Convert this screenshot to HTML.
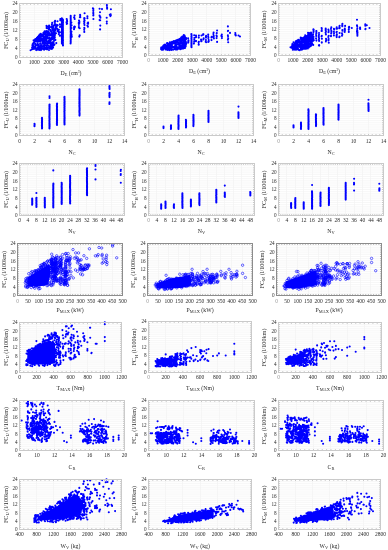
<!DOCTYPE html>
<html><head><meta charset="utf-8"><style>
html,body{margin:0;padding:0;background:#fff;}
svg{display:block;}
text{font-family:"Liberation Serif","DejaVu Serif",serif;fill:#2a2a2a;}
.tl{font-size:5.2px;}
.lg{fill:#9a9a9a;}
.xt{font-size:5.5px;}
.al{font-size:6.2px;}
.xl{font-size:5.8px;}
.xl .sb{font-size:4.4px;}
.xl .sp{font-size:3.6px;}
.sb{font-size:4.6px;}
.sp{font-size:4px;}
.dt{fill:none;stroke:#00f;stroke-width:2.1;stroke-linecap:round;}
.grid{stroke:#f1f1f1;stroke-width:0.6;fill:none;}
</style></head><body>
<svg width="388" height="550" viewBox="0 0 388 550">
<rect width="388" height="550" fill="#fff"/>
<path d="M34.5 3.5V57.5M48.5 3.5V57.5M63.5 3.5V57.5M78.5 3.5V57.5M93.5 3.5V57.5M107.5 3.5V57.5M19.5 55.25H122.5M19.5 53H122.5M19.5 50.75H122.5M19.5 48.5H122.5M19.5 46.25H122.5M19.5 44H122.5M19.5 41.75H122.5M19.5 39.5H122.5M19.5 37.25H122.5M19.5 35H122.5M19.5 32.75H122.5M19.5 30.5H122.5M19.5 28.25H122.5M19.5 26H122.5M19.5 23.75H122.5M19.5 21.5H122.5M19.5 19.25H122.5M19.5 17H122.5M19.5 14.75H122.5M19.5 12.5H122.5M19.5 10.25H122.5M19.5 8H122.5M19.5 5.75H122.5" class="grid"/>
<path d="M19.5 55.25h1.2M122.5 55.25h-1.2M19.5 53h1.2M122.5 53h-1.2M19.5 50.75h1.2M122.5 50.75h-1.2M19.5 48.5h1.2M122.5 48.5h-1.2M19.5 46.25h1.2M122.5 46.25h-1.2M19.5 44h1.2M122.5 44h-1.2M19.5 41.75h1.2M122.5 41.75h-1.2M19.5 39.5h1.2M122.5 39.5h-1.2M19.5 37.25h1.2M122.5 37.25h-1.2M19.5 35h1.2M122.5 35h-1.2M19.5 32.75h1.2M122.5 32.75h-1.2M19.5 30.5h1.2M122.5 30.5h-1.2M19.5 28.25h1.2M122.5 28.25h-1.2M19.5 26h1.2M122.5 26h-1.2M19.5 23.75h1.2M122.5 23.75h-1.2M19.5 21.5h1.2M122.5 21.5h-1.2M19.5 19.25h1.2M122.5 19.25h-1.2M19.5 17h1.2M122.5 17h-1.2M19.5 14.75h1.2M122.5 14.75h-1.2M19.5 12.5h1.2M122.5 12.5h-1.2M19.5 10.25h1.2M122.5 10.25h-1.2M19.5 8h1.2M122.5 8h-1.2M19.5 5.75h1.2M122.5 5.75h-1.2M23.18 57.5v-1.2M23.18 3.5v1.2M26.86 57.5v-1.2M26.86 3.5v1.2M30.54 57.5v-1.2M30.54 3.5v1.2M34.21 57.5v-1.2M34.21 3.5v1.2M37.89 57.5v-1.2M37.89 3.5v1.2M41.57 57.5v-1.2M41.57 3.5v1.2M45.25 57.5v-1.2M45.25 3.5v1.2M48.93 57.5v-1.2M48.93 3.5v1.2M52.61 57.5v-1.2M52.61 3.5v1.2M56.29 57.5v-1.2M56.29 3.5v1.2M59.96 57.5v-1.2M59.96 3.5v1.2M63.64 57.5v-1.2M63.64 3.5v1.2M67.32 57.5v-1.2M67.32 3.5v1.2M71 57.5v-1.2M71 3.5v1.2M74.68 57.5v-1.2M74.68 3.5v1.2M78.36 57.5v-1.2M78.36 3.5v1.2M82.04 57.5v-1.2M82.04 3.5v1.2M85.71 57.5v-1.2M85.71 3.5v1.2M89.39 57.5v-1.2M89.39 3.5v1.2M93.07 57.5v-1.2M93.07 3.5v1.2M96.75 57.5v-1.2M96.75 3.5v1.2M100.43 57.5v-1.2M100.43 3.5v1.2M104.11 57.5v-1.2M104.11 3.5v1.2M107.79 57.5v-1.2M107.79 3.5v1.2M111.46 57.5v-1.2M111.46 3.5v1.2M115.14 57.5v-1.2M115.14 3.5v1.2M118.82 57.5v-1.2M118.82 3.5v1.2" stroke="#888" stroke-width="0.6" fill="none"/>
<g fill="#00f"></g>
<path class="dt" d="M44.4 36.8h0M41.7 46.6h0M46.6 49.2h0M45.4 37.4h0M52.1 35.2h0M38.9 46.4h0M35.8 41.4h0M46.8 36.9h0M47.8 38.1h0M39 41.5h0M42.4 35.4h0M50.6 43.9h0M37.4 41.2h0M44.1 47.6h0M49 35.1h0M41.5 45.1h0M35.1 39.4h0M49.8 41.2h0M52.5 35.7h0M48.2 41.7h0M45.4 38.7h0M42.9 43.1h0M33 43.9h0M51.2 35.1h0M40.8 43.2h0M32.9 45.4h0M40.9 47.6h0M44.7 47.8h0M51.2 47.4h0M38.2 37.8h0M40.1 47.8h0M54.5 32.2h0M37.1 39.3h0M45.6 34.6h0M40.4 41.1h0M43.9 42.2h0M53.1 45.6h0M52.5 46h0M40.9 37.5h0M34 42.5h0M32.1 47.6h0M46.2 32.2h0M42.7 39.3h0M39.7 34.6h0M51.4 32.4h0M32.1 49.3h0M44.2 32.1h0M44.2 49.8h0M52.2 43.8h0M37.8 36.8h0M35.5 45.4h0M44.3 45.6h0M52 46.2h0M51.1 44.8h0M36.9 40h0M37.7 43.8h0M54.5 38.5h0M54.4 36.8h0M46.5 48.2h0M51.7 39.2h0M47.2 46h0M33.5 43.1h0M49.5 39.2h0M35.8 45.8h0M39.5 46.1h0M54.8 37.4h0M41.1 49.2h0M48.9 32.6h0M35 46.6h0M39.9 40.7h0M44.1 48.9h0M41.9 47.6h0M51.3 33.5h0M37.3 41.5h0M37.7 37.9h0M34.6 48.4h0M40 38.8h0M45.5 48.3h0M41.6 48.5h0M43.5 40.3h0M35.6 39.1h0M48.9 40.9h0M39.3 40h0M44.8 45.7h0M34 40.9h0M50 39.8h0M45 45.2h0M53.4 38.4h0M46.2 39.8h0M43.8 43.8h0M42.4 40.4h0M43 49.1h0M48.3 47.7h0M54.1 34.5h0M44.9 49.1h0M51.7 31.9h0M33.3 43.3h0M50.3 48.1h0M35.2 44.3h0M47.3 32h0M36.8 49.3h0M41.1 39.4h0M43.9 36.2h0M44.8 38.4h0M46.5 39.9h0M32.5 45.6h0M41.6 48.4h0M51.2 34.5h0M35.1 48.6h0M45.2 43.9h0M48 38.1h0M33.2 49h0M46.7 46.1h0M33.5 47.2h0M33.1 47.4h0M42.4 36.2h0M44.8 48.7h0M44.1 34.1h0M39 35.5h0M49.7 35.2h0M43.5 32.8h0M49.1 40.7h0M36 39.1h0M53.9 31.3h0M51.2 38.2h0M43.4 46.8h0M40.9 39.8h0M39.7 46.7h0M48.5 42.5h0M41.2 36.4h0M33.2 44.8h0M33.5 46.9h0M52.4 43.3h0M38.5 38.8h0M37.8 49.5h0M37.4 49.6h0M38.9 36.6h0M42.9 39.7h0M36.3 39.8h0M45.6 40.3h0M49.5 43h0M48.7 47.7h0M40.8 35.9h0M48.9 42.7h0M32.6 46.8h0M52.9 42.4h0M49.1 46.3h0M34.8 40.2h0M43.6 46.8h0M50.8 46.6h0M45.5 48h0M47.9 43.8h0M34 46.8h0M44.9 42.4h0M46.5 43.5h0M50.6 44.9h0M43.6 40.4h0M49.2 34.4h0M49 33.4h0M43.4 37.1h0M43 43.6h0M49.9 42.1h0M49.3 35.5h0M47.6 43.7h0M47.7 35.2h0M43.9 38.9h0M52.9 33.2h0M42.3 34.7h0M36.5 49.1h0M36.6 41.4h0M34.9 40.2h0M54.4 31.8h0M51.2 39.8h0M52.8 44h0M37.1 48.1h0M42.3 35.4h0M39.1 46.9h0M51.6 31.6h0M53.7 44.2h0M53.1 35.2h0M40.4 37.4h0M40.2 38.1h0M33.9 46.8h0M38.4 48.9h0M43.8 33h0M40.5 49.4h0M52.7 46.3h0M46.6 48.5h0M54.1 40.7h0M49.1 38.6h0M49.6 42.7h0M53.7 31.7h0M42.8 36.3h0M38.6 44.7h0M54.9 34.5h0M47.2 35.4h0M44.9 37.4h0M36.5 48.3h0M43.4 33.7h0M45.2 47.9h0M49.5 37.8h0M41.4 40.2h0M40.5 36.2h0M54.7 31.7h0M43.6 42.4h0M52.2 33.6h0M41.1 38.5h0M52.4 29.5h0M53 39.1h0M40.9 48.7h0M51.3 47.2h0M54.8 34.3h0M44 43.5h0M47 45.3h0M42.5 40.7h0M32.4 45.7h0M37.1 48.6h0M47 35.5h0M46.8 43.9h0M44.1 41.4h0M40.8 33.8h0M38.7 38.8h0M52.7 39.1h0M43.5 43.4h0M41.6 34.5h0M47.5 48.7h0M39.6 38h0M47.9 33.2h0M50.6 44.7h0M43.6 33.4h0M54.8 35.6h0M51.2 33.9h0M36.8 45.2h0M38.6 49.3h0M43.4 33h0M36.9 37.9h0M47.5 49.2h0M36.6 49.7h0M53.9 36h0M36 48.9h0M47.4 37.1h0M40.5 36.1h0M38.2 36.5h0M54.4 31.6h0M54.6 33.4h0M40.1 46.5h0M51.2 38.2h0M40.4 48.6h0M53 29.6h0M41.4 46.3h0M53.6 34.5h0M49.4 48.1h0M39.6 34.8h0M37.8 44.3h0M53.5 42.5h0M54.1 29.5h0M37.1 39.1h0M40.8 34.3h0M41.8 39.5h0M53.8 32.9h0M50.8 44.7h0M51.2 45.5h0M46.1 36h0M39.2 36.7h0M50.3 30.7h0M36.2 45h0M39.3 49.9h0M48.5 38.5h0M37.1 37.9h0M46.4 43.4h0M49.5 47h0M47.4 31.6h0M51.7 35.3h0M45.1 36.9h0M49.2 33.2h0M35.2 47.8h0M45.4 36h0M41 50.1h0M43.7 33.9h0M50.9 42.9h0M42.9 46.4h0M53.8 36.9h0M52.3 38.6h0M37.7 45.6h0M54.2 31.3h0M45.8 42.2h0M37.6 41.8h0M47.1 33.3h0M47.8 32.9h0M50.6 40.7h0M41 40.7h0M35.4 43.8h0M41.3 35h0M38.9 49.3h0M39 41.1h0M40.1 37.9h0M49 33.3h0M41.7 46.5h0M41.2 47.8h0M46.9 48.4h0M41 36.6h0M45.1 48.5h0M56 33.3h0M55.4 39.9h0M53.3 26.9h0M52.2 28.7h0M41.9 46.3h0M53.4 27.6h0M45 33.2h0M50.6 47.7h0M53.6 25.7h0M47.2 37.9h0M47.9 31h0M42.3 38.8h0M42.5 41h0M43.1 34.8h0M51.6 44.4h0M50.8 44.3h0M44.6 33.1h0M56.7 26.2h0M50.8 45.4h0M36.2 50.1h0M44.3 49.4h0M55.7 27.1h0M52.3 48.6h0M51.4 26.9h0M55.2 30.2h0M53 26.4h0M44.6 48.3h0M44.7 31.4h0M35.4 48.8h0M49.4 47.7h0M35.6 44.5h0M48.2 32.5h0M54.6 38.1h0M46.7 47.3h0M48 33.5h0M52.5 29.9h0M40.7 44h0M53.1 29.6h0M46.8 41.1h0M47.6 34.6h0M44.8 47.7h0M37.1 38.9h0M46.9 28.2h0M47.8 35.8h0M34.6 48.8h0M33.6 40.4h0M54.5 44.5h0M46.2 32.3h0M48.4 34.9h0M56.3 43.1h0M37.7 47.9h0M32.6 44.4h0M56.4 26.4h0M36.4 39.5h0M44.7 40.5h0M53 27.3h0M32.3 47.5h0M52.1 42.6h0M51.1 35.5h0M51 35.2h0M40.1 43.5h0M49.8 46.2h0M50.2 29.9h0M46 34.7h0M52.3 37.2h0M38.2 40.5h0M57.1 28.5h0M54.8 22.8h0M51.1 49h0M51.1 31.6h0M54.8 31.7h0M37.5 48h0M48 41.9h0M49 50h0M43.7 46.1h0M49.8 46.6h0M42.8 42.8h0M46.4 31.1h0M36.7 40h0M33.1 48.1h0M33.9 48.6h0M49.7 40.3h0M49.8 43.2h0M40.8 45.5h0M53.1 47.5h0M32.8 46.9h0M53.9 45.3h0M48.1 45.7h0M46.8 27.2h0M46.5 25.9h0M46.9 26.6h0M46.6 28.1h0M49.1 25.6h0M49.3 28.8h0M49.3 26.1h0M49.7 27.3h0M52.4 26.2h0M51.9 24.5h0M52.2 27.4h0M52.1 26.9h0M52.2 22.9h0M55.1 20.7h0M55.1 21.4h0M54.6 21.7h0M55.1 29.1h0M54.6 24.5h0M57.6 29.2h0M57.4 25.1h0M57.5 29.7h0M57.5 31.2h0M57.5 21.3h0M57.7 25.2h0M59.9 32.3h0M59.8 35.7h0M60.2 35.6h0M60.2 26.2h0M60 27h0M60.3 20.3h0M60.3 19h0M59.9 24.2h0M30.6 50.2h0M49 26.7h0M48.7 29.2h0M48.6 26.4h0M48.8 28.4h0M56 27.1h0M55.7 24.5h0M55.6 28.7h0M55.9 27.9h0M55.6 25.5h0M58.9 32.2h0M58.5 31.3h0M58.9 29.7h0M58.5 30.1h0M58.8 34.1h0M61.8 18.3h0M61.8 18.9h0M61.9 19.6h0M61.9 20.2h0M61.9 20.9h0M61.8 21.5h0M61.9 22.2h0M61.9 22.8h0M62 23.4h0M61.9 24.1h0M61.8 24.7h0M62 25.4h0M61.8 26h0M61.9 26.7h0M62 27.3h0M61.9 28h0M61.9 28.6h0M61.9 29.2h0M61.9 29.9h0M61.9 30.5h0M61.8 31.2h0M61.9 31.8h0M61.9 32.5h0M61.8 33.1h0M61.9 33.7h0M61.9 34.4h0M61.9 35h0M61.9 35.7h0M61.9 36.3h0M61.9 37h0M61.8 37.6h0M61.9 38.3h0M61.9 38.9h0M61.9 39.5h0M62 40.2h0M61.9 40.8h0M61.9 41.5h0M61.9 42.1h0M61.9 42.8h0M61.9 43.4h0M62.9 19.6h0M63 20.2h0M62.9 20.9h0M62.9 21.5h0M63 22.2h0M62.9 22.8h0M62.9 23.5h0M62.9 24.1h0M62.9 24.8h0M62.9 25.4h0M62.8 26.1h0M62.9 26.7h0M62.9 27.3h0M62.9 28h0M62.9 28.6h0M62.9 29.3h0M62.9 29.9h0M62.9 30.6h0M62.9 31.2h0M62.9 31.9h0M62.9 32.5h0M63 33.1h0M62.8 33.8h0M62.9 34.4h0M62.9 35.1h0M62.9 35.7h0M62.9 36.4h0M63 37h0M62.8 37.7h0M62.9 38.3h0M62.8 39h0M62.9 39.6h0M63 40.2h0M62.9 40.9h0M62.8 41.5h0M62.9 42.2h0M62.9 42.8h0M62.9 43.5h0M62.9 44.1h0M62.9 44.8h0M63 45.4h0M66.8 23.8h0M67.1 21.4h0M66.9 23.6h0M67 20.3h0M67.1 23.2h0M66.5 22.2h0M66.7 19h0M66.8 24h0M70.7 15.9h0M70.7 16.7h0M70.7 17.5h0M70.7 18.3h0M70.7 19.1h0M70.8 19.9h0M70.7 20.8h0M70.7 21.6h0M70.7 22.4h0M70.7 23.2h0M70.7 24h0M70.6 24.8h0M70.7 25.6h0M70.7 26.4h0M70.7 27.2h0M70.7 28h0M70.7 28.8h0M70.7 29.6h0M70.8 30.5h0M70.7 31.3h0M70.7 32.1h0M70.8 32.9h0M70.8 33.7h0M70.7 34.5h0M70.7 35.3h0M70.7 36.1h0M70.6 36.9h0M70.8 37.7h0M70.7 38.5h0M70.8 39.4h0M70.7 40.2h0M70.7 41h0M70.7 41.8h0M70.7 42.6h0M70.6 43.4h0M71.2 33.6h0M71.4 22.6h0M71.4 28h0M71.5 31.7h0M71.6 25.3h0M71.8 36.7h0M71.2 36h0M71.7 35h0M74.1 27.5h0M74.6 15.5h0M74 29.3h0M74.7 19h0M74.1 17.4h0M74.2 26.7h0M74.3 17.5h0M74.9 26.9h0M74.2 28.4h0M74.6 26.8h0M79.3 22.4h0M79.4 21.9h0M79 20.5h0M79.2 21h0M79.2 22.3h0M78.9 24.1h0M78.7 23.1h0M78.9 22.5h0M78.9 23.2h0M78.9 26h0M80.2 17.3h0M79.9 17.2h0M80.2 15.8h0M80.3 17.2h0M79.3 23.1h0M80.1 14.8h0M79.7 28.3h0M78.9 27.6h0M79.7 35.4h0M79.3 36.6h0M84.3 22.2h0M84.6 13.3h0M84.5 25h0M84.2 29.7h0M84.2 22h0M84.3 27.9h0M84.1 21.2h0M84.2 23.6h0M84.6 18.4h0M84.6 20.6h0M84.3 18h0M84.3 31.9h0M84.4 28.3h0M84.2 18.9h0M87.6 23.2h0M87.9 26.6h0M87.4 25.6h0M88.1 22.5h0M87.4 18.3h0M87.4 16.4h0M88.1 23.6h0M87.9 26.7h0M88.1 23.7h0M93.3 15.4h0M93.4 15.1h0M93.3 10.4h0M93.3 13.4h0M93.4 9h0M92.9 8.3h0M93.4 19h0M93.3 12.3h0M100.3 25.6h0M100 12.2h0M99.8 16.4h0M99.9 16.6h0M100.1 29.3h0M99.6 20.1h0M99.6 8.7h0M100.2 20.3h0M100.3 17h0M99.6 15.5h0M100.1 29.4h0M100.4 17.7h0M102 9.1h0M106.9 5.8h0M107.1 8.1h0M106.8 4h0M106.7 17.7h0M106.8 23.5h0M106.8 21.5h0M106.8 4.1h0M107.1 8.7h0M107.1 7.5h0M109.8 14.8h0M110.8 15.5h0M110.9 9.2h0M110.7 14.3h0M110.4 16.1h0"/>
<rect x="19.5" y="3.5" width="103" height="54" fill="none" stroke="#cacaca" stroke-width="1"/>
<text x="17.7" y="59.3" class="tl" text-anchor="end">0</text>
<text x="17.7" y="50.3" class="tl" text-anchor="end">4</text>
<text x="17.7" y="41.3" class="tl" text-anchor="end">8</text>
<text x="17.7" y="32.3" class="tl" text-anchor="end">12</text>
<text x="17.7" y="23.3" class="tl" text-anchor="end">16</text>
<text x="17.7" y="14.3" class="tl" text-anchor="end">20</text>
<text x="17.7" y="5.3" class="tl" text-anchor="end">24</text>
<text x="19.5" y="64.1" class="tl xt" text-anchor="middle">0</text>
<text x="34.21" y="64.1" class="tl xt" text-anchor="middle">1000</text>
<text x="48.93" y="64.1" class="tl xt" text-anchor="middle">2000</text>
<text x="63.64" y="64.1" class="tl xt" text-anchor="middle">3000</text>
<text x="78.36" y="64.1" class="tl xt" text-anchor="middle">4000</text>
<text x="93.07" y="64.1" class="tl xt" text-anchor="middle">5000</text>
<text x="107.79" y="64.1" class="tl xt" text-anchor="middle">6000</text>
<text x="122.5" y="64.1" class="tl xt" text-anchor="middle">7000</text>
<text x="71" y="75.4" class="al xl" text-anchor="middle">D<tspan class="sb" dy="0.9">E</tspan><tspan dy="-0.9"> (cm</tspan><tspan class="sp" dy="-2">3</tspan><tspan dy="2">)</tspan></text>
<text transform="translate(7.9 30.5) rotate(-90)" class="al" text-anchor="middle">FC<tspan class="sb" dy="1.2">U</tspan><tspan dy="-1.2"> (l/100km)</tspan></text>
<path d="M163.5 3.5V55.5M177.5 3.5V55.5M192.5 3.5V55.5M206.5 3.5V55.5M221.5 3.5V55.5M235.5 3.5V55.5M148.5 53.33H250.5M148.5 51.17H250.5M148.5 49H250.5M148.5 46.83H250.5M148.5 44.67H250.5M148.5 42.5H250.5M148.5 40.33H250.5M148.5 38.17H250.5M148.5 36H250.5M148.5 33.83H250.5M148.5 31.67H250.5M148.5 29.5H250.5M148.5 27.33H250.5M148.5 25.17H250.5M148.5 23H250.5M148.5 20.83H250.5M148.5 18.67H250.5M148.5 16.5H250.5M148.5 14.33H250.5M148.5 12.17H250.5M148.5 10H250.5M148.5 7.83H250.5M148.5 5.67H250.5" class="grid"/>
<path d="M148.5 53.33h1.2M250.5 53.33h-1.2M148.5 51.17h1.2M250.5 51.17h-1.2M148.5 49h1.2M250.5 49h-1.2M148.5 46.83h1.2M250.5 46.83h-1.2M148.5 44.67h1.2M250.5 44.67h-1.2M148.5 42.5h1.2M250.5 42.5h-1.2M148.5 40.33h1.2M250.5 40.33h-1.2M148.5 38.17h1.2M250.5 38.17h-1.2M148.5 36h1.2M250.5 36h-1.2M148.5 33.83h1.2M250.5 33.83h-1.2M148.5 31.67h1.2M250.5 31.67h-1.2M148.5 29.5h1.2M250.5 29.5h-1.2M148.5 27.33h1.2M250.5 27.33h-1.2M148.5 25.17h1.2M250.5 25.17h-1.2M148.5 23h1.2M250.5 23h-1.2M148.5 20.83h1.2M250.5 20.83h-1.2M148.5 18.67h1.2M250.5 18.67h-1.2M148.5 16.5h1.2M250.5 16.5h-1.2M148.5 14.33h1.2M250.5 14.33h-1.2M148.5 12.17h1.2M250.5 12.17h-1.2M148.5 10h1.2M250.5 10h-1.2M148.5 7.83h1.2M250.5 7.83h-1.2M148.5 5.67h1.2M250.5 5.67h-1.2M152.14 55.5v-1.2M152.14 3.5v1.2M155.79 55.5v-1.2M155.79 3.5v1.2M159.43 55.5v-1.2M159.43 3.5v1.2M163.07 55.5v-1.2M163.07 3.5v1.2M166.71 55.5v-1.2M166.71 3.5v1.2M170.36 55.5v-1.2M170.36 3.5v1.2M174 55.5v-1.2M174 3.5v1.2M177.64 55.5v-1.2M177.64 3.5v1.2M181.29 55.5v-1.2M181.29 3.5v1.2M184.93 55.5v-1.2M184.93 3.5v1.2M188.57 55.5v-1.2M188.57 3.5v1.2M192.21 55.5v-1.2M192.21 3.5v1.2M195.86 55.5v-1.2M195.86 3.5v1.2M199.5 55.5v-1.2M199.5 3.5v1.2M203.14 55.5v-1.2M203.14 3.5v1.2M206.79 55.5v-1.2M206.79 3.5v1.2M210.43 55.5v-1.2M210.43 3.5v1.2M214.07 55.5v-1.2M214.07 3.5v1.2M217.71 55.5v-1.2M217.71 3.5v1.2M221.36 55.5v-1.2M221.36 3.5v1.2M225 55.5v-1.2M225 3.5v1.2M228.64 55.5v-1.2M228.64 3.5v1.2M232.29 55.5v-1.2M232.29 3.5v1.2M235.93 55.5v-1.2M235.93 3.5v1.2M239.57 55.5v-1.2M239.57 3.5v1.2M243.21 55.5v-1.2M243.21 3.5v1.2M246.86 55.5v-1.2M246.86 3.5v1.2" stroke="#888" stroke-width="0.6" fill="none"/>
<g fill="#00f"></g>
<path class="dt" d="M166.9 49.6h0M168.4 45.9h0M164.5 48h0M169.9 43.5h0M171.8 45.1h0M163.9 47h0M169.8 44.6h0M176.9 41h0M170.4 46.8h0M185.4 46.8h0M161.7 49.8h0M178.9 47.5h0M169 44h0M171.5 48.4h0M170.2 45.2h0M176.2 48.5h0M181.7 38.9h0M171.4 43.7h0M181.9 48.4h0M161.2 47.6h0M181.8 48.1h0M182.9 47.1h0M178.4 48.8h0M174.9 47h0M165.4 46.3h0M185 38.2h0M176.3 45.1h0M166.9 46.3h0M181.3 41.7h0M162.4 47.1h0M180.8 38.1h0M175.6 48.6h0M183.8 42.7h0M172.8 43.7h0M164.9 45.5h0M169.8 43.3h0M170.9 42.6h0M183.3 42.1h0M180.9 41.2h0M185.4 46.5h0M175 48.1h0M172.3 49.3h0M184.5 35.5h0M176.1 40.7h0M163.3 49.5h0M167 43.3h0M177.2 49.5h0M178 40.7h0M181.1 45.6h0M180.3 49.2h0M175.9 46.4h0M161 49h0M166 49.1h0M183.3 48.4h0M162.7 49.1h0M182.6 44.3h0M182.1 42h0M179.2 43.2h0M163.9 48.1h0M182.6 39.7h0M168.6 48.7h0M163.1 49.8h0M161.6 48.5h0M169.8 50h0M184.1 35.4h0M179.5 39.1h0M181.7 39.8h0M182.4 42.8h0M184.5 37.9h0M164.9 46.6h0M176.4 42.3h0M176.5 45.6h0M181.8 43.6h0M179.7 40.9h0M181.8 39.8h0M182.6 48.1h0M184.5 42h0M183.4 38.7h0M165 47.5h0M170 43.8h0M172 42.6h0M163.3 45.7h0M181.9 48.1h0M168.7 45.6h0M170.3 46.3h0M161.7 48.2h0M185.6 42.3h0M173.8 42.8h0M186 38h0M166.8 47.3h0M175.5 42.7h0M183.4 45.7h0M173.3 42.3h0M175.9 48h0M182.6 42.7h0M170.7 49.3h0M180.9 39.8h0M171.7 49.9h0M181.6 48.8h0M181.9 47.8h0M177 40.2h0M171.7 42.4h0M185.2 44.4h0M181.8 48.4h0M183.8 35h0M174.6 49h0M174 41.3h0M185.5 39h0M168.2 44.6h0M185.7 42.6h0M182.6 44.1h0M175.3 44.7h0M165.5 45.6h0M172.4 43.1h0M176.5 41.8h0M170.3 43.7h0M183.2 38.2h0M175 42.2h0M167.7 50h0M168 46.6h0M183.4 41.4h0M171.9 46h0M185.8 46.1h0M169.5 45.1h0M176.6 47.8h0M182.1 42.6h0M179.9 46.1h0M180.4 41.9h0M181.1 45.6h0M184.6 36.5h0M180.6 43.7h0M173.4 49.6h0M175.4 41h0M181.1 48.2h0M176.3 40.4h0M172.2 41.7h0M179.4 39.1h0M170.5 43.2h0M181.2 47.8h0M173.5 41.5h0M184.7 39.6h0M182.7 47.6h0M185.8 37.7h0M171.5 48.8h0M175.2 42.3h0M184.7 46.6h0M173.9 42.6h0M178.4 40.6h0M169.7 43.8h0M169.5 49.4h0M178.2 42.7h0M170.8 43.3h0M175.4 48.3h0M185.9 42.1h0M171.9 44.3h0M174.3 47.3h0M184 45.3h0M183.9 41.1h0M173.8 42.4h0M177 44h0M169.5 50.1h0M171.1 46.8h0M168.3 45.3h0M182.6 43.7h0M173.4 43.2h0M167.2 44.6h0M175.5 40.9h0M174.1 47.4h0M176.5 47.1h0M180.7 39.6h0M179.2 40h0M162.7 48.7h0M161.5 48.5h0M175.7 49.5h0M171.8 44.2h0M185 47.9h0M168.5 48.6h0M181.9 39.3h0M176.2 49.5h0M173.3 49.4h0M168.3 48.2h0M173 46.9h0M186.1 39.1h0M163.4 47.4h0M177.9 39.8h0M164.2 45.6h0M182.4 36.5h0M171.9 47.6h0M181.6 37h0M169.5 45.8h0M170.2 49.5h0M165.6 49.4h0M184.2 43.7h0M183.4 36.4h0M173.8 43h0M167.3 46.6h0M170.4 44.8h0M164.8 47.8h0M168.7 44.9h0M169.8 42.3h0M163.4 45.7h0M184.4 46.6h0M183.7 48h0M177.8 40h0M171.1 44.8h0M182.8 40h0M163.2 48.8h0M179.7 45.7h0M182.6 43.4h0M171.7 45.2h0M182.4 46.7h0M183 44h0M163 46.9h0M165.7 48.8h0M178.7 40.7h0M180.1 47.5h0M185.4 41.1h0M185 45.3h0M179.9 47.5h0M176.9 41.6h0M171.5 42.5h0M184.9 36.5h0M178.9 47.1h0M167.1 43.1h0M186 44.5h0M179 45h0M173.9 41.5h0M185.1 40h0M168.1 48.4h0M169 47.3h0M174.8 46.4h0M164.6 44.9h0M176.1 41.7h0M180.6 47.5h0M165.3 45.5h0M186.3 43.3h0M184.7 44.6h0M176.9 49.2h0M182.6 39.1h0M165 44.5h0M164.6 46.8h0M182.3 46.1h0M182.2 39.5h0M169.9 43.1h0M170 47.5h0M175.3 44.3h0M182 45.6h0M173.3 42.3h0M171.9 49.7h0M182.6 47.9h0M181.2 41.2h0M167.7 44.9h0M173.9 41.1h0M177.9 47.4h0M184.3 37.1h0M185.8 44.2h0M178.2 44h0M168 43.5h0M185.6 42h0M169.3 48.4h0M188.1 38.3h0M188.5 40.7h0M188.2 42.6h0M188.3 41.9h0M188.3 41.4h0M188.4 40.2h0M191.4 34h0M191.4 34.7h0M191.6 35.3h0M191.5 36h0M191.4 36.6h0M191.6 37.3h0M191.5 38h0M191.4 38.6h0M191.5 39.3h0M191.5 39.9h0M191.5 40.6h0M191.5 41.3h0M191.5 41.9h0M191.5 42.6h0M191.4 43.2h0M191.5 43.9h0M191.5 44.6h0M191.4 45.2h0M191.5 45.9h0M191.4 46.5h0M191.5 47.2h0M194.3 39.5h0M194.2 41.4h0M193.9 43.6h0M194.2 35.3h0M194.3 38h0M193.9 43.3h0M196.1 41.1h0M195.9 41.1h0M195.8 37.2h0M196 35.6h0M196.2 37h0M198.6 42.2h0M198.7 44.4h0M198.8 44.2h0M198.7 44.8h0M198.9 35.5h0M198.8 37.6h0M198.9 41.8h0M201.5 35.5h0M201.2 41.3h0M201.6 41.1h0M201 40h0M201.1 39.5h0M201.5 35.5h0M203.7 38.3h0M203.3 34.8h0M203.4 39.4h0M203.4 34.2h0M203.1 34.2h0M206.1 35.9h0M205.9 36.8h0M206 37.6h0M205.7 41.7h0M205.9 40.1h0M206.1 42.3h0M208.2 36.3h0M208.3 38.1h0M208.7 41.4h0M208.2 34.5h0M208.7 40.1h0M208.4 37.8h0M208.3 41.9h0M211.5 40.1h0M211.7 36.8h0M211.5 37.4h0M213.9 38.5h0M213.4 34.1h0M213.6 37.2h0M213.7 36.4h0M213.6 32.5h0M213.7 35.8h0M216.5 35.5h0M217.1 30.5h0M216.6 38.1h0M216.7 33.3h0M216.8 33.1h0M216.8 36.3h0M217.1 41.9h0M221.4 35.9h0M221.9 38.1h0M221.9 36.4h0M221.8 34.5h0M227.9 39.7h0M228.2 42.3h0M228.1 30.8h0M228.2 38.7h0M228 36.8h0M227.9 35.3h0M227.9 26.4h0M227.9 31.1h0M230 32.9h0M235.8 35.4h0M235.4 34.2h0M235.3 34.7h0M235.3 33h0M238.5 35.5h0M240 36.5h0"/>
<rect x="148.5" y="3.5" width="102" height="52" fill="none" stroke="#cacaca" stroke-width="1"/>
<text x="146.7" y="57.3" class="tl" text-anchor="end">0</text>
<text x="146.7" y="48.63" class="tl" text-anchor="end">4</text>
<text x="146.7" y="39.97" class="tl" text-anchor="end">8</text>
<text x="146.7" y="31.3" class="tl" text-anchor="end">12</text>
<text x="146.7" y="22.63" class="tl" text-anchor="end">16</text>
<text x="146.7" y="13.97" class="tl" text-anchor="end">20</text>
<text x="146.7" y="5.3" class="tl" text-anchor="end">24</text>
<text x="148.5" y="62.1" class="tl lg xt" text-anchor="middle">0</text>
<text x="163.07" y="62.1" class="tl xt" text-anchor="middle">1000</text>
<text x="177.64" y="62.1" class="tl xt" text-anchor="middle">2000</text>
<text x="192.21" y="62.1" class="tl xt" text-anchor="middle">3000</text>
<text x="206.79" y="62.1" class="tl xt" text-anchor="middle">4000</text>
<text x="221.36" y="62.1" class="tl xt" text-anchor="middle">5000</text>
<text x="235.93" y="62.1" class="tl xt" text-anchor="middle">6000</text>
<text x="250.5" y="62.1" class="tl xt" text-anchor="middle">7000</text>
<text x="199.5" y="73.4" class="al xl" text-anchor="middle">D<tspan class="sb" dy="0.9">E</tspan><tspan dy="-0.9"> (cm</tspan><tspan class="sp" dy="-2">3</tspan><tspan dy="2">)</tspan></text>
<text transform="translate(136.4 29.5) rotate(-90)" class="al" text-anchor="middle">FC<tspan class="sb" dy="1.2">H</tspan><tspan dy="-1.2"> (l/100km)</tspan></text>
<path d="M293.5 3.5V55.5M307.5 3.5V55.5M322.5 3.5V55.5M336.5 3.5V55.5M351.5 3.5V55.5M365.5 3.5V55.5M278.5 53.33H380.5M278.5 51.17H380.5M278.5 49H380.5M278.5 46.83H380.5M278.5 44.67H380.5M278.5 42.5H380.5M278.5 40.33H380.5M278.5 38.17H380.5M278.5 36H380.5M278.5 33.83H380.5M278.5 31.67H380.5M278.5 29.5H380.5M278.5 27.33H380.5M278.5 25.17H380.5M278.5 23H380.5M278.5 20.83H380.5M278.5 18.67H380.5M278.5 16.5H380.5M278.5 14.33H380.5M278.5 12.17H380.5M278.5 10H380.5M278.5 7.83H380.5M278.5 5.67H380.5" class="grid"/>
<path d="M278.5 53.33h1.2M380.5 53.33h-1.2M278.5 51.17h1.2M380.5 51.17h-1.2M278.5 49h1.2M380.5 49h-1.2M278.5 46.83h1.2M380.5 46.83h-1.2M278.5 44.67h1.2M380.5 44.67h-1.2M278.5 42.5h1.2M380.5 42.5h-1.2M278.5 40.33h1.2M380.5 40.33h-1.2M278.5 38.17h1.2M380.5 38.17h-1.2M278.5 36h1.2M380.5 36h-1.2M278.5 33.83h1.2M380.5 33.83h-1.2M278.5 31.67h1.2M380.5 31.67h-1.2M278.5 29.5h1.2M380.5 29.5h-1.2M278.5 27.33h1.2M380.5 27.33h-1.2M278.5 25.17h1.2M380.5 25.17h-1.2M278.5 23h1.2M380.5 23h-1.2M278.5 20.83h1.2M380.5 20.83h-1.2M278.5 18.67h1.2M380.5 18.67h-1.2M278.5 16.5h1.2M380.5 16.5h-1.2M278.5 14.33h1.2M380.5 14.33h-1.2M278.5 12.17h1.2M380.5 12.17h-1.2M278.5 10h1.2M380.5 10h-1.2M278.5 7.83h1.2M380.5 7.83h-1.2M278.5 5.67h1.2M380.5 5.67h-1.2M282.14 55.5v-1.2M282.14 3.5v1.2M285.79 55.5v-1.2M285.79 3.5v1.2M289.43 55.5v-1.2M289.43 3.5v1.2M293.07 55.5v-1.2M293.07 3.5v1.2M296.71 55.5v-1.2M296.71 3.5v1.2M300.36 55.5v-1.2M300.36 3.5v1.2M304 55.5v-1.2M304 3.5v1.2M307.64 55.5v-1.2M307.64 3.5v1.2M311.29 55.5v-1.2M311.29 3.5v1.2M314.93 55.5v-1.2M314.93 3.5v1.2M318.57 55.5v-1.2M318.57 3.5v1.2M322.21 55.5v-1.2M322.21 3.5v1.2M325.86 55.5v-1.2M325.86 3.5v1.2M329.5 55.5v-1.2M329.5 3.5v1.2M333.14 55.5v-1.2M333.14 3.5v1.2M336.79 55.5v-1.2M336.79 3.5v1.2M340.43 55.5v-1.2M340.43 3.5v1.2M344.07 55.5v-1.2M344.07 3.5v1.2M347.71 55.5v-1.2M347.71 3.5v1.2M351.36 55.5v-1.2M351.36 3.5v1.2M355 55.5v-1.2M355 3.5v1.2M358.64 55.5v-1.2M358.64 3.5v1.2M362.29 55.5v-1.2M362.29 3.5v1.2M365.93 55.5v-1.2M365.93 3.5v1.2M369.57 55.5v-1.2M369.57 3.5v1.2M373.21 55.5v-1.2M373.21 3.5v1.2M376.86 55.5v-1.2M376.86 3.5v1.2" stroke="#888" stroke-width="0.6" fill="none"/>
<g fill="#00f"></g>
<path class="dt" d="M310 41h0M300.4 42.9h0M297.3 45.5h0M302.8 49h0M298 48.8h0M294.3 43.1h0M307.9 40.6h0M310 34.5h0M301.3 48.4h0M296.4 45.2h0M294.8 43.5h0M309.9 44.2h0M294.8 45.6h0M312.1 43.4h0M292.1 46.9h0M310.1 39.1h0M302.5 48h0M304.8 48.8h0M307.3 44.2h0M299.5 44.7h0M304.5 39h0M301.5 43.4h0M296.1 41.1h0M306.7 38.9h0M293.5 46.2h0M292.3 47h0M299.9 42.4h0M303.6 42.7h0M305.2 43.4h0M297.8 45.8h0M296.1 45.3h0M307.6 46.3h0M297.3 46.3h0M312.5 41h0M296.6 42.1h0M311.6 35.6h0M305.2 46.3h0M295.5 46h0M301.7 42.7h0M294.4 49.1h0M294.3 45.7h0M311.2 36.1h0M295.8 49.8h0M301.6 44h0M298.1 46.8h0M300.7 38.8h0M310.8 35.2h0M304.9 40.1h0M309.9 34.4h0M303.1 40.2h0M304.5 37.2h0M294.9 46.1h0M304.9 38.4h0M296.4 45.9h0M309 38.1h0M297.8 41.5h0M310.5 36.1h0M305.8 43.4h0M300.6 43.1h0M310.3 36.9h0M310.3 39.4h0M308 47.8h0M294.4 47.8h0M311 35.9h0M294.1 44.8h0M311.1 45.4h0M308.3 44.9h0M310.2 35.4h0M307 41.8h0M301.5 48.7h0M306.9 38h0M301.8 40.2h0M302.9 39.5h0M305.1 42.5h0M302.7 44.9h0M306.6 40.1h0M297.5 40.4h0M312.4 39.9h0M299 40.2h0M311.3 37.7h0M304.1 39.7h0M292.9 47.5h0M297.6 44.2h0M302.7 38.7h0M307.2 47.6h0M301.9 43.3h0M304.6 45.8h0M298.9 45.3h0M299.2 42.2h0M304.2 44.7h0M297.6 43.9h0M304.2 37.8h0M310.9 41.3h0M306.7 42.1h0M293.5 48.9h0M302.3 42.1h0M302.3 47h0M308.9 41.1h0M304.8 47.2h0M309.2 47h0M298.4 46.8h0M302.1 41h0M300.5 41.4h0M308.4 46.1h0M293.7 44.8h0M298.6 42.1h0M294.3 45.4h0M295.8 47.3h0M292.4 44h0M309.8 36.8h0M299.9 46.6h0M304.3 39.6h0M298.6 45.3h0M305 46.9h0M298.3 39.8h0M303.4 48.8h0M294.6 49.6h0M306.4 39.6h0M305.4 38.9h0M291.9 46h0M298.9 42.2h0M301.6 48.4h0M303.7 41.1h0M300.8 47.4h0M299.7 41.3h0M310.5 40.7h0M301.4 41.9h0M309 44.6h0M307.1 40.1h0M302.9 46.2h0M307.8 35.4h0M308.8 35.1h0M292.3 46h0M305.7 45.3h0M306 40.4h0M296.1 47.7h0M302.9 41.9h0M297.2 47.9h0M308.5 47.7h0M298.8 41.2h0M301.4 43.1h0M298.6 46.8h0M294.8 48.7h0M297.4 42.3h0M299.6 42.8h0M308.3 38.3h0M306.4 46.8h0M303.7 41h0M311.5 40.8h0M310.2 34.4h0M300.1 44.1h0M291.4 47.8h0M294.4 48.8h0M303 46.8h0M301.6 44.6h0M305.6 38.3h0M295.1 47.4h0M293.6 48.7h0M292.5 46.5h0M311.9 40.3h0M305.2 37.7h0M310.8 44.8h0M309.3 38.3h0M295.6 43.1h0M297.5 42.8h0M293.8 48.6h0M297.6 47.4h0M293.7 46.7h0M312.5 39.9h0M304.8 37.1h0M300.8 45.6h0M300 44.7h0M292.9 47.2h0M293.1 48.8h0M302.2 38.3h0M298.2 45.9h0M301.6 48.9h0M309.9 43.4h0M295.4 48.8h0M312.2 39.2h0M311.7 44.4h0M307.1 36.4h0M308.2 38.4h0M308.2 43.3h0M303.4 39.3h0M298.8 44.5h0M311.6 38.9h0M292.4 48.1h0M302.4 41.9h0M310.1 41.8h0M311.7 41.6h0M308.2 42.9h0M305.9 37.2h0M307.3 36h0M299.2 42.1h0M296.9 48.3h0M295.6 43.3h0M308.1 45.3h0M306 47h0M298.1 46.9h0M300.8 48.8h0M299.6 40.2h0M306.9 44.7h0M308.2 41.4h0M301.6 46.4h0M310.9 45.9h0M304.7 36.7h0M304.5 47.5h0M308.1 35h0M306.6 39.2h0M294 49.5h0M305.5 45.8h0M293.4 47.2h0M307.2 47.3h0M308.5 43.3h0M300.2 47.2h0M308.1 47.9h0M297.1 49.4h0M302.3 49.2h0M308.2 37.6h0M309.3 37.3h0M295.7 41.6h0M310.9 44.8h0M306.4 40h0M308.1 46.6h0M309 40.2h0M292.3 44.3h0M309.3 39.1h0M303.8 47.4h0M292.8 47h0M299.8 42.9h0M300.7 37.6h0M310.2 43.1h0M296.1 44.8h0M300.3 44h0M309.3 33.3h0M309.7 34.6h0M296.1 49.8h0M311.4 43h0M311.5 38.7h0M301.8 49.8h0M294.1 47.3h0M312.7 39.9h0M309.4 35.9h0M303.1 47.9h0M302.1 38.4h0M304.8 39.7h0M313 38.1h0M305.7 43.4h0M298.7 41.2h0M306.1 48.8h0M301.7 38.1h0M310 44.4h0M303.2 39.8h0M307.9 48.5h0M307.4 45.7h0M292.8 49.7h0M311.4 33.8h0M303.9 42.3h0M307.9 43.6h0M296.4 46h0M296.6 41.7h0M299.8 50.2h0M305.4 46.8h0M306.1 38.4h0M313.2 44.9h0M306.5 36.4h0M293.5 42.3h0M309.8 46.6h0M302.2 48.2h0M293.5 45.5h0M298.9 50h0M313.1 34.6h0M297.1 49.5h0M299 49.9h0M311.8 39.8h0M310.1 43.5h0M308.6 37.2h0M293.2 45.9h0M301 41.9h0M306 45.8h0M312 41.4h0M296.6 43.4h0M295.9 46.1h0M290.5 47.2h0M303.4 37.9h0M312.6 36.2h0M303 45.8h0M306.1 39.1h0M309.3 33.1h0M305.2 39.6h0M305.6 39.5h0M305.4 40.8h0M305.3 42.4h0M305.4 36.7h0M305.3 41.1h0M305.2 35.2h0M308.2 38.6h0M308.1 40.3h0M308.3 33.7h0M308 32.9h0M308 38.2h0M308.2 40.3h0M308.1 37h0M308.1 35.4h0M308.2 41.7h0M311 32.8h0M310.9 41h0M310.8 43h0M311 40.8h0M310.9 39.5h0M311 32.5h0M310.9 40.3h0M310.8 34.4h0M310.6 38.9h0M310.9 34.4h0M313.4 32.4h0M313.3 38.6h0M313.8 40.3h0M313.4 38.9h0M313.3 40.8h0M313.4 29.4h0M313.6 31.2h0M313.4 30.1h0M313.5 36.9h0M313.7 29.9h0M316.4 32h0M316.1 38.4h0M316.2 34.8h0M316.3 33.4h0M316.4 33.3h0M316.4 40.6h0M316.3 31.1h0M316.4 31h0M316.2 35.9h0M318.8 39.6h0M319.1 38.9h0M318.9 37.7h0M319 33h0M319.2 45.6h0M319.1 45.1h0M318.9 45.5h0M318.8 37.2h0M318.8 36.8h0M319.1 40.9h0M319 34.9h0M318.8 35.9h0M321.6 30.9h0M321.8 35.7h0M321.7 30.9h0M321.8 30.9h0M321.6 36.4h0M321.8 42.6h0M321.8 42.2h0M321.9 38.8h0M321.8 28.9h0M321.6 28.1h0M321.9 38.8h0M325.9 31.6h0M325.7 30.2h0M325.9 41.5h0M325.7 28.6h0M325.6 32.8h0M326 38.9h0M325.8 29.3h0M325.6 30.1h0M325.9 34.4h0M326.1 40.4h0M328.7 35.8h0M328.7 31.1h0M328.3 37h0M328.5 32.2h0M328.4 29.6h0M328.7 39h0M328.8 42.7h0M328.5 39.3h0M328.5 40.4h0M328.7 31.1h0M331 28.9h0M331.3 30.7h0M331 35.7h0M331.4 31.7h0M331 36.3h0M331.3 27.4h0M331.2 33.4h0M331.5 31.9h0M334.1 29.6h0M333.9 35.4h0M333.9 28.8h0M334.1 29h0M333.9 31.7h0M334 33.2h0M336.8 31.8h0M336.5 36.1h0M336.5 32.3h0M336.7 35.3h0M336.8 28.8h0M336.8 35.6h0M336.7 27.4h0M336.9 34.2h0M336.5 28.8h0M337 28.7h0M336.7 37.1h0M339.6 33h0M339.6 25.7h0M339.3 37.2h0M339.6 25.7h0M339.2 28.2h0M339.7 27.9h0M339.6 36.7h0M339.5 36.5h0M339.4 27.1h0M342 33.2h0M342 35.8h0M342.3 26.2h0M342.4 25.9h0M342.2 25.2h0M342.3 34.8h0M342.4 23.9h0M342.4 30.7h0M342.4 30h0M345 30.1h0M345.1 25.9h0M344.7 29.7h0M344.8 28.5h0M344.7 31.3h0M344.7 32h0M349.2 27.6h0M348.8 29.2h0M348.9 27.4h0M348.8 31.9h0M349.1 26.7h0M348.8 29.8h0M357.4 34.6h0M357 25.4h0M357.1 33h0M357.1 30h0M357.5 33.1h0M357 19.8h0M357 31.6h0M357.3 28.3h0M357.2 26.2h0M357.3 30.8h0M357.4 32.4h0M357.4 35.8h0M357.4 32.1h0M357 31.4h0M360.1 28.9h0M360.1 27.6h0M360.2 29h0M360.1 28h0M365.3 25.8h0M365.3 24.4h0M365.4 29.2h0M365.5 28.9h0M369.5 28h0M366.8 25.2h0M351.8 28h0"/>
<rect x="278.5" y="3.5" width="102" height="52" fill="none" stroke="#cacaca" stroke-width="1"/>
<text x="276.7" y="57.3" class="tl" text-anchor="end">0</text>
<text x="276.7" y="48.63" class="tl" text-anchor="end">4</text>
<text x="276.7" y="39.97" class="tl" text-anchor="end">8</text>
<text x="276.7" y="31.3" class="tl" text-anchor="end">12</text>
<text x="276.7" y="22.63" class="tl" text-anchor="end">16</text>
<text x="276.7" y="13.97" class="tl" text-anchor="end">20</text>
<text x="276.7" y="5.3" class="tl" text-anchor="end">24</text>
<text x="278.5" y="62.1" class="tl lg xt" text-anchor="middle">0</text>
<text x="293.07" y="62.1" class="tl xt" text-anchor="middle">1000</text>
<text x="307.64" y="62.1" class="tl xt" text-anchor="middle">2000</text>
<text x="322.21" y="62.1" class="tl xt" text-anchor="middle">3000</text>
<text x="336.79" y="62.1" class="tl xt" text-anchor="middle">4000</text>
<text x="351.36" y="62.1" class="tl xt" text-anchor="middle">5000</text>
<text x="365.93" y="62.1" class="tl xt" text-anchor="middle">6000</text>
<text x="380.5" y="62.1" class="tl xt" text-anchor="middle">7000</text>
<text x="329.5" y="73.4" class="al xl" text-anchor="middle">D<tspan class="sb" dy="0.9">E</tspan><tspan dy="-0.9"> (cm</tspan><tspan class="sp" dy="-2">3</tspan><tspan dy="2">)</tspan></text>
<text transform="translate(266.1 29.5) rotate(-90)" class="al" text-anchor="middle">FC<tspan class="sb" dy="1.2">M</tspan><tspan dy="-1.2"> (l/100km)</tspan></text>
<path d="M34.5 84.5V135.5M49.5 84.5V135.5M64.5 84.5V135.5M79.5 84.5V135.5M94.5 84.5V135.5M109.5 84.5V135.5M19.5 133.38H124.5M19.5 131.25H124.5M19.5 129.12H124.5M19.5 127H124.5M19.5 124.88H124.5M19.5 122.75H124.5M19.5 120.62H124.5M19.5 118.5H124.5M19.5 116.38H124.5M19.5 114.25H124.5M19.5 112.12H124.5M19.5 110H124.5M19.5 107.88H124.5M19.5 105.75H124.5M19.5 103.62H124.5M19.5 101.5H124.5M19.5 99.38H124.5M19.5 97.25H124.5M19.5 95.12H124.5M19.5 93H124.5M19.5 90.88H124.5M19.5 88.75H124.5M19.5 86.62H124.5" class="grid"/>
<path d="M19.5 133.38h1.2M124.5 133.38h-1.2M19.5 131.25h1.2M124.5 131.25h-1.2M19.5 129.12h1.2M124.5 129.12h-1.2M19.5 127h1.2M124.5 127h-1.2M19.5 124.88h1.2M124.5 124.88h-1.2M19.5 122.75h1.2M124.5 122.75h-1.2M19.5 120.62h1.2M124.5 120.62h-1.2M19.5 118.5h1.2M124.5 118.5h-1.2M19.5 116.38h1.2M124.5 116.38h-1.2M19.5 114.25h1.2M124.5 114.25h-1.2M19.5 112.12h1.2M124.5 112.12h-1.2M19.5 110h1.2M124.5 110h-1.2M19.5 107.88h1.2M124.5 107.88h-1.2M19.5 105.75h1.2M124.5 105.75h-1.2M19.5 103.62h1.2M124.5 103.62h-1.2M19.5 101.5h1.2M124.5 101.5h-1.2M19.5 99.38h1.2M124.5 99.38h-1.2M19.5 97.25h1.2M124.5 97.25h-1.2M19.5 95.12h1.2M124.5 95.12h-1.2M19.5 93h1.2M124.5 93h-1.2M19.5 90.88h1.2M124.5 90.88h-1.2M19.5 88.75h1.2M124.5 88.75h-1.2M19.5 86.62h1.2M124.5 86.62h-1.2M23.25 135.5v-1.2M23.25 84.5v1.2M27 135.5v-1.2M27 84.5v1.2M30.75 135.5v-1.2M30.75 84.5v1.2M34.5 135.5v-1.2M34.5 84.5v1.2M38.25 135.5v-1.2M38.25 84.5v1.2M42 135.5v-1.2M42 84.5v1.2M45.75 135.5v-1.2M45.75 84.5v1.2M49.5 135.5v-1.2M49.5 84.5v1.2M53.25 135.5v-1.2M53.25 84.5v1.2M57 135.5v-1.2M57 84.5v1.2M60.75 135.5v-1.2M60.75 84.5v1.2M64.5 135.5v-1.2M64.5 84.5v1.2M68.25 135.5v-1.2M68.25 84.5v1.2M72 135.5v-1.2M72 84.5v1.2M75.75 135.5v-1.2M75.75 84.5v1.2M79.5 135.5v-1.2M79.5 84.5v1.2M83.25 135.5v-1.2M83.25 84.5v1.2M87 135.5v-1.2M87 84.5v1.2M90.75 135.5v-1.2M90.75 84.5v1.2M94.5 135.5v-1.2M94.5 84.5v1.2M98.25 135.5v-1.2M98.25 84.5v1.2M102 135.5v-1.2M102 84.5v1.2M105.75 135.5v-1.2M105.75 84.5v1.2M109.5 135.5v-1.2M109.5 84.5v1.2M113.25 135.5v-1.2M113.25 84.5v1.2M117 135.5v-1.2M117 84.5v1.2M120.75 135.5v-1.2M120.75 84.5v1.2" stroke="#888" stroke-width="0.6" fill="none"/>
<g fill="#00f"></g>
<path class="dt" d="M34.5 123.7h0M34.6 124.2h0M34.6 124.7h0M34.5 125.3h0M34.5 125.8h0M34.5 126.3h0M42 117.9h0M41.9 118.3h0M42 118.7h0M42.1 119.2h0M42.1 119.6h0M42 120h0M42 120.4h0M42 120.9h0M42.1 121.3h0M42 121.7h0M42 122.1h0M41.9 122.6h0M42.1 123h0M42 123.4h0M42 123.8h0M42 124.3h0M42 124.7h0M42.1 125.1h0M41.9 125.5h0M42 126h0M42 126.4h0M42 126.8h0M42.1 127.2h0M42 127.7h0M42.1 128.1h0M42 128.5h0M49.5 96.3h0M49.5 97.9h0M49.6 104.6h0M49.4 105h0M49.5 105.4h0M49.5 105.8h0M49.6 106.2h0M49.4 106.7h0M49.5 107.1h0M49.5 107.5h0M49.6 107.9h0M49.4 108.3h0M49.5 108.7h0M49.5 109.1h0M49.5 109.5h0M49.5 109.9h0M49.5 110.3h0M49.5 110.8h0M49.5 111.2h0M49.4 111.6h0M49.5 112h0M49.5 112.4h0M49.5 112.8h0M49.6 113.2h0M49.5 113.6h0M49.5 114h0M49.5 114.4h0M49.5 114.9h0M49.5 115.3h0M49.5 115.7h0M49.4 116.1h0M49.4 116.5h0M49.4 116.9h0M49.5 117.3h0M49.4 117.7h0M49.4 118.1h0M49.5 118.6h0M49.6 119h0M49.5 119.4h0M49.5 119.8h0M49.5 120.2h0M49.4 120.6h0M49.4 121h0M49.5 121.4h0M49.5 121.8h0M49.5 122.2h0M49.5 122.7h0M49.5 123.1h0M49.4 123.5h0M49.6 123.9h0M49.5 124.3h0M49.6 124.7h0M49.4 125.1h0M49.6 125.5h0M49.5 125.9h0M49.6 126.3h0M49.5 126.8h0M49.5 127.2h0M49.5 127.6h0M49.4 128h0M49.5 128.4h0M57.1 103.6h0M56.9 104h0M57 104.4h0M57 104.8h0M57 105.2h0M56.9 105.6h0M56.9 106.1h0M56.9 106.5h0M57.1 106.9h0M57 107.3h0M57 107.7h0M57 108.1h0M57 108.5h0M56.9 108.9h0M56.9 109.3h0M57.1 109.7h0M56.9 110.2h0M57.1 110.6h0M57 111h0M57 111.4h0M56.9 111.8h0M57 112.2h0M57 112.6h0M57 113h0M57 113.4h0M56.9 113.8h0M57 114.2h0M57 114.7h0M57 115.1h0M57 115.5h0M57 115.9h0M57 116.3h0M57 116.7h0M57 117.1h0M57 117.5h0M57 117.9h0M57 118.3h0M57 118.8h0M57.1 119.2h0M56.9 119.6h0M57 120h0M57.1 120.4h0M57 120.8h0M56.9 121.2h0M57 121.6h0M56.9 122h0M57 122.4h0M57 122.9h0M56.9 123.3h0M56.9 123.7h0M57 124.1h0M56.9 124.5h0M57 124.9h0M64.5 96.9h0M64.4 97.3h0M64.4 97.7h0M64.5 98.1h0M64.5 98.5h0M64.6 99h0M64.5 99.4h0M64.4 99.8h0M64.5 100.2h0M64.5 100.6h0M64.5 101h0M64.6 101.4h0M64.6 101.8h0M64.6 102.2h0M64.4 102.6h0M64.6 103.1h0M64.5 103.5h0M64.5 103.9h0M64.4 104.3h0M64.6 104.7h0M64.5 105.1h0M64.4 105.5h0M64.5 105.9h0M64.6 106.3h0M64.5 106.8h0M64.5 107.2h0M64.4 107.6h0M64.5 108h0M64.5 108.4h0M64.5 108.8h0M64.5 109.2h0M64.5 109.6h0M64.4 110h0M64.6 110.4h0M64.5 110.9h0M64.4 111.3h0M64.4 111.7h0M64.5 112.1h0M64.5 112.5h0M64.4 112.9h0M64.5 113.3h0M64.5 113.7h0M64.5 114.1h0M64.5 114.5h0M64.5 115h0M64.5 115.4h0M64.5 115.8h0M64.4 116.2h0M64.5 116.6h0M64.6 117h0M64.5 117.4h0M64.6 117.8h0M64.5 118.2h0M64.6 118.7h0M64.4 119.1h0M64.5 119.5h0M64.5 119.9h0M64.6 120.3h0M64.4 120.7h0M64.5 121.1h0M64.4 121.5h0M64.5 121.9h0M64.4 122.3h0M64.5 122.8h0M64.5 123.2h0M64.5 123.6h0M64.6 124h0M64.5 124.4h0M79.5 89.2h0M79.4 89.6h0M79.6 90h0M79.5 90.4h0M79.5 90.8h0M79.5 91.2h0M79.6 91.6h0M79.5 92h0M79.6 92.4h0M79.5 92.9h0M79.5 93.3h0M79.6 93.7h0M79.5 94.1h0M79.6 94.5h0M79.5 94.9h0M79.5 95.3h0M79.6 95.7h0M79.5 96.1h0M79.5 96.5h0M79.5 96.9h0M79.5 97.3h0M79.4 97.7h0M79.5 98.1h0M79.4 98.5h0M79.6 98.9h0M79.4 99.4h0M79.5 99.8h0M79.5 100.2h0M79.5 100.6h0M79.5 101h0M79.5 101.4h0M79.4 101.8h0M79.5 102.2h0M79.4 102.6h0M79.6 103h0M79.4 103.4h0M79.4 103.8h0M79.5 104.2h0M79.5 104.6h0M79.6 105h0M79.4 105.4h0M79.5 105.9h0M79.4 106.3h0M79.5 106.7h0M79.5 107.1h0M79.5 107.5h0M79.6 107.9h0M79.5 108.3h0M79.6 108.7h0M79.6 109.1h0M79.5 109.5h0M79.6 109.9h0M79.5 110.3h0M79.4 110.7h0M79.6 111.1h0M79.4 111.5h0M79.4 111.9h0M79.5 112.4h0M79.5 112.8h0M79.6 113.2h0M79.6 113.6h0M79.5 114h0M79.5 114.4h0M79.6 114.8h0M79.5 115.2h0M79.5 115.6h0M109.5 86h0M109.4 86.5h0M109.5 87h0M109.5 87.5h0M109.5 87.9h0M109.5 88.4h0M109.6 88.9h0M109.6 92.8h0M109.5 93.3h0M109.4 93.8h0M109.6 94.2h0M109.5 94.7h0M109.4 95.2h0M109.5 95.7h0M109.5 96.1h0M109.5 96.6h0M109.5 97.1h0M109.5 102.4h0M109.5 103.2h0M109.4 103.9h0"/>
<rect x="19.5" y="84.5" width="105" height="51" fill="none" stroke="#cacaca" stroke-width="1"/>
<text x="17.7" y="137.3" class="tl" text-anchor="end">0</text>
<text x="17.7" y="128.8" class="tl" text-anchor="end">4</text>
<text x="17.7" y="120.3" class="tl" text-anchor="end">8</text>
<text x="17.7" y="111.8" class="tl" text-anchor="end">12</text>
<text x="17.7" y="103.3" class="tl" text-anchor="end">16</text>
<text x="17.7" y="94.8" class="tl" text-anchor="end">20</text>
<text x="17.7" y="86.3" class="tl" text-anchor="end">24</text>
<text x="19.5" y="142.6" class="tl xt" text-anchor="middle">0</text>
<text x="34.5" y="142.6" class="tl xt" text-anchor="middle">2</text>
<text x="49.5" y="142.6" class="tl xt" text-anchor="middle">4</text>
<text x="64.5" y="142.6" class="tl xt" text-anchor="middle">6</text>
<text x="79.5" y="142.6" class="tl xt" text-anchor="middle">8</text>
<text x="94.5" y="142.6" class="tl xt" text-anchor="middle">10</text>
<text x="109.5" y="142.6" class="tl xt" text-anchor="middle">12</text>
<text x="124.5" y="142.6" class="tl xt" text-anchor="middle">14</text>
<text x="72" y="153.6" class="al xl" text-anchor="middle">N<tspan class="sb" dy="0.9">C</tspan></text>
<text transform="translate(7.9 110) rotate(-90)" class="al" text-anchor="middle">FC<tspan class="sb" dy="1.2">U</tspan><tspan dy="-1.2"> (l/100km)</tspan></text>
<path d="M163.5 84.5V135.5M178.5 84.5V135.5M193.5 84.5V135.5M208.5 84.5V135.5M223.5 84.5V135.5M238.5 84.5V135.5M148.5 133.38H253.5M148.5 131.25H253.5M148.5 129.12H253.5M148.5 127H253.5M148.5 124.88H253.5M148.5 122.75H253.5M148.5 120.62H253.5M148.5 118.5H253.5M148.5 116.38H253.5M148.5 114.25H253.5M148.5 112.12H253.5M148.5 110H253.5M148.5 107.88H253.5M148.5 105.75H253.5M148.5 103.62H253.5M148.5 101.5H253.5M148.5 99.38H253.5M148.5 97.25H253.5M148.5 95.12H253.5M148.5 93H253.5M148.5 90.88H253.5M148.5 88.75H253.5M148.5 86.62H253.5" class="grid"/>
<path d="M148.5 133.38h1.2M253.5 133.38h-1.2M148.5 131.25h1.2M253.5 131.25h-1.2M148.5 129.12h1.2M253.5 129.12h-1.2M148.5 127h1.2M253.5 127h-1.2M148.5 124.88h1.2M253.5 124.88h-1.2M148.5 122.75h1.2M253.5 122.75h-1.2M148.5 120.62h1.2M253.5 120.62h-1.2M148.5 118.5h1.2M253.5 118.5h-1.2M148.5 116.38h1.2M253.5 116.38h-1.2M148.5 114.25h1.2M253.5 114.25h-1.2M148.5 112.12h1.2M253.5 112.12h-1.2M148.5 110h1.2M253.5 110h-1.2M148.5 107.88h1.2M253.5 107.88h-1.2M148.5 105.75h1.2M253.5 105.75h-1.2M148.5 103.62h1.2M253.5 103.62h-1.2M148.5 101.5h1.2M253.5 101.5h-1.2M148.5 99.38h1.2M253.5 99.38h-1.2M148.5 97.25h1.2M253.5 97.25h-1.2M148.5 95.12h1.2M253.5 95.12h-1.2M148.5 93h1.2M253.5 93h-1.2M148.5 90.88h1.2M253.5 90.88h-1.2M148.5 88.75h1.2M253.5 88.75h-1.2M148.5 86.62h1.2M253.5 86.62h-1.2M152.25 135.5v-1.2M152.25 84.5v1.2M156 135.5v-1.2M156 84.5v1.2M159.75 135.5v-1.2M159.75 84.5v1.2M163.5 135.5v-1.2M163.5 84.5v1.2M167.25 135.5v-1.2M167.25 84.5v1.2M171 135.5v-1.2M171 84.5v1.2M174.75 135.5v-1.2M174.75 84.5v1.2M178.5 135.5v-1.2M178.5 84.5v1.2M182.25 135.5v-1.2M182.25 84.5v1.2M186 135.5v-1.2M186 84.5v1.2M189.75 135.5v-1.2M189.75 84.5v1.2M193.5 135.5v-1.2M193.5 84.5v1.2M197.25 135.5v-1.2M197.25 84.5v1.2M201 135.5v-1.2M201 84.5v1.2M204.75 135.5v-1.2M204.75 84.5v1.2M208.5 135.5v-1.2M208.5 84.5v1.2M212.25 135.5v-1.2M212.25 84.5v1.2M216 135.5v-1.2M216 84.5v1.2M219.75 135.5v-1.2M219.75 84.5v1.2M223.5 135.5v-1.2M223.5 84.5v1.2M227.25 135.5v-1.2M227.25 84.5v1.2M231 135.5v-1.2M231 84.5v1.2M234.75 135.5v-1.2M234.75 84.5v1.2M238.5 135.5v-1.2M238.5 84.5v1.2M242.25 135.5v-1.2M242.25 84.5v1.2M246 135.5v-1.2M246 84.5v1.2M249.75 135.5v-1.2M249.75 84.5v1.2" stroke="#888" stroke-width="0.6" fill="none"/>
<g fill="#00f"></g>
<path class="dt" d="M163.5 126.5h0M163.5 127.3h0M163.5 128.1h0M171 125.4h0M171 125.9h0M170.9 126.4h0M171 126.9h0M171 127.4h0M171 127.9h0M171 128.4h0M170.9 128.9h0M178.6 115.5h0M178.5 115.9h0M178.5 116.3h0M178.5 116.8h0M178.6 117.2h0M178.5 117.6h0M178.5 118h0M178.6 118.4h0M178.6 118.8h0M178.5 119.3h0M178.5 119.7h0M178.5 120.1h0M178.5 120.5h0M178.5 120.9h0M178.4 121.4h0M178.5 121.8h0M178.5 122.2h0M178.5 122.6h0M178.4 123h0M178.4 123.5h0M178.5 123.9h0M178.5 124.3h0M178.4 124.7h0M178.5 125.1h0M178.6 125.6h0M178.5 126h0M178.5 126.4h0M178.5 126.8h0M178.5 127.2h0M178.4 127.6h0M178.5 128.1h0M178.4 128.5h0M178.5 128.9h0M185.9 119.9h0M186 120.3h0M186.1 120.7h0M186 121.2h0M186.1 121.6h0M186 122h0M186 122.4h0M186 122.9h0M186.1 123.3h0M186 123.7h0M186 124.1h0M186 124.5h0M186 125h0M186.1 125.4h0M186 125.8h0M186.1 126.2h0M186.1 126.7h0M186 127.1h0M186 127.5h0M193.4 114.9h0M193.5 115.3h0M193.5 115.7h0M193.5 116.1h0M193.4 116.6h0M193.4 117h0M193.4 117.4h0M193.5 117.8h0M193.4 118.2h0M193.5 118.6h0M193.5 119h0M193.5 119.5h0M193.6 119.9h0M193.4 120.3h0M193.4 120.7h0M193.6 121.1h0M193.6 121.5h0M193.4 122h0M193.5 122.4h0M193.5 122.8h0M193.5 123.2h0M193.5 123.6h0M193.5 124h0M193.5 124.4h0M193.4 124.9h0M193.4 125.3h0M193.4 125.7h0M193.4 126.1h0M208.5 110.8h0M208.5 111.2h0M208.5 111.6h0M208.5 112h0M208.5 112.5h0M208.5 112.9h0M208.5 113.3h0M208.5 113.7h0M208.6 114.1h0M208.5 114.5h0M208.4 114.9h0M208.4 115.4h0M208.5 115.8h0M208.5 116.2h0M208.5 116.6h0M208.5 117h0M208.5 117.4h0M208.5 117.9h0M208.4 118.3h0M208.5 118.7h0M208.5 119.1h0M208.5 119.5h0M208.5 119.9h0M208.5 120.3h0M208.5 120.8h0M208.4 121.2h0M208.5 121.6h0M208.5 122h0M238.5 106.6h0M238.4 112.2h0M238.5 112.6h0M238.5 113.1h0M238.4 113.5h0M238.5 114h0M238.5 114.4h0M238.5 114.8h0M238.5 115.3h0M238.5 115.7h0M238.5 116.1h0M238.4 116.6h0M238.5 117h0M238.5 117.5h0M238.5 117.9h0"/>
<rect x="148.5" y="84.5" width="105" height="51" fill="none" stroke="#cacaca" stroke-width="1"/>
<text x="146.7" y="137.3" class="tl" text-anchor="end">0</text>
<text x="146.7" y="128.8" class="tl" text-anchor="end">4</text>
<text x="146.7" y="120.3" class="tl" text-anchor="end">8</text>
<text x="146.7" y="111.8" class="tl" text-anchor="end">12</text>
<text x="146.7" y="103.3" class="tl" text-anchor="end">16</text>
<text x="146.7" y="94.8" class="tl" text-anchor="end">20</text>
<text x="146.7" y="86.3" class="tl" text-anchor="end">24</text>
<text x="148.5" y="142.6" class="tl lg xt" text-anchor="middle">0</text>
<text x="163.5" y="142.6" class="tl xt" text-anchor="middle">2</text>
<text x="178.5" y="142.6" class="tl xt" text-anchor="middle">4</text>
<text x="193.5" y="142.6" class="tl xt" text-anchor="middle">6</text>
<text x="208.5" y="142.6" class="tl xt" text-anchor="middle">8</text>
<text x="223.5" y="142.6" class="tl xt" text-anchor="middle">10</text>
<text x="238.5" y="142.6" class="tl xt" text-anchor="middle">12</text>
<text x="253.5" y="142.6" class="tl xt" text-anchor="middle">14</text>
<text x="201" y="153.6" class="al xl" text-anchor="middle">N<tspan class="sb" dy="0.9">C</tspan></text>
<text transform="translate(136.4 110) rotate(-90)" class="al" text-anchor="middle">FC<tspan class="sb" dy="1.2">H</tspan><tspan dy="-1.2"> (l/100km)</tspan></text>
<path d="M293.5 84.5V135.5M308.5 84.5V135.5M323.5 84.5V135.5M338.5 84.5V135.5M353.5 84.5V135.5M368.5 84.5V135.5M278.5 133.38H383.5M278.5 131.25H383.5M278.5 129.12H383.5M278.5 127H383.5M278.5 124.88H383.5M278.5 122.75H383.5M278.5 120.62H383.5M278.5 118.5H383.5M278.5 116.38H383.5M278.5 114.25H383.5M278.5 112.12H383.5M278.5 110H383.5M278.5 107.88H383.5M278.5 105.75H383.5M278.5 103.62H383.5M278.5 101.5H383.5M278.5 99.38H383.5M278.5 97.25H383.5M278.5 95.12H383.5M278.5 93H383.5M278.5 90.88H383.5M278.5 88.75H383.5M278.5 86.62H383.5" class="grid"/>
<path d="M278.5 133.38h1.2M383.5 133.38h-1.2M278.5 131.25h1.2M383.5 131.25h-1.2M278.5 129.12h1.2M383.5 129.12h-1.2M278.5 127h1.2M383.5 127h-1.2M278.5 124.88h1.2M383.5 124.88h-1.2M278.5 122.75h1.2M383.5 122.75h-1.2M278.5 120.62h1.2M383.5 120.62h-1.2M278.5 118.5h1.2M383.5 118.5h-1.2M278.5 116.38h1.2M383.5 116.38h-1.2M278.5 114.25h1.2M383.5 114.25h-1.2M278.5 112.12h1.2M383.5 112.12h-1.2M278.5 110h1.2M383.5 110h-1.2M278.5 107.88h1.2M383.5 107.88h-1.2M278.5 105.75h1.2M383.5 105.75h-1.2M278.5 103.62h1.2M383.5 103.62h-1.2M278.5 101.5h1.2M383.5 101.5h-1.2M278.5 99.38h1.2M383.5 99.38h-1.2M278.5 97.25h1.2M383.5 97.25h-1.2M278.5 95.12h1.2M383.5 95.12h-1.2M278.5 93h1.2M383.5 93h-1.2M278.5 90.88h1.2M383.5 90.88h-1.2M278.5 88.75h1.2M383.5 88.75h-1.2M278.5 86.62h1.2M383.5 86.62h-1.2M282.25 135.5v-1.2M282.25 84.5v1.2M286 135.5v-1.2M286 84.5v1.2M289.75 135.5v-1.2M289.75 84.5v1.2M293.5 135.5v-1.2M293.5 84.5v1.2M297.25 135.5v-1.2M297.25 84.5v1.2M301 135.5v-1.2M301 84.5v1.2M304.75 135.5v-1.2M304.75 84.5v1.2M308.5 135.5v-1.2M308.5 84.5v1.2M312.25 135.5v-1.2M312.25 84.5v1.2M316 135.5v-1.2M316 84.5v1.2M319.75 135.5v-1.2M319.75 84.5v1.2M323.5 135.5v-1.2M323.5 84.5v1.2M327.25 135.5v-1.2M327.25 84.5v1.2M331 135.5v-1.2M331 84.5v1.2M334.75 135.5v-1.2M334.75 84.5v1.2M338.5 135.5v-1.2M338.5 84.5v1.2M342.25 135.5v-1.2M342.25 84.5v1.2M346 135.5v-1.2M346 84.5v1.2M349.75 135.5v-1.2M349.75 84.5v1.2M353.5 135.5v-1.2M353.5 84.5v1.2M357.25 135.5v-1.2M357.25 84.5v1.2M361 135.5v-1.2M361 84.5v1.2M364.75 135.5v-1.2M364.75 84.5v1.2M368.5 135.5v-1.2M368.5 84.5v1.2M372.25 135.5v-1.2M372.25 84.5v1.2M376 135.5v-1.2M376 84.5v1.2M379.75 135.5v-1.2M379.75 84.5v1.2" stroke="#888" stroke-width="0.6" fill="none"/>
<g fill="#00f"></g>
<path class="dt" d="M293.5 125.4h0M293.5 125.9h0M293.5 126.4h0M293.6 127h0M293.5 127.5h0M301 122.6h0M301 123h0M301 123.5h0M300.9 124h0M301 124.4h0M301 124.8h0M301.1 125.3h0M301 125.8h0M301.1 126.2h0M301 126.7h0M301 127.1h0M301 127.5h0M301 128h0M300.9 128.5h0M301 128.9h0M308.4 109.4h0M308.4 109.8h0M308.5 110.2h0M308.4 110.6h0M308.6 111.1h0M308.6 111.5h0M308.5 111.9h0M308.5 112.3h0M308.4 112.7h0M308.5 113.1h0M308.5 113.5h0M308.5 114h0M308.5 114.4h0M308.5 114.8h0M308.5 115.2h0M308.4 115.6h0M308.4 116h0M308.5 116.5h0M308.5 116.9h0M308.5 117.3h0M308.5 117.7h0M308.5 118.1h0M308.5 118.5h0M308.5 118.9h0M308.5 119.4h0M308.5 119.8h0M308.5 120.2h0M308.5 120.6h0M308.6 121h0M308.6 121.4h0M308.5 121.8h0M308.4 122.3h0M308.5 122.7h0M308.5 123.1h0M308.5 123.5h0M308.4 123.9h0M308.6 124.3h0M308.6 124.8h0M308.4 125.2h0M308.5 125.6h0M308.5 126h0M308.5 126.4h0M308.4 126.8h0M308.5 127.2h0M308.5 127.7h0M308.5 128.1h0M308.4 128.5h0M308.5 128.9h0M315.9 114.4h0M316.1 114.8h0M315.9 115.2h0M316 115.7h0M316 116.1h0M315.9 116.5h0M315.9 116.9h0M315.9 117.3h0M315.9 117.7h0M316 118.2h0M316.1 118.6h0M315.9 119h0M315.9 119.4h0M316 119.8h0M316 120.2h0M316 120.7h0M315.9 121.1h0M316 121.5h0M316.1 121.9h0M315.9 122.3h0M316 122.8h0M316 123.2h0M316.1 123.6h0M316.1 124h0M316 124.4h0M316.1 124.8h0M316 125.3h0M316 125.7h0M316 126.1h0M323.5 108h0M323.5 108.4h0M323.4 108.8h0M323.5 109.2h0M323.6 109.6h0M323.4 110h0M323.6 110.5h0M323.5 110.9h0M323.5 111.3h0M323.5 111.7h0M323.5 112.1h0M323.6 112.5h0M323.4 112.9h0M323.6 113.3h0M323.5 113.7h0M323.4 114.1h0M323.5 114.6h0M323.5 115h0M323.5 115.4h0M323.5 115.8h0M323.6 116.2h0M323.6 116.6h0M323.5 117h0M323.4 117.4h0M323.5 117.8h0M323.5 118.2h0M323.6 118.7h0M323.6 119.1h0M323.5 119.5h0M323.6 119.9h0M323.6 120.3h0M323.5 120.7h0M323.5 121.1h0M323.5 121.5h0M323.5 121.9h0M323.5 122.3h0M323.4 122.8h0M323.5 123.2h0M323.6 123.6h0M323.5 124h0M323.5 124.4h0M323.6 124.8h0M338.5 104.5h0M338.5 104.9h0M338.6 105.3h0M338.5 105.7h0M338.6 106.2h0M338.5 106.6h0M338.5 107h0M338.6 107.4h0M338.5 107.8h0M338.5 108.2h0M338.5 108.6h0M338.6 109h0M338.4 109.5h0M338.5 109.9h0M338.5 110.3h0M338.6 110.7h0M338.5 111.1h0M338.6 111.5h0M338.6 111.9h0M338.6 112.4h0M338.4 112.8h0M338.6 113.2h0M338.5 113.6h0M338.5 114h0M338.5 114.4h0M338.4 114.8h0M338.6 115.3h0M338.5 115.7h0M338.5 116.1h0M338.5 116.5h0M338.5 116.9h0M338.5 117.3h0M338.6 117.7h0M338.5 118.1h0M338.5 118.6h0M338.5 119h0M338.4 119.4h0M338.5 119.8h0M368.5 99.7h0M368.4 103.4h0M368.5 103.8h0M368.5 104.2h0M368.4 104.7h0M368.4 105.1h0M368.5 105.5h0M368.5 105.9h0M368.5 106.4h0M368.5 106.8h0M368.5 107.2h0M368.6 107.6h0M368.5 108h0M368.5 108.5h0M368.6 108.9h0M368.5 109.3h0M368.6 109.7h0M368.5 110.2h0M368.5 110.6h0M368.6 111h0"/>
<rect x="278.5" y="84.5" width="105" height="51" fill="none" stroke="#cacaca" stroke-width="1"/>
<text x="276.7" y="137.3" class="tl" text-anchor="end">0</text>
<text x="276.7" y="128.8" class="tl" text-anchor="end">4</text>
<text x="276.7" y="120.3" class="tl" text-anchor="end">8</text>
<text x="276.7" y="111.8" class="tl" text-anchor="end">12</text>
<text x="276.7" y="103.3" class="tl" text-anchor="end">16</text>
<text x="276.7" y="94.8" class="tl" text-anchor="end">20</text>
<text x="276.7" y="86.3" class="tl" text-anchor="end">24</text>
<text x="278.5" y="142.6" class="tl lg xt" text-anchor="middle">0</text>
<text x="293.5" y="142.6" class="tl xt" text-anchor="middle">2</text>
<text x="308.5" y="142.6" class="tl xt" text-anchor="middle">4</text>
<text x="323.5" y="142.6" class="tl xt" text-anchor="middle">6</text>
<text x="338.5" y="142.6" class="tl xt" text-anchor="middle">8</text>
<text x="353.5" y="142.6" class="tl xt" text-anchor="middle">10</text>
<text x="368.5" y="142.6" class="tl xt" text-anchor="middle">12</text>
<text x="383.5" y="142.6" class="tl xt" text-anchor="middle">14</text>
<text x="331" y="153.6" class="al xl" text-anchor="middle">N<tspan class="sb" dy="0.9">C</tspan></text>
<text transform="translate(266.1 110) rotate(-90)" class="al" text-anchor="middle">FC<tspan class="sb" dy="1.2">M</tspan><tspan dy="-1.2"> (l/100km)</tspan></text>
<path d="M27.5 163.5V215.5M36.5 163.5V215.5M44.5 163.5V215.5M53.5 163.5V215.5M61.5 163.5V215.5M69.5 163.5V215.5M78.5 163.5V215.5M86.5 163.5V215.5M95.5 163.5V215.5M103.5 163.5V215.5M111.5 163.5V215.5M19.5 213.33H124.5M19.5 211.17H124.5M19.5 209H124.5M19.5 206.83H124.5M19.5 204.67H124.5M19.5 202.5H124.5M19.5 200.33H124.5M19.5 198.17H124.5M19.5 196H124.5M19.5 193.83H124.5M19.5 191.67H124.5M19.5 189.5H124.5M19.5 187.33H124.5M19.5 185.17H124.5M19.5 183H124.5M19.5 180.83H124.5M19.5 178.67H124.5M19.5 176.5H124.5M19.5 174.33H124.5M19.5 172.17H124.5M19.5 170H124.5M19.5 167.83H124.5M19.5 165.67H124.5" class="grid"/>
<path d="M19.5 213.33h1.2M124.5 213.33h-1.2M19.5 211.17h1.2M124.5 211.17h-1.2M19.5 209h1.2M124.5 209h-1.2M19.5 206.83h1.2M124.5 206.83h-1.2M19.5 204.67h1.2M124.5 204.67h-1.2M19.5 202.5h1.2M124.5 202.5h-1.2M19.5 200.33h1.2M124.5 200.33h-1.2M19.5 198.17h1.2M124.5 198.17h-1.2M19.5 196h1.2M124.5 196h-1.2M19.5 193.83h1.2M124.5 193.83h-1.2M19.5 191.67h1.2M124.5 191.67h-1.2M19.5 189.5h1.2M124.5 189.5h-1.2M19.5 187.33h1.2M124.5 187.33h-1.2M19.5 185.17h1.2M124.5 185.17h-1.2M19.5 183h1.2M124.5 183h-1.2M19.5 180.83h1.2M124.5 180.83h-1.2M19.5 178.67h1.2M124.5 178.67h-1.2M19.5 176.5h1.2M124.5 176.5h-1.2M19.5 174.33h1.2M124.5 174.33h-1.2M19.5 172.17h1.2M124.5 172.17h-1.2M19.5 170h1.2M124.5 170h-1.2M19.5 167.83h1.2M124.5 167.83h-1.2M19.5 165.67h1.2M124.5 165.67h-1.2M21.69 215.5v-1.2M21.69 163.5v1.2M23.88 215.5v-1.2M23.88 163.5v1.2M26.06 215.5v-1.2M26.06 163.5v1.2M28.25 215.5v-1.2M28.25 163.5v1.2M30.44 215.5v-1.2M30.44 163.5v1.2M32.62 215.5v-1.2M32.62 163.5v1.2M34.81 215.5v-1.2M34.81 163.5v1.2M37 215.5v-1.2M37 163.5v1.2M39.19 215.5v-1.2M39.19 163.5v1.2M41.38 215.5v-1.2M41.38 163.5v1.2M43.56 215.5v-1.2M43.56 163.5v1.2M45.75 215.5v-1.2M45.75 163.5v1.2M47.94 215.5v-1.2M47.94 163.5v1.2M50.12 215.5v-1.2M50.12 163.5v1.2M52.31 215.5v-1.2M52.31 163.5v1.2M54.5 215.5v-1.2M54.5 163.5v1.2M56.69 215.5v-1.2M56.69 163.5v1.2M58.88 215.5v-1.2M58.88 163.5v1.2M61.06 215.5v-1.2M61.06 163.5v1.2M63.25 215.5v-1.2M63.25 163.5v1.2M65.44 215.5v-1.2M65.44 163.5v1.2M67.62 215.5v-1.2M67.62 163.5v1.2M69.81 215.5v-1.2M69.81 163.5v1.2M72 215.5v-1.2M72 163.5v1.2M74.19 215.5v-1.2M74.19 163.5v1.2M76.38 215.5v-1.2M76.38 163.5v1.2M78.56 215.5v-1.2M78.56 163.5v1.2M80.75 215.5v-1.2M80.75 163.5v1.2M82.94 215.5v-1.2M82.94 163.5v1.2M85.12 215.5v-1.2M85.12 163.5v1.2M87.31 215.5v-1.2M87.31 163.5v1.2M89.5 215.5v-1.2M89.5 163.5v1.2M91.69 215.5v-1.2M91.69 163.5v1.2M93.88 215.5v-1.2M93.88 163.5v1.2M96.06 215.5v-1.2M96.06 163.5v1.2M98.25 215.5v-1.2M98.25 163.5v1.2M100.44 215.5v-1.2M100.44 163.5v1.2M102.62 215.5v-1.2M102.62 163.5v1.2M104.81 215.5v-1.2M104.81 163.5v1.2M107 215.5v-1.2M107 163.5v1.2M109.19 215.5v-1.2M109.19 163.5v1.2M111.38 215.5v-1.2M111.38 163.5v1.2M113.56 215.5v-1.2M113.56 163.5v1.2M115.75 215.5v-1.2M115.75 163.5v1.2M117.94 215.5v-1.2M117.94 163.5v1.2M120.12 215.5v-1.2M120.12 163.5v1.2M122.31 215.5v-1.2M122.31 163.5v1.2" stroke="#888" stroke-width="0.6" fill="none"/>
<g fill="#00f"></g>
<path class="dt" d="M32.2 198.6h0M32.1 199h0M32.2 199.5h0M32.3 199.9h0M32.2 200.3h0M32.2 200.8h0M32.2 201.2h0M32.3 201.7h0M32.2 202.1h0M32.2 202.5h0M32.2 203h0M32.2 203.4h0M32.3 203.8h0M32.2 204.3h0M32.1 204.7h0M36.4 193h0M36.5 197.8h0M36.3 198.2h0M36.4 198.7h0M36.4 199.1h0M36.4 199.5h0M36.4 200h0M36.3 200.4h0M36.4 200.8h0M36.5 201.3h0M36.4 201.7h0M36.4 202.1h0M36.4 202.6h0M36.4 203h0M36.4 203.4h0M36.4 203.9h0M36.5 204.3h0M36.5 204.7h0M36.4 205.2h0M36.4 205.6h0M36.4 206h0M36.5 206.5h0M36.4 206.9h0M44.8 197.8h0M44.8 198.2h0M44.8 198.6h0M44.7 199.1h0M44.8 199.5h0M44.8 199.9h0M44.8 200.3h0M44.7 200.7h0M44.9 201.1h0M44.9 201.6h0M44.8 202h0M44.8 202.4h0M44.7 202.8h0M44.9 203.2h0M44.8 203.6h0M44.8 204.1h0M44.9 204.5h0M44.8 204.9h0M44.9 205.3h0M44.8 205.7h0M44.7 206.1h0M44.8 206.6h0M44.9 207h0M44.9 207.4h0M53.3 170.4h0M53.4 183.6h0M53.3 184h0M53.4 184.4h0M53.3 184.8h0M53.2 185.2h0M53.3 185.7h0M53.3 186.1h0M53.3 186.5h0M53.3 186.9h0M53.3 187.3h0M53.3 187.7h0M53.3 188.1h0M53.3 188.5h0M53.3 188.9h0M53.2 189.3h0M53.2 189.8h0M53.3 190.2h0M53.3 190.6h0M53.3 191h0M53.3 191.4h0M53.3 191.8h0M53.3 192.2h0M53.2 192.6h0M53.3 193h0M53.4 193.4h0M53.3 193.9h0M53.3 194.3h0M53.3 194.7h0M53.3 195.1h0M53.3 195.5h0M53.3 195.9h0M53.3 196.3h0M53.4 196.7h0M53.4 197.1h0M53.2 197.6h0M53.4 198h0M53.3 198.4h0M53.2 198.8h0M53.2 199.2h0M53.3 199.6h0M53.3 200h0M53.2 200.4h0M53.3 200.8h0M53.3 201.2h0M53.4 201.7h0M53.3 202.1h0M53.3 202.5h0M53.3 202.9h0M53.3 203.3h0M53.2 203.7h0M53.3 204.1h0M53.3 204.5h0M53.3 204.9h0M53.2 205.3h0M53.3 205.8h0M53.2 206.2h0M53.3 206.6h0M53.3 207h0M53.3 207.4h0M61.6 182.7h0M61.7 183.1h0M61.7 183.5h0M61.8 183.9h0M61.7 184.3h0M61.8 184.7h0M61.7 185.1h0M61.7 185.6h0M61.7 186h0M61.6 186.4h0M61.6 186.8h0M61.6 187.2h0M61.7 187.6h0M61.8 188h0M61.7 188.4h0M61.7 188.8h0M61.7 189.2h0M61.7 189.6h0M61.7 190h0M61.7 190.4h0M61.6 190.9h0M61.8 191.3h0M61.7 191.7h0M61.6 192.1h0M61.8 192.5h0M61.7 192.9h0M61.7 193.3h0M61.7 193.7h0M61.8 194.1h0M61.7 194.5h0M61.7 194.9h0M61.7 195.3h0M61.7 195.7h0M61.7 196.2h0M61.7 196.6h0M61.8 197h0M61.6 197.4h0M61.7 197.8h0M61.8 198.2h0M61.7 198.6h0M61.7 199h0M61.7 199.4h0M61.7 199.8h0M61.8 200.2h0M61.7 200.6h0M61.7 201h0M61.6 201.5h0M61.6 201.9h0M61.8 202.3h0M61.7 202.7h0M61.6 203.1h0M61.7 203.5h0M61.7 203.9h0M70.1 175.9h0M70.1 176.3h0M70.2 176.7h0M70.1 177.1h0M70.1 177.5h0M70.2 178h0M70.1 178.4h0M70.1 178.8h0M70.1 179.2h0M70.1 179.6h0M70.1 180h0M70.1 180.4h0M70.1 180.8h0M70.1 181.2h0M70.1 181.6h0M70.1 182.1h0M70.2 182.5h0M70.1 182.9h0M70.1 183.3h0M70.1 183.7h0M70.2 184.1h0M70 184.5h0M70.1 184.9h0M70 185.3h0M70.1 185.8h0M70 186.2h0M70.1 186.6h0M70 187h0M70.1 187.4h0M70 187.8h0M70.1 188.2h0M70.1 188.6h0M70.1 189h0M70.2 189.4h0M70.2 189.9h0M70.1 190.3h0M70.2 190.7h0M70 191.1h0M70.2 191.5h0M70.1 191.9h0M70.1 192.3h0M70.1 192.7h0M70.2 193.1h0M70.1 193.5h0M70 194h0M70.2 194.4h0M70.1 194.8h0M70.1 195.2h0M70.2 195.6h0M70 196h0M70 196.4h0M70 196.8h0M70 197.2h0M70.1 197.7h0M70.1 198.1h0M70 198.5h0M70 198.9h0M70 199.3h0M70.1 199.7h0M70.1 200.1h0M70.2 200.5h0M70.1 200.9h0M70.2 201.3h0M70.1 201.8h0M70.1 202.2h0M70.1 202.6h0M70.1 203h0M70.2 203.4h0M87.1 168.2h0M87 168.6h0M86.9 169h0M86.9 169.4h0M86.9 169.8h0M87 170.2h0M87 170.7h0M86.9 171.1h0M87 171.5h0M87 171.9h0M86.9 172.3h0M87 172.7h0M87 173.1h0M87 173.5h0M87 173.9h0M87.1 174.3h0M87 174.7h0M87 175.2h0M87 175.6h0M87.1 176h0M87.1 176.4h0M87.1 176.8h0M87 177.2h0M86.9 177.6h0M86.9 178h0M87 178.4h0M87 178.8h0M86.9 179.2h0M87 179.7h0M87 180.1h0M87 180.5h0M86.9 180.9h0M87 181.3h0M87 181.7h0M87 182.1h0M87 182.5h0M87 182.9h0M87 183.3h0M87.1 183.7h0M87.1 184.2h0M87.1 184.6h0M87 185h0M87 185.4h0M87 185.8h0M87 186.2h0M87.1 186.6h0M87 187h0M87 187.4h0M87.1 187.8h0M87.1 188.2h0M87 188.7h0M87 189.1h0M87 189.5h0M87 189.9h0M87 190.3h0M86.9 190.7h0M87.1 191.1h0M87 191.5h0M87 191.9h0M87.1 192.3h0M86.9 192.7h0M87.1 193.2h0M87 193.6h0M86.9 194h0M87 194.4h0M87 194.8h0M87.1 195.2h0M95.5 165h0M95.5 165.9h0M95.5 169.5h0M95.5 179.4h0M120.9 169.8h0M120.7 171h0M120.8 174.1h0M120.7 174.9h0M120.8 182.7h0"/>
<rect x="19.5" y="163.5" width="105" height="52" fill="none" stroke="#cacaca" stroke-width="1"/>
<text x="17.7" y="217.3" class="tl" text-anchor="end">0</text>
<text x="17.7" y="208.63" class="tl" text-anchor="end">4</text>
<text x="17.7" y="199.97" class="tl" text-anchor="end">8</text>
<text x="17.7" y="191.3" class="tl" text-anchor="end">12</text>
<text x="17.7" y="182.63" class="tl" text-anchor="end">16</text>
<text x="17.7" y="173.97" class="tl" text-anchor="end">20</text>
<text x="17.7" y="165.3" class="tl" text-anchor="end">24</text>
<text x="19.5" y="222.3" class="tl xt" text-anchor="middle">0</text>
<text x="27.9" y="222.3" class="tl xt" text-anchor="middle">4</text>
<text x="36.3" y="222.3" class="tl xt" text-anchor="middle">8</text>
<text x="44.7" y="222.3" class="tl xt" text-anchor="middle">12</text>
<text x="53.1" y="222.3" class="tl xt" text-anchor="middle">16</text>
<text x="61.5" y="222.3" class="tl xt" text-anchor="middle">20</text>
<text x="69.9" y="222.3" class="tl xt" text-anchor="middle">24</text>
<text x="78.3" y="222.3" class="tl xt" text-anchor="middle">28</text>
<text x="86.7" y="222.3" class="tl xt" text-anchor="middle">32</text>
<text x="95.1" y="222.3" class="tl xt" text-anchor="middle">36</text>
<text x="103.5" y="222.3" class="tl xt" text-anchor="middle">40</text>
<text x="111.9" y="222.3" class="tl xt" text-anchor="middle">44</text>
<text x="120.3" y="222.3" class="tl xt" text-anchor="middle">48</text>
<text x="72" y="232.7" class="al xl" text-anchor="middle">N<tspan class="sb" dy="0.9">V</tspan></text>
<text transform="translate(7.9 189.5) rotate(-90)" class="al" text-anchor="middle">FC<tspan class="sb" dy="1.2">U</tspan><tspan dy="-1.2"> (l/100km)</tspan></text>
<path d="M156.5 163.5V215.5M165.5 163.5V215.5M173.5 163.5V215.5M182.5 163.5V215.5M190.5 163.5V215.5M199.5 163.5V215.5M207.5 163.5V215.5M216.5 163.5V215.5M224.5 163.5V215.5M233.5 163.5V215.5M241.5 163.5V215.5M148.5 213.33H254.5M148.5 211.17H254.5M148.5 209H254.5M148.5 206.83H254.5M148.5 204.67H254.5M148.5 202.5H254.5M148.5 200.33H254.5M148.5 198.17H254.5M148.5 196H254.5M148.5 193.83H254.5M148.5 191.67H254.5M148.5 189.5H254.5M148.5 187.33H254.5M148.5 185.17H254.5M148.5 183H254.5M148.5 180.83H254.5M148.5 178.67H254.5M148.5 176.5H254.5M148.5 174.33H254.5M148.5 172.17H254.5M148.5 170H254.5M148.5 167.83H254.5M148.5 165.67H254.5" class="grid"/>
<path d="M148.5 213.33h1.2M254.5 213.33h-1.2M148.5 211.17h1.2M254.5 211.17h-1.2M148.5 209h1.2M254.5 209h-1.2M148.5 206.83h1.2M254.5 206.83h-1.2M148.5 204.67h1.2M254.5 204.67h-1.2M148.5 202.5h1.2M254.5 202.5h-1.2M148.5 200.33h1.2M254.5 200.33h-1.2M148.5 198.17h1.2M254.5 198.17h-1.2M148.5 196h1.2M254.5 196h-1.2M148.5 193.83h1.2M254.5 193.83h-1.2M148.5 191.67h1.2M254.5 191.67h-1.2M148.5 189.5h1.2M254.5 189.5h-1.2M148.5 187.33h1.2M254.5 187.33h-1.2M148.5 185.17h1.2M254.5 185.17h-1.2M148.5 183h1.2M254.5 183h-1.2M148.5 180.83h1.2M254.5 180.83h-1.2M148.5 178.67h1.2M254.5 178.67h-1.2M148.5 176.5h1.2M254.5 176.5h-1.2M148.5 174.33h1.2M254.5 174.33h-1.2M148.5 172.17h1.2M254.5 172.17h-1.2M148.5 170h1.2M254.5 170h-1.2M148.5 167.83h1.2M254.5 167.83h-1.2M148.5 165.67h1.2M254.5 165.67h-1.2M150.71 215.5v-1.2M150.71 163.5v1.2M152.92 215.5v-1.2M152.92 163.5v1.2M155.12 215.5v-1.2M155.12 163.5v1.2M157.33 215.5v-1.2M157.33 163.5v1.2M159.54 215.5v-1.2M159.54 163.5v1.2M161.75 215.5v-1.2M161.75 163.5v1.2M163.96 215.5v-1.2M163.96 163.5v1.2M166.17 215.5v-1.2M166.17 163.5v1.2M168.38 215.5v-1.2M168.38 163.5v1.2M170.58 215.5v-1.2M170.58 163.5v1.2M172.79 215.5v-1.2M172.79 163.5v1.2M175 215.5v-1.2M175 163.5v1.2M177.21 215.5v-1.2M177.21 163.5v1.2M179.42 215.5v-1.2M179.42 163.5v1.2M181.62 215.5v-1.2M181.62 163.5v1.2M183.83 215.5v-1.2M183.83 163.5v1.2M186.04 215.5v-1.2M186.04 163.5v1.2M188.25 215.5v-1.2M188.25 163.5v1.2M190.46 215.5v-1.2M190.46 163.5v1.2M192.67 215.5v-1.2M192.67 163.5v1.2M194.88 215.5v-1.2M194.88 163.5v1.2M197.08 215.5v-1.2M197.08 163.5v1.2M199.29 215.5v-1.2M199.29 163.5v1.2M201.5 215.5v-1.2M201.5 163.5v1.2M203.71 215.5v-1.2M203.71 163.5v1.2M205.92 215.5v-1.2M205.92 163.5v1.2M208.12 215.5v-1.2M208.12 163.5v1.2M210.33 215.5v-1.2M210.33 163.5v1.2M212.54 215.5v-1.2M212.54 163.5v1.2M214.75 215.5v-1.2M214.75 163.5v1.2M216.96 215.5v-1.2M216.96 163.5v1.2M219.17 215.5v-1.2M219.17 163.5v1.2M221.38 215.5v-1.2M221.38 163.5v1.2M223.58 215.5v-1.2M223.58 163.5v1.2M225.79 215.5v-1.2M225.79 163.5v1.2M228 215.5v-1.2M228 163.5v1.2M230.21 215.5v-1.2M230.21 163.5v1.2M232.42 215.5v-1.2M232.42 163.5v1.2M234.62 215.5v-1.2M234.62 163.5v1.2M236.83 215.5v-1.2M236.83 163.5v1.2M239.04 215.5v-1.2M239.04 163.5v1.2M241.25 215.5v-1.2M241.25 163.5v1.2M243.46 215.5v-1.2M243.46 163.5v1.2M245.67 215.5v-1.2M245.67 163.5v1.2M247.88 215.5v-1.2M247.88 163.5v1.2M250.08 215.5v-1.2M250.08 163.5v1.2M252.29 215.5v-1.2M252.29 163.5v1.2" stroke="#888" stroke-width="0.6" fill="none"/>
<g fill="#00f"></g>
<path class="dt" d="M161.2 204.4h0M161.1 204.9h0M161.3 205.4h0M161.2 205.8h0M161.2 206.3h0M161.2 206.8h0M161.2 207.3h0M161.2 207.7h0M161.1 208.2h0M161.2 208.7h0M165.5 201.6h0M165.5 202h0M165.5 202.5h0M165.5 202.9h0M165.5 203.4h0M165.6 203.8h0M165.6 204.3h0M165.6 204.8h0M165.5 205.2h0M165.5 205.7h0M165.5 206.1h0M165.5 206.6h0M165.5 207h0M165.6 207.5h0M165.5 207.9h0M174 204.4h0M173.9 204.9h0M173.8 205.4h0M173.9 205.9h0M173.8 206.4h0M173.9 206.9h0M173.8 207.4h0M174 207.9h0M182.4 193.4h0M182.4 193.8h0M182.3 194.2h0M182.4 194.6h0M182.4 195.1h0M182.4 195.5h0M182.5 195.9h0M182.3 196.3h0M182.4 196.7h0M182.3 197.1h0M182.5 197.5h0M182.5 198h0M182.3 198.4h0M182.4 198.8h0M182.4 199.2h0M182.4 199.6h0M182.4 200h0M182.4 200.4h0M182.5 200.9h0M182.3 201.3h0M182.3 201.7h0M182.5 202.1h0M182.3 202.5h0M182.3 202.9h0M182.4 203.3h0M182.4 203.8h0M182.3 204.2h0M182.5 204.6h0M182.4 205h0M182.4 205.4h0M182.4 205.8h0M182.5 206.2h0M182.4 206.7h0M182.5 207.1h0M182.4 207.5h0M182.5 207.9h0M190.9 199.5h0M190.9 199.9h0M190.9 200.4h0M191 200.8h0M190.9 201.2h0M190.8 201.7h0M191 202.1h0M190.9 202.6h0M190.9 203h0M190.9 203.4h0M190.9 203.9h0M190.9 204.3h0M191 204.8h0M191 205.2h0M191 205.6h0M190.8 206.1h0M190.9 206.5h0M199.4 193.4h0M199.4 193.8h0M199.3 194.2h0M199.3 194.7h0M199.4 195.1h0M199.4 195.5h0M199.4 195.9h0M199.4 196.3h0M199.4 196.7h0M199.4 197.2h0M199.4 197.6h0M199.3 198h0M199.5 198.4h0M199.4 198.8h0M199.5 199.2h0M199.5 199.7h0M199.3 200.1h0M199.4 200.5h0M199.5 200.9h0M199.4 201.3h0M199.4 201.8h0M199.4 202.2h0M199.3 202.6h0M199.4 203h0M199.3 203.4h0M199.4 203.8h0M199.4 204.3h0M199.4 204.7h0M199.5 205.1h0M216.3 189.8h0M216.3 190.2h0M216.4 190.6h0M216.3 191.1h0M216.3 191.5h0M216.4 191.9h0M216.3 192.3h0M216.3 192.7h0M216.3 193.2h0M216.3 193.6h0M216.4 194h0M216.3 194.4h0M216.4 194.8h0M216.2 195.3h0M216.2 195.7h0M216.3 196.1h0M216.3 196.5h0M216.3 196.9h0M216.2 197.4h0M216.4 197.8h0M216.3 198.2h0M216.3 198.6h0M216.4 199h0M216.4 199.5h0M216.3 199.9h0M216.3 200.3h0M216.2 200.7h0M216.2 201.1h0M216.3 201.6h0M216.4 202h0M216.3 202.4h0M224.8 185.6h0M224.8 192.6h0M224.7 193.1h0M224.8 193.6h0M224.9 194h0M224.8 194.5h0M224.9 195h0M224.7 195.5h0M224.8 195.9h0M224.7 196.4h0M224.9 196.9h0M250.2 192h0M250.4 192.5h0M250.3 193h0M250.4 193.5h0M250.3 194h0M250.3 194.5h0M250.4 195h0M250.3 195.5h0"/>
<rect x="148.5" y="163.5" width="106" height="52" fill="none" stroke="#cacaca" stroke-width="1"/>
<text x="146.7" y="217.3" class="tl" text-anchor="end">0</text>
<text x="146.7" y="208.63" class="tl" text-anchor="end">4</text>
<text x="146.7" y="199.97" class="tl" text-anchor="end">8</text>
<text x="146.7" y="191.3" class="tl" text-anchor="end">12</text>
<text x="146.7" y="182.63" class="tl" text-anchor="end">16</text>
<text x="146.7" y="173.97" class="tl" text-anchor="end">20</text>
<text x="146.7" y="165.3" class="tl" text-anchor="end">24</text>
<text x="148.5" y="222.3" class="tl lg xt" text-anchor="middle">0</text>
<text x="156.98" y="222.3" class="tl xt" text-anchor="middle">4</text>
<text x="165.46" y="222.3" class="tl xt" text-anchor="middle">8</text>
<text x="173.94" y="222.3" class="tl xt" text-anchor="middle">12</text>
<text x="182.42" y="222.3" class="tl xt" text-anchor="middle">16</text>
<text x="190.9" y="222.3" class="tl xt" text-anchor="middle">20</text>
<text x="199.38" y="222.3" class="tl xt" text-anchor="middle">24</text>
<text x="207.86" y="222.3" class="tl xt" text-anchor="middle">28</text>
<text x="216.34" y="222.3" class="tl xt" text-anchor="middle">32</text>
<text x="224.82" y="222.3" class="tl xt" text-anchor="middle">36</text>
<text x="233.3" y="222.3" class="tl xt" text-anchor="middle">40</text>
<text x="241.78" y="222.3" class="tl xt" text-anchor="middle">44</text>
<text x="250.26" y="222.3" class="tl xt" text-anchor="middle">48</text>
<text x="201.5" y="232.7" class="al xl" text-anchor="middle">N<tspan class="sb" dy="0.9">V</tspan></text>
<text transform="translate(136.4 189.5) rotate(-90)" class="al" text-anchor="middle">FC<tspan class="sb" dy="1.2">H</tspan><tspan dy="-1.2"> (l/100km)</tspan></text>
<path d="M286.5 163.5V215.5M295.5 163.5V215.5M303.5 163.5V215.5M312.5 163.5V215.5M320.5 163.5V215.5M328.5 163.5V215.5M337.5 163.5V215.5M345.5 163.5V215.5M354.5 163.5V215.5M362.5 163.5V215.5M370.5 163.5V215.5M278.5 213.33H383.5M278.5 211.17H383.5M278.5 209H383.5M278.5 206.83H383.5M278.5 204.67H383.5M278.5 202.5H383.5M278.5 200.33H383.5M278.5 198.17H383.5M278.5 196H383.5M278.5 193.83H383.5M278.5 191.67H383.5M278.5 189.5H383.5M278.5 187.33H383.5M278.5 185.17H383.5M278.5 183H383.5M278.5 180.83H383.5M278.5 178.67H383.5M278.5 176.5H383.5M278.5 174.33H383.5M278.5 172.17H383.5M278.5 170H383.5M278.5 167.83H383.5M278.5 165.67H383.5" class="grid"/>
<path d="M278.5 213.33h1.2M383.5 213.33h-1.2M278.5 211.17h1.2M383.5 211.17h-1.2M278.5 209h1.2M383.5 209h-1.2M278.5 206.83h1.2M383.5 206.83h-1.2M278.5 204.67h1.2M383.5 204.67h-1.2M278.5 202.5h1.2M383.5 202.5h-1.2M278.5 200.33h1.2M383.5 200.33h-1.2M278.5 198.17h1.2M383.5 198.17h-1.2M278.5 196h1.2M383.5 196h-1.2M278.5 193.83h1.2M383.5 193.83h-1.2M278.5 191.67h1.2M383.5 191.67h-1.2M278.5 189.5h1.2M383.5 189.5h-1.2M278.5 187.33h1.2M383.5 187.33h-1.2M278.5 185.17h1.2M383.5 185.17h-1.2M278.5 183h1.2M383.5 183h-1.2M278.5 180.83h1.2M383.5 180.83h-1.2M278.5 178.67h1.2M383.5 178.67h-1.2M278.5 176.5h1.2M383.5 176.5h-1.2M278.5 174.33h1.2M383.5 174.33h-1.2M278.5 172.17h1.2M383.5 172.17h-1.2M278.5 170h1.2M383.5 170h-1.2M278.5 167.83h1.2M383.5 167.83h-1.2M278.5 165.67h1.2M383.5 165.67h-1.2M280.69 215.5v-1.2M280.69 163.5v1.2M282.88 215.5v-1.2M282.88 163.5v1.2M285.06 215.5v-1.2M285.06 163.5v1.2M287.25 215.5v-1.2M287.25 163.5v1.2M289.44 215.5v-1.2M289.44 163.5v1.2M291.62 215.5v-1.2M291.62 163.5v1.2M293.81 215.5v-1.2M293.81 163.5v1.2M296 215.5v-1.2M296 163.5v1.2M298.19 215.5v-1.2M298.19 163.5v1.2M300.38 215.5v-1.2M300.38 163.5v1.2M302.56 215.5v-1.2M302.56 163.5v1.2M304.75 215.5v-1.2M304.75 163.5v1.2M306.94 215.5v-1.2M306.94 163.5v1.2M309.12 215.5v-1.2M309.12 163.5v1.2M311.31 215.5v-1.2M311.31 163.5v1.2M313.5 215.5v-1.2M313.5 163.5v1.2M315.69 215.5v-1.2M315.69 163.5v1.2M317.88 215.5v-1.2M317.88 163.5v1.2M320.06 215.5v-1.2M320.06 163.5v1.2M322.25 215.5v-1.2M322.25 163.5v1.2M324.44 215.5v-1.2M324.44 163.5v1.2M326.62 215.5v-1.2M326.62 163.5v1.2M328.81 215.5v-1.2M328.81 163.5v1.2M331 215.5v-1.2M331 163.5v1.2M333.19 215.5v-1.2M333.19 163.5v1.2M335.38 215.5v-1.2M335.38 163.5v1.2M337.56 215.5v-1.2M337.56 163.5v1.2M339.75 215.5v-1.2M339.75 163.5v1.2M341.94 215.5v-1.2M341.94 163.5v1.2M344.12 215.5v-1.2M344.12 163.5v1.2M346.31 215.5v-1.2M346.31 163.5v1.2M348.5 215.5v-1.2M348.5 163.5v1.2M350.69 215.5v-1.2M350.69 163.5v1.2M352.88 215.5v-1.2M352.88 163.5v1.2M355.06 215.5v-1.2M355.06 163.5v1.2M357.25 215.5v-1.2M357.25 163.5v1.2M359.44 215.5v-1.2M359.44 163.5v1.2M361.62 215.5v-1.2M361.62 163.5v1.2M363.81 215.5v-1.2M363.81 163.5v1.2M366 215.5v-1.2M366 163.5v1.2M368.19 215.5v-1.2M368.19 163.5v1.2M370.38 215.5v-1.2M370.38 163.5v1.2M372.56 215.5v-1.2M372.56 163.5v1.2M374.75 215.5v-1.2M374.75 163.5v1.2M376.94 215.5v-1.2M376.94 163.5v1.2M379.12 215.5v-1.2M379.12 163.5v1.2M381.31 215.5v-1.2M381.31 163.5v1.2" stroke="#888" stroke-width="0.6" fill="none"/>
<g fill="#00f"></g>
<path class="dt" d="M291.1 203h0M291 203.4h0M291.2 203.9h0M291.2 204.3h0M291 204.8h0M291.1 205.2h0M291.1 205.7h0M291 206.1h0M291.1 206.6h0M291.1 207h0M291.2 207.5h0M291.2 207.9h0M295.4 198.1h0M295.3 198.5h0M295.3 199h0M295.2 199.4h0M295.3 199.8h0M295.3 200.2h0M295.3 200.7h0M295.4 201.1h0M295.3 201.5h0M295.2 201.9h0M295.2 202.4h0M295.2 202.8h0M295.3 203.2h0M295.3 203.6h0M295.2 204.1h0M295.3 204.5h0M295.3 204.9h0M295.3 205.3h0M295.3 205.8h0M295.3 206.2h0M295.2 206.6h0M295.2 207h0M295.3 207.5h0M295.3 207.9h0M303.7 202.2h0M303.7 202.6h0M303.8 203.1h0M303.7 203.5h0M303.6 203.9h0M303.7 204.4h0M303.7 204.8h0M303.7 205.2h0M303.7 205.7h0M303.7 206.1h0M303.7 206.5h0M303.8 207h0M303.7 207.4h0M303.7 207.8h0M303.8 208.3h0M303.7 208.7h0M312.1 185h0M312 191.2h0M312 191.6h0M312 192h0M312.1 192.4h0M312 192.9h0M312.1 193.3h0M312.1 193.7h0M312.1 194.1h0M312.1 194.5h0M312.2 194.9h0M312.1 195.4h0M312 195.8h0M312.1 196.2h0M312.1 196.6h0M312.2 197h0M312.1 197.4h0M312.1 197.9h0M312 198.3h0M312 198.7h0M312 199.1h0M312.2 199.5h0M312.1 199.9h0M312 200.4h0M312.1 200.8h0M312 201.2h0M312.1 201.6h0M312.1 202h0M312 202.5h0M312.1 202.9h0M312.1 203.3h0M312.1 203.7h0M312 204.1h0M312.1 204.5h0M312.1 205h0M312.1 205.4h0M312 205.8h0M312.2 206.2h0M312 206.6h0M312.1 207h0M312.1 207.5h0M312.1 207.9h0M312 208.3h0M312.1 208.7h0M320.6 192.6h0M320.5 193h0M320.5 193.4h0M320.5 193.9h0M320.5 194.3h0M320.5 194.7h0M320.5 195.1h0M320.5 195.5h0M320.4 195.9h0M320.4 196.4h0M320.5 196.8h0M320.6 197.2h0M320.6 197.6h0M320.4 198h0M320.5 198.5h0M320.5 198.9h0M320.5 199.3h0M320.5 199.7h0M320.5 200.1h0M320.5 200.6h0M320.5 201h0M320.6 201.4h0M320.6 201.8h0M320.5 202.2h0M320.4 202.7h0M320.5 203.1h0M320.4 203.5h0M320.5 203.9h0M320.5 204.3h0M320.5 204.7h0M320.6 205.2h0M320.4 205.6h0M320.5 206h0M328.9 187.9h0M328.8 188.3h0M328.9 188.7h0M328.8 189.2h0M328.9 189.6h0M328.9 190h0M328.9 190.4h0M328.9 190.8h0M328.9 191.3h0M328.9 191.7h0M328.9 192.1h0M329 192.5h0M328.9 192.9h0M328.8 193.4h0M328.8 193.8h0M328.9 194.2h0M329 194.6h0M328.9 195h0M328.8 195.5h0M329 195.9h0M328.9 196.3h0M328.8 196.7h0M328.9 197.1h0M328.9 197.5h0M328.8 198h0M328.8 198.4h0M328.9 198.8h0M329 199.2h0M329 199.6h0M328.9 200.1h0M329 200.5h0M328.9 200.9h0M329 201.3h0M328.9 201.7h0M329 202.2h0M328.9 202.6h0M329 203h0M328.9 203.4h0M328.9 203.8h0M328.9 204.3h0M328.9 204.7h0M328.9 205.1h0M345.7 182.9h0M345.7 183.3h0M345.7 183.7h0M345.7 184.2h0M345.7 184.6h0M345.7 185h0M345.7 185.4h0M345.7 185.8h0M345.7 186.2h0M345.6 186.7h0M345.7 187.1h0M345.7 187.5h0M345.7 187.9h0M345.7 188.3h0M345.7 188.7h0M345.7 189.2h0M345.7 189.6h0M345.8 190h0M345.7 190.4h0M345.7 190.8h0M345.7 191.2h0M345.7 191.7h0M345.7 192.1h0M345.8 192.5h0M345.7 192.9h0M345.7 193.3h0M345.7 193.8h0M345.7 194.2h0M345.7 194.6h0M345.7 195h0M345.7 195.4h0M345.7 195.8h0M345.7 196.3h0M345.7 196.7h0M345.7 197.1h0M345.7 197.5h0M345.7 197.9h0M345.7 198.3h0M345.7 198.8h0M345.7 199.2h0M345.7 199.6h0M354.1 178.7h0M354 182.9h0M354.1 183.7h0M354 184.4h0M354.1 190.6h0M379.3 183.7h0M379.4 188.4h0M379.3 188.9h0M379.3 189.4h0M379.4 189.8h0M379.3 190.3h0M379.3 190.8h0"/>
<rect x="278.5" y="163.5" width="105" height="52" fill="none" stroke="#cacaca" stroke-width="1"/>
<text x="276.7" y="217.3" class="tl" text-anchor="end">0</text>
<text x="276.7" y="208.63" class="tl" text-anchor="end">4</text>
<text x="276.7" y="199.97" class="tl" text-anchor="end">8</text>
<text x="276.7" y="191.3" class="tl" text-anchor="end">12</text>
<text x="276.7" y="182.63" class="tl" text-anchor="end">16</text>
<text x="276.7" y="173.97" class="tl" text-anchor="end">20</text>
<text x="276.7" y="165.3" class="tl" text-anchor="end">24</text>
<text x="278.5" y="222.3" class="tl lg xt" text-anchor="middle">0</text>
<text x="286.9" y="222.3" class="tl xt" text-anchor="middle">4</text>
<text x="295.3" y="222.3" class="tl xt" text-anchor="middle">8</text>
<text x="303.7" y="222.3" class="tl xt" text-anchor="middle">12</text>
<text x="312.1" y="222.3" class="tl xt" text-anchor="middle">16</text>
<text x="320.5" y="222.3" class="tl xt" text-anchor="middle">20</text>
<text x="328.9" y="222.3" class="tl xt" text-anchor="middle">24</text>
<text x="337.3" y="222.3" class="tl xt" text-anchor="middle">28</text>
<text x="345.7" y="222.3" class="tl xt" text-anchor="middle">32</text>
<text x="354.1" y="222.3" class="tl xt" text-anchor="middle">36</text>
<text x="362.5" y="222.3" class="tl xt" text-anchor="middle">40</text>
<text x="370.9" y="222.3" class="tl xt" text-anchor="middle">44</text>
<text x="379.3" y="222.3" class="tl xt" text-anchor="middle">48</text>
<text x="331" y="232.7" class="al xl" text-anchor="middle">N<tspan class="sb" dy="0.9">V</tspan></text>
<text transform="translate(266.1 189.5) rotate(-90)" class="al" text-anchor="middle">FC<tspan class="sb" dy="1.2">M</tspan><tspan dy="-1.2"> (l/100km)</tspan></text>
<path d="M28.5 243.5V295.5M38.5 243.5V295.5M48.5 243.5V295.5M59.5 243.5V295.5M70.5 243.5V295.5M80.5 243.5V295.5M90.5 243.5V295.5M101.5 243.5V295.5M112.5 243.5V295.5M17.5 293.33H122.5M17.5 291.17H122.5M17.5 289H122.5M17.5 286.83H122.5M17.5 284.67H122.5M17.5 282.5H122.5M17.5 280.33H122.5M17.5 278.17H122.5M17.5 276H122.5M17.5 273.83H122.5M17.5 271.67H122.5M17.5 269.5H122.5M17.5 267.33H122.5M17.5 265.17H122.5M17.5 263H122.5M17.5 260.83H122.5M17.5 258.67H122.5M17.5 256.5H122.5M17.5 254.33H122.5M17.5 252.17H122.5M17.5 250H122.5M17.5 247.83H122.5M17.5 245.67H122.5" class="grid"/>
<path d="M17.5 293.33h1.2M122.5 293.33h-1.2M17.5 291.17h1.2M122.5 291.17h-1.2M17.5 289h1.2M122.5 289h-1.2M17.5 286.83h1.2M122.5 286.83h-1.2M17.5 284.67h1.2M122.5 284.67h-1.2M17.5 282.5h1.2M122.5 282.5h-1.2M17.5 280.33h1.2M122.5 280.33h-1.2M17.5 278.17h1.2M122.5 278.17h-1.2M17.5 276h1.2M122.5 276h-1.2M17.5 273.83h1.2M122.5 273.83h-1.2M17.5 271.67h1.2M122.5 271.67h-1.2M17.5 269.5h1.2M122.5 269.5h-1.2M17.5 267.33h1.2M122.5 267.33h-1.2M17.5 265.17h1.2M122.5 265.17h-1.2M17.5 263h1.2M122.5 263h-1.2M17.5 260.83h1.2M122.5 260.83h-1.2M17.5 258.67h1.2M122.5 258.67h-1.2M17.5 256.5h1.2M122.5 256.5h-1.2M17.5 254.33h1.2M122.5 254.33h-1.2M17.5 252.17h1.2M122.5 252.17h-1.2M17.5 250h1.2M122.5 250h-1.2M17.5 247.83h1.2M122.5 247.83h-1.2M17.5 245.67h1.2M122.5 245.67h-1.2M20.12 295.5v-1.2M20.12 243.5v1.2M22.75 295.5v-1.2M22.75 243.5v1.2M25.38 295.5v-1.2M25.38 243.5v1.2M28 295.5v-1.2M28 243.5v1.2M30.62 295.5v-1.2M30.62 243.5v1.2M33.25 295.5v-1.2M33.25 243.5v1.2M35.88 295.5v-1.2M35.88 243.5v1.2M38.5 295.5v-1.2M38.5 243.5v1.2M41.12 295.5v-1.2M41.12 243.5v1.2M43.75 295.5v-1.2M43.75 243.5v1.2M46.38 295.5v-1.2M46.38 243.5v1.2M49 295.5v-1.2M49 243.5v1.2M51.62 295.5v-1.2M51.62 243.5v1.2M54.25 295.5v-1.2M54.25 243.5v1.2M56.88 295.5v-1.2M56.88 243.5v1.2M59.5 295.5v-1.2M59.5 243.5v1.2M62.12 295.5v-1.2M62.12 243.5v1.2M64.75 295.5v-1.2M64.75 243.5v1.2M67.38 295.5v-1.2M67.38 243.5v1.2M70 295.5v-1.2M70 243.5v1.2M72.62 295.5v-1.2M72.62 243.5v1.2M75.25 295.5v-1.2M75.25 243.5v1.2M77.88 295.5v-1.2M77.88 243.5v1.2M80.5 295.5v-1.2M80.5 243.5v1.2M83.12 295.5v-1.2M83.12 243.5v1.2M85.75 295.5v-1.2M85.75 243.5v1.2M88.38 295.5v-1.2M88.38 243.5v1.2M91 295.5v-1.2M91 243.5v1.2M93.62 295.5v-1.2M93.62 243.5v1.2M96.25 295.5v-1.2M96.25 243.5v1.2M98.88 295.5v-1.2M98.88 243.5v1.2M101.5 295.5v-1.2M101.5 243.5v1.2M104.12 295.5v-1.2M104.12 243.5v1.2M106.75 295.5v-1.2M106.75 243.5v1.2M109.38 295.5v-1.2M109.38 243.5v1.2M112 295.5v-1.2M112 243.5v1.2M114.62 295.5v-1.2M114.62 243.5v1.2M117.25 295.5v-1.2M117.25 243.5v1.2M119.88 295.5v-1.2M119.88 243.5v1.2" stroke="#555" stroke-width="0.6" fill="none"/>
<g fill="#00f"><polygon points="27.11,282.98 27.93,276.97 32.03,274.78 37.49,271.51 41.59,268.77 45.69,266.59 48.69,265.49 50.33,269.32 49.78,277.52 47.87,284.35 44.32,285.71 36.12,286.53 28.47,286.53"/></g>
<g fill="none" stroke="#00f" stroke-width="0.6"><circle cx="49.5" cy="280.8" r="1.2"/><circle cx="40.1" cy="269.3" r="1.2"/><circle cx="33.5" cy="273" r="1.2"/><circle cx="47" cy="285.7" r="1.2"/><circle cx="51.2" cy="284.9" r="1.2"/><circle cx="38.6" cy="271" r="1.2"/><circle cx="34.8" cy="288.2" r="1.2"/><circle cx="33.8" cy="286.6" r="1.2"/><circle cx="51.3" cy="268.2" r="1.2"/><circle cx="51.3" cy="285.6" r="1.2"/><circle cx="48.8" cy="269.5" r="1.2"/><circle cx="28.8" cy="286" r="1.2"/><circle cx="38.6" cy="270.2" r="1.2"/><circle cx="43.4" cy="265.8" r="1.2"/><circle cx="36.6" cy="281.6" r="1.2"/><circle cx="35.4" cy="279" r="1.2"/><circle cx="44.3" cy="263.7" r="1.2"/><circle cx="25.8" cy="278.8" r="1.2"/><circle cx="43.9" cy="267" r="1.2"/><circle cx="31.3" cy="284.5" r="1.2"/><circle cx="53" cy="265.1" r="1.2"/><circle cx="43.1" cy="275.7" r="1.2"/><circle cx="35.2" cy="277.9" r="1.2"/><circle cx="43.6" cy="273.7" r="1.2"/><circle cx="34.7" cy="270.8" r="1.2"/><circle cx="36.3" cy="285.9" r="1.2"/><circle cx="32.6" cy="284.5" r="1.2"/><circle cx="32.6" cy="276.1" r="1.2"/><circle cx="49.6" cy="283.1" r="1.2"/><circle cx="33.4" cy="282" r="1.2"/><circle cx="39.9" cy="288.6" r="1.2"/><circle cx="32.2" cy="277.3" r="1.2"/><circle cx="49" cy="284.1" r="1.2"/><circle cx="42" cy="269.9" r="1.2"/><circle cx="49.7" cy="261.1" r="1.2"/><circle cx="33.2" cy="281.3" r="1.2"/><circle cx="38.7" cy="288.8" r="1.2"/><circle cx="36.5" cy="271.3" r="1.2"/><circle cx="40.7" cy="266.9" r="1.2"/><circle cx="46.7" cy="273.9" r="1.2"/><circle cx="55.2" cy="263.1" r="1.2"/><circle cx="40.8" cy="273.2" r="1.2"/><circle cx="36.6" cy="284.7" r="1.2"/><circle cx="31.6" cy="285.2" r="1.2"/><circle cx="44" cy="275.4" r="1.2"/><circle cx="54.4" cy="269.3" r="1.2"/><circle cx="28.7" cy="278.3" r="1.2"/><circle cx="41.5" cy="268" r="1.2"/><circle cx="35.2" cy="284.2" r="1.2"/><circle cx="35.6" cy="270.8" r="1.2"/><circle cx="54.5" cy="269.1" r="1.2"/><circle cx="45.5" cy="278.5" r="1.2"/><circle cx="38.9" cy="270.5" r="1.2"/><circle cx="32.3" cy="282.4" r="1.2"/><circle cx="39.2" cy="283.8" r="1.2"/><circle cx="36.7" cy="280.7" r="1.2"/><circle cx="54.6" cy="279.1" r="1.2"/><circle cx="45.9" cy="273.3" r="1.2"/><circle cx="30.5" cy="277.9" r="1.2"/><circle cx="46.4" cy="265.9" r="1.2"/><circle cx="44" cy="263.2" r="1.2"/><circle cx="40.8" cy="267.6" r="1.2"/><circle cx="40" cy="277" r="1.2"/><circle cx="46" cy="274.9" r="1.2"/><circle cx="44.1" cy="282.1" r="1.2"/><circle cx="42.7" cy="264.8" r="1.2"/><circle cx="38.7" cy="283.7" r="1.2"/><circle cx="42.5" cy="281.3" r="1.2"/><circle cx="36.3" cy="271.8" r="1.2"/><circle cx="47.5" cy="266.2" r="1.2"/><circle cx="51.1" cy="263.4" r="1.2"/><circle cx="50.5" cy="274.1" r="1.2"/><circle cx="25.7" cy="285.6" r="1.2"/><circle cx="38.7" cy="283.7" r="1.2"/><circle cx="46.3" cy="274.4" r="1.2"/><circle cx="51.6" cy="264.2" r="1.2"/><circle cx="52.7" cy="268.4" r="1.2"/><circle cx="33.7" cy="286.5" r="1.2"/><circle cx="52.9" cy="284.9" r="1.2"/><circle cx="55.5" cy="271.6" r="1.2"/><circle cx="49.5" cy="266.6" r="1.2"/><circle cx="53.5" cy="283.1" r="1.2"/><circle cx="47.6" cy="264.9" r="1.2"/><circle cx="28" cy="286.7" r="1.2"/><circle cx="42.1" cy="276.9" r="1.2"/><circle cx="51.6" cy="262.3" r="1.2"/><circle cx="46.6" cy="272.3" r="1.2"/><circle cx="49.2" cy="272" r="1.2"/><circle cx="31.2" cy="287.6" r="1.2"/><circle cx="33.8" cy="281" r="1.2"/><circle cx="50.6" cy="265.6" r="1.2"/><circle cx="46.5" cy="270.2" r="1.2"/><circle cx="54.4" cy="269.3" r="1.2"/><circle cx="40.8" cy="273.5" r="1.2"/><circle cx="26" cy="281.3" r="1.2"/><circle cx="48" cy="285.1" r="1.2"/><circle cx="35.8" cy="280.6" r="1.2"/><circle cx="45.3" cy="270.5" r="1.2"/><circle cx="53.3" cy="272.5" r="1.2"/><circle cx="40.7" cy="282.4" r="1.2"/><circle cx="31.2" cy="280.3" r="1.2"/><circle cx="36" cy="283.1" r="1.2"/><circle cx="44.6" cy="272.9" r="1.2"/><circle cx="36.7" cy="275.9" r="1.2"/><circle cx="31.9" cy="271.5" r="1.2"/><circle cx="25.3" cy="282.7" r="1.2"/><circle cx="33" cy="283.7" r="1.2"/><circle cx="42.1" cy="276.6" r="1.2"/><circle cx="49" cy="266.9" r="1.2"/><circle cx="51.6" cy="282.3" r="1.2"/><circle cx="45.9" cy="283.2" r="1.2"/><circle cx="38.6" cy="278.8" r="1.2"/><circle cx="54.3" cy="263.7" r="1.2"/><circle cx="32" cy="284.8" r="1.2"/><circle cx="30.8" cy="275.8" r="1.2"/><circle cx="31" cy="272.6" r="1.2"/><circle cx="41.6" cy="271.5" r="1.2"/><circle cx="40.6" cy="283.9" r="1.2"/><circle cx="25.7" cy="286.8" r="1.2"/><circle cx="48.7" cy="275.6" r="1.2"/><circle cx="41.7" cy="264.6" r="1.2"/><circle cx="49.1" cy="267.4" r="1.2"/><circle cx="47.4" cy="265" r="1.2"/><circle cx="42.7" cy="278" r="1.2"/><circle cx="36.6" cy="272.8" r="1.2"/><circle cx="27.2" cy="277.9" r="1.2"/><circle cx="46.3" cy="262.6" r="1.2"/><circle cx="42" cy="280.7" r="1.2"/><circle cx="28.3" cy="284" r="1.2"/><circle cx="51.8" cy="259.4" r="1.2"/><circle cx="40.2" cy="265.6" r="1.2"/><circle cx="34.4" cy="272.2" r="1.2"/><circle cx="36.6" cy="282.4" r="1.2"/><circle cx="47.3" cy="261.4" r="1.2"/><circle cx="46.5" cy="282.1" r="1.2"/><circle cx="55.7" cy="264.4" r="1.2"/><circle cx="26.3" cy="281.4" r="1.2"/><circle cx="37.8" cy="286.8" r="1.2"/><circle cx="27.4" cy="287.4" r="1.2"/><circle cx="40.9" cy="271.6" r="1.2"/><circle cx="38.6" cy="281.8" r="1.2"/><circle cx="50.6" cy="272.7" r="1.2"/><circle cx="52.5" cy="270.5" r="1.2"/><circle cx="45.4" cy="275.3" r="1.2"/><circle cx="39.3" cy="275.7" r="1.2"/><circle cx="32.7" cy="275.2" r="1.2"/><circle cx="51.7" cy="260.3" r="1.2"/><circle cx="36.5" cy="285.3" r="1.2"/><circle cx="44.4" cy="277.5" r="1.2"/><circle cx="51" cy="272.5" r="1.2"/><circle cx="47" cy="280.5" r="1.2"/><circle cx="31.5" cy="277.9" r="1.2"/><circle cx="45.3" cy="278.3" r="1.2"/><circle cx="35.1" cy="276.4" r="1.2"/><circle cx="45.7" cy="266.8" r="1.2"/><circle cx="49.4" cy="267.4" r="1.2"/><circle cx="41.9" cy="283" r="1.2"/><circle cx="28.7" cy="280.6" r="1.2"/><circle cx="27.3" cy="287" r="1.2"/><circle cx="26" cy="280.4" r="1.2"/><circle cx="37.3" cy="273.5" r="1.2"/><circle cx="41.2" cy="267.2" r="1.2"/><circle cx="54.8" cy="269.8" r="1.2"/><circle cx="54.8" cy="267.9" r="1.2"/><circle cx="45" cy="283.8" r="1.2"/><circle cx="37.2" cy="281.4" r="1.2"/><circle cx="51.9" cy="264.2" r="1.2"/><circle cx="38.7" cy="281.6" r="1.2"/><circle cx="41.1" cy="271.1" r="1.2"/><circle cx="32.5" cy="275.3" r="1.2"/><circle cx="38.8" cy="286.4" r="1.2"/><circle cx="34.5" cy="276.1" r="1.2"/><circle cx="53.5" cy="261.2" r="1.2"/><circle cx="34.4" cy="280.1" r="1.2"/><circle cx="50.3" cy="270.8" r="1.2"/><circle cx="50.9" cy="259.3" r="1.2"/><circle cx="47.9" cy="260.9" r="1.2"/><circle cx="54.1" cy="270.6" r="1.2"/><circle cx="43.5" cy="284.7" r="1.2"/><circle cx="46.4" cy="276.1" r="1.2"/><circle cx="47.3" cy="266.5" r="1.2"/><circle cx="43.1" cy="267.2" r="1.2"/><circle cx="33.6" cy="277.9" r="1.2"/><circle cx="27.8" cy="282.8" r="1.2"/><circle cx="28.7" cy="273.7" r="1.2"/><circle cx="40.6" cy="280.3" r="1.2"/><circle cx="36.6" cy="270.7" r="1.2"/><circle cx="52.5" cy="266.4" r="1.2"/><circle cx="33.1" cy="283.2" r="1.2"/><circle cx="43.9" cy="264.2" r="1.2"/><circle cx="50" cy="275.2" r="1.2"/><circle cx="27.6" cy="284.7" r="1.2"/><circle cx="44.1" cy="263.9" r="1.2"/><circle cx="39.3" cy="280.1" r="1.2"/><circle cx="28.1" cy="278.4" r="1.2"/><circle cx="45.1" cy="279.3" r="1.2"/><circle cx="54.6" cy="270" r="1.2"/><circle cx="38.2" cy="269.5" r="1.2"/><circle cx="46.5" cy="280.9" r="1.2"/><circle cx="45.1" cy="270.4" r="1.2"/><circle cx="61.5" cy="269.6" r="1.2"/><circle cx="70.1" cy="267.9" r="1.2"/><circle cx="67" cy="260.4" r="1.2"/><circle cx="65" cy="276.2" r="1.2"/><circle cx="67.8" cy="261.3" r="1.2"/><circle cx="65.9" cy="268.2" r="1.2"/><circle cx="56.2" cy="264.7" r="1.2"/><circle cx="66.2" cy="280.5" r="1.2"/><circle cx="67.1" cy="274.7" r="1.2"/><circle cx="53.3" cy="257.6" r="1.2"/><circle cx="61.4" cy="259.4" r="1.2"/><circle cx="56.7" cy="255.8" r="1.2"/><circle cx="53" cy="276.3" r="1.2"/><circle cx="54.4" cy="280.6" r="1.2"/><circle cx="56.5" cy="280.7" r="1.2"/><circle cx="56" cy="261.3" r="1.2"/><circle cx="58.7" cy="265" r="1.2"/><circle cx="69.5" cy="260" r="1.2"/><circle cx="61.7" cy="269.2" r="1.2"/><circle cx="54.8" cy="261.9" r="1.2"/><circle cx="69.7" cy="264.8" r="1.2"/><circle cx="66.4" cy="275.6" r="1.2"/><circle cx="61" cy="279.5" r="1.2"/><circle cx="52.9" cy="270.4" r="1.2"/><circle cx="55.2" cy="265.7" r="1.2"/><circle cx="53.7" cy="276" r="1.2"/><circle cx="61.5" cy="278.4" r="1.2"/><circle cx="62.7" cy="272.4" r="1.2"/><circle cx="68.7" cy="279.5" r="1.2"/><circle cx="61.4" cy="263.3" r="1.2"/><circle cx="68.8" cy="264.8" r="1.2"/><circle cx="51.9" cy="263.5" r="1.2"/><circle cx="64.3" cy="283.4" r="1.2"/><circle cx="63" cy="274.5" r="1.2"/><circle cx="69" cy="278.3" r="1.2"/><circle cx="58.9" cy="267.8" r="1.2"/><circle cx="65.3" cy="263" r="1.2"/><circle cx="52" cy="273" r="1.2"/><circle cx="66.4" cy="260.7" r="1.2"/><circle cx="63.8" cy="282.1" r="1.2"/><circle cx="52.4" cy="256.9" r="1.2"/><circle cx="59.9" cy="263.5" r="1.2"/><circle cx="58.9" cy="278.8" r="1.2"/><circle cx="62.7" cy="258.2" r="1.2"/><circle cx="69.7" cy="258.2" r="1.2"/><circle cx="58.3" cy="280.7" r="1.2"/><circle cx="65.8" cy="271.9" r="1.2"/><circle cx="54.7" cy="262.5" r="1.2"/><circle cx="59.9" cy="265.5" r="1.2"/><circle cx="63" cy="269.2" r="1.2"/><circle cx="56.4" cy="272.6" r="1.2"/><circle cx="70.2" cy="259.1" r="1.2"/><circle cx="51.7" cy="254.2" r="1.2"/><circle cx="58.4" cy="280.3" r="1.2"/><circle cx="64.1" cy="284.6" r="1.2"/><circle cx="66.9" cy="271.9" r="1.2"/><circle cx="57.6" cy="261.1" r="1.2"/><circle cx="62.5" cy="254.6" r="1.2"/><circle cx="60.9" cy="264.9" r="1.2"/><circle cx="59.9" cy="265.9" r="1.2"/><circle cx="66.2" cy="272.3" r="1.2"/><circle cx="52.2" cy="272.4" r="1.2"/><circle cx="67.6" cy="285.3" r="1.2"/><circle cx="65.3" cy="253.9" r="1.2"/><circle cx="67.8" cy="274.5" r="1.2"/><circle cx="66.7" cy="282.2" r="1.2"/><circle cx="54.9" cy="271.6" r="1.2"/><circle cx="57.5" cy="262.2" r="1.2"/><circle cx="65.4" cy="272.9" r="1.2"/><circle cx="56.6" cy="270.5" r="1.2"/><circle cx="68.8" cy="271.3" r="1.2"/><circle cx="68.5" cy="271.2" r="1.2"/><circle cx="59.2" cy="270.8" r="1.2"/><circle cx="64.7" cy="284.7" r="1.2"/><circle cx="62.6" cy="268.3" r="1.2"/><circle cx="62.8" cy="270.2" r="1.2"/><circle cx="64.2" cy="283.9" r="1.2"/><circle cx="66" cy="253.4" r="1.2"/><circle cx="63.1" cy="279.1" r="1.2"/><circle cx="54.7" cy="265.1" r="1.2"/><circle cx="54.4" cy="275.9" r="1.2"/><circle cx="60.6" cy="272.6" r="1.2"/><circle cx="56.5" cy="271.9" r="1.2"/><circle cx="69.3" cy="278.4" r="1.2"/><circle cx="69.3" cy="260.6" r="1.2"/><circle cx="60.4" cy="265.2" r="1.2"/><circle cx="56.9" cy="279.2" r="1.2"/><circle cx="53.4" cy="271" r="1.2"/><circle cx="65.6" cy="283.6" r="1.2"/><circle cx="59.9" cy="283.6" r="1.2"/><circle cx="53.1" cy="280.4" r="1.2"/><circle cx="57.9" cy="270.6" r="1.2"/><circle cx="56.5" cy="257.6" r="1.2"/><circle cx="52.5" cy="262.5" r="1.2"/><circle cx="64.1" cy="271.7" r="1.2"/><circle cx="60.2" cy="257.2" r="1.2"/><circle cx="66.6" cy="279.7" r="1.2"/><circle cx="66.4" cy="260" r="1.2"/><circle cx="66.7" cy="255.6" r="1.2"/><circle cx="65.5" cy="278.2" r="1.2"/><circle cx="62.8" cy="280.1" r="1.2"/><circle cx="70" cy="263.3" r="1.2"/><circle cx="66.9" cy="283.1" r="1.2"/><circle cx="56.2" cy="275.2" r="1.2"/><circle cx="63.8" cy="280.7" r="1.2"/><circle cx="61.4" cy="261.6" r="1.2"/><circle cx="54.9" cy="270.5" r="1.2"/><circle cx="68" cy="260.5" r="1.2"/><circle cx="64.1" cy="274.8" r="1.2"/><circle cx="65.5" cy="262.6" r="1.2"/><circle cx="51.8" cy="261.8" r="1.2"/><circle cx="65.6" cy="267.9" r="1.2"/><circle cx="66.5" cy="257.7" r="1.2"/><circle cx="52" cy="264" r="1.2"/><circle cx="67.8" cy="257.8" r="1.2"/><circle cx="51.5" cy="260.6" r="1.2"/><circle cx="63.4" cy="281.5" r="1.2"/><circle cx="58.2" cy="267.4" r="1.2"/><circle cx="54.7" cy="278.7" r="1.2"/><circle cx="64.4" cy="278.5" r="1.2"/><circle cx="53.9" cy="275.2" r="1.2"/><circle cx="50.3" cy="267" r="1.2"/><circle cx="51.8" cy="264.3" r="1.2"/><circle cx="55.7" cy="262.6" r="1.2"/><circle cx="52.1" cy="264.4" r="1.2"/><circle cx="56.8" cy="273.6" r="1.2"/><circle cx="53.4" cy="266.9" r="1.2"/><circle cx="57.3" cy="281.4" r="1.2"/><circle cx="53.2" cy="271.7" r="1.2"/><circle cx="56.8" cy="263.7" r="1.2"/><circle cx="51.5" cy="259.7" r="1.2"/><circle cx="53.6" cy="277" r="1.2"/><circle cx="50.6" cy="268.2" r="1.2"/><circle cx="57.9" cy="269.5" r="1.2"/><circle cx="52.6" cy="278.8" r="1.2"/><circle cx="57" cy="266.8" r="1.2"/><circle cx="55.7" cy="281" r="1.2"/><circle cx="55" cy="265" r="1.2"/><circle cx="53.7" cy="264.5" r="1.2"/><circle cx="53.1" cy="269.2" r="1.2"/><circle cx="57.2" cy="280.5" r="1.2"/><circle cx="57.3" cy="269.4" r="1.2"/><circle cx="57.7" cy="260.6" r="1.2"/><circle cx="57.3" cy="273.6" r="1.2"/><circle cx="56.9" cy="267.8" r="1.2"/><circle cx="57.9" cy="257.7" r="1.2"/><circle cx="56.6" cy="278.3" r="1.2"/><circle cx="52.5" cy="278.5" r="1.2"/><circle cx="51.1" cy="276.6" r="1.2"/><circle cx="53.3" cy="267.7" r="1.2"/><circle cx="51" cy="277.8" r="1.2"/><circle cx="55.6" cy="259.3" r="1.2"/><circle cx="57.8" cy="262.8" r="1.2"/><circle cx="52.5" cy="267.8" r="1.2"/><circle cx="54.3" cy="280.1" r="1.2"/><circle cx="57.5" cy="273.5" r="1.2"/><circle cx="52.4" cy="259.8" r="1.2"/><circle cx="54.3" cy="268.6" r="1.2"/><circle cx="57.8" cy="267.8" r="1.2"/><circle cx="52.3" cy="267.9" r="1.2"/><circle cx="54.4" cy="271.1" r="1.2"/><circle cx="53" cy="263.5" r="1.2"/><circle cx="52" cy="269.8" r="1.2"/><circle cx="53.1" cy="282.4" r="1.2"/><circle cx="54.2" cy="262.4" r="1.2"/><circle cx="49.7" cy="261.2" r="1.2"/><circle cx="52.3" cy="277.3" r="1.2"/><circle cx="57" cy="263.2" r="1.2"/><circle cx="56.1" cy="268.5" r="1.2"/><circle cx="53.9" cy="270.9" r="1.2"/><circle cx="68.2" cy="253.5" r="1.2"/><circle cx="77.6" cy="271.3" r="1.2"/><circle cx="73.3" cy="277.9" r="1.2"/><circle cx="79.9" cy="260.2" r="1.2"/><circle cx="77.4" cy="258" r="1.2"/><circle cx="76.9" cy="259.6" r="1.2"/><circle cx="74.2" cy="258.2" r="1.2"/><circle cx="70.3" cy="256.8" r="1.2"/><circle cx="79.8" cy="264.6" r="1.2"/><circle cx="78.3" cy="261.5" r="1.2"/><circle cx="79.7" cy="268.7" r="1.2"/><circle cx="77.4" cy="262.8" r="1.2"/><circle cx="76" cy="257" r="1.2"/><circle cx="82.2" cy="270.8" r="1.2"/><circle cx="75.5" cy="269.9" r="1.2"/><circle cx="69" cy="261.2" r="1.2"/><circle cx="71" cy="275.7" r="1.2"/><circle cx="80.6" cy="274" r="1.2"/><circle cx="78.3" cy="260.2" r="1.2"/><circle cx="71" cy="271.8" r="1.2"/><circle cx="55.1" cy="276.2" r="1.2"/><circle cx="55.2" cy="277.1" r="1.2"/><circle cx="55.3" cy="278.4" r="1.2"/><circle cx="55.5" cy="267.7" r="1.2"/><circle cx="55.5" cy="258.6" r="1.2"/><circle cx="55.4" cy="259.1" r="1.2"/><circle cx="55.3" cy="267.9" r="1.2"/><circle cx="55.4" cy="266.1" r="1.2"/><circle cx="55.1" cy="277.7" r="1.2"/><circle cx="55.3" cy="277" r="1.2"/><circle cx="55.2" cy="259.3" r="1.2"/><circle cx="55.4" cy="263.8" r="1.2"/><circle cx="55.2" cy="258.4" r="1.2"/><circle cx="55.1" cy="274.8" r="1.2"/><circle cx="55.4" cy="274" r="1.2"/><circle cx="55.2" cy="276.4" r="1.2"/><circle cx="55.3" cy="263.5" r="1.2"/><circle cx="55.3" cy="273.1" r="1.2"/><circle cx="60.8" cy="262.7" r="1.2"/><circle cx="60.6" cy="266.9" r="1.2"/><circle cx="60.5" cy="267" r="1.2"/><circle cx="60.8" cy="273.6" r="1.2"/><circle cx="60.5" cy="278" r="1.2"/><circle cx="60.5" cy="278.6" r="1.2"/><circle cx="60.5" cy="259.8" r="1.2"/><circle cx="60.6" cy="271.8" r="1.2"/><circle cx="60.6" cy="282.4" r="1.2"/><circle cx="60.9" cy="265.2" r="1.2"/><circle cx="60.8" cy="277" r="1.2"/><circle cx="60.7" cy="264.3" r="1.2"/><circle cx="60.9" cy="284.5" r="1.2"/><circle cx="60.5" cy="266.5" r="1.2"/><circle cx="60.6" cy="262.7" r="1.2"/><circle cx="60.7" cy="282.8" r="1.2"/><circle cx="60.5" cy="281" r="1.2"/><circle cx="60.6" cy="257.4" r="1.2"/><circle cx="60.9" cy="264.8" r="1.2"/><circle cx="60.6" cy="260.4" r="1.2"/><circle cx="60.6" cy="260.5" r="1.2"/><circle cx="65.5" cy="264.5" r="1.2"/><circle cx="65.7" cy="269.4" r="1.2"/><circle cx="65.5" cy="271.3" r="1.2"/><circle cx="65.8" cy="276.2" r="1.2"/><circle cx="65.6" cy="281" r="1.2"/><circle cx="65.8" cy="272.2" r="1.2"/><circle cx="65.6" cy="266.5" r="1.2"/><circle cx="65.4" cy="280.2" r="1.2"/><circle cx="65.7" cy="260.8" r="1.2"/><circle cx="65.8" cy="280.2" r="1.2"/><circle cx="65.4" cy="275.6" r="1.2"/><circle cx="65.5" cy="271.6" r="1.2"/><circle cx="65.8" cy="267" r="1.2"/><circle cx="65.6" cy="274.7" r="1.2"/><circle cx="65.5" cy="273.8" r="1.2"/><circle cx="65.6" cy="282.5" r="1.2"/><circle cx="65.5" cy="275.9" r="1.2"/><circle cx="65.4" cy="265.1" r="1.2"/><circle cx="81" cy="265.2" r="1.2"/><circle cx="84.9" cy="265.4" r="1.2"/><circle cx="87.4" cy="264.9" r="1.2"/><circle cx="85.8" cy="269.1" r="1.2"/><circle cx="81" cy="265.6" r="1.2"/><circle cx="87.1" cy="267" r="1.2"/><circle cx="88.7" cy="266.2" r="1.2"/><circle cx="83.6" cy="269.6" r="1.2"/><circle cx="83.1" cy="269.7" r="1.2"/><circle cx="88.4" cy="265.5" r="1.2"/><circle cx="85.1" cy="269.5" r="1.2"/><circle cx="81" cy="269" r="1.2"/><circle cx="87.2" cy="268.5" r="1.2"/><circle cx="85.6" cy="264.9" r="1.2"/><circle cx="89" cy="265" r="1.2"/><circle cx="87.3" cy="268.4" r="1.2"/><circle cx="82.9" cy="268.1" r="1.2"/><circle cx="83.8" cy="268.5" r="1.2"/><circle cx="80.2" cy="269.5" r="1.2"/><circle cx="83.5" cy="268.8" r="1.2"/><circle cx="84.3" cy="268.8" r="1.2"/><circle cx="82.7" cy="267.4" r="1.2"/><circle cx="80.1" cy="267.1" r="1.2"/><circle cx="80.6" cy="269.1" r="1.2"/><circle cx="103.2" cy="258.9" r="1.2"/><circle cx="106.8" cy="264.6" r="1.2"/><circle cx="106.6" cy="255.2" r="1.2"/><circle cx="103.5" cy="262.2" r="1.2"/><circle cx="102.3" cy="254.5" r="1.2"/><circle cx="106.2" cy="259.1" r="1.2"/><circle cx="102.2" cy="263.2" r="1.2"/><circle cx="98.2" cy="254.6" r="1.2"/><circle cx="106.2" cy="257.3" r="1.2"/><circle cx="95.4" cy="255.8" r="1.2"/><circle cx="107.1" cy="262.4" r="1.2"/><circle cx="97.4" cy="255.9" r="1.2"/><circle cx="105.9" cy="261.6" r="1.2"/><circle cx="102" cy="255.7" r="1.2"/><circle cx="112.6" cy="244.7" r="1.2"/><circle cx="112.6" cy="246.1" r="1.2"/><circle cx="116.7" cy="257.8" r="1.2"/><circle cx="99" cy="247.5" r="1.2"/><circle cx="89.4" cy="248.8" r="1.2"/><circle cx="75.7" cy="252.9" r="1.2"/><circle cx="78.5" cy="252.9" r="1.2"/><circle cx="73" cy="249.6" r="1.2"/><circle cx="83.9" cy="255.7" r="1.2"/><circle cx="86.7" cy="258.4" r="1.2"/><circle cx="101.7" cy="248" r="1.2"/><circle cx="64.8" cy="283" r="1.2"/><circle cx="67.5" cy="285.2" r="1.2"/><circle cx="81.2" cy="259.8" r="1.2"/><circle cx="82.6" cy="274.8" r="1.2"/></g>
<rect x="17.5" y="243.5" width="105" height="52" fill="none" stroke="#8c8c8c" stroke-width="1"/>
<text x="15.7" y="297.3" class="tl" text-anchor="end">0</text>
<text x="15.7" y="288.63" class="tl" text-anchor="end">4</text>
<text x="15.7" y="279.97" class="tl" text-anchor="end">8</text>
<text x="15.7" y="271.3" class="tl" text-anchor="end">12</text>
<text x="15.7" y="262.63" class="tl" text-anchor="end">16</text>
<text x="15.7" y="253.97" class="tl" text-anchor="end">20</text>
<text x="15.7" y="245.3" class="tl" text-anchor="end">24</text>
<text x="17.5" y="302.6" class="tl lg xt" text-anchor="middle">0</text>
<text x="28" y="302.6" class="tl xt" text-anchor="middle">50</text>
<text x="38.5" y="302.6" class="tl xt" text-anchor="middle">100</text>
<text x="49" y="302.6" class="tl xt" text-anchor="middle">150</text>
<text x="59.5" y="302.6" class="tl xt" text-anchor="middle">200</text>
<text x="70" y="302.6" class="tl xt" text-anchor="middle">250</text>
<text x="80.5" y="302.6" class="tl xt" text-anchor="middle">300</text>
<text x="91" y="302.6" class="tl xt" text-anchor="middle">350</text>
<text x="101.5" y="302.6" class="tl xt" text-anchor="middle">400</text>
<text x="112" y="302.6" class="tl xt" text-anchor="middle">450</text>
<text x="122.5" y="302.6" class="tl xt" text-anchor="middle">500</text>
<text x="70" y="312.3" class="al xl" text-anchor="middle">P<tspan class="sb" dy="0.9">MAX</tspan><tspan dy="-0.9"> (kW)</tspan></text>
<text transform="translate(5.9 269.5) rotate(-90)" class="al" text-anchor="middle">FC<tspan class="sb" dy="1.2">U</tspan><tspan dy="-1.2"> (l/100km)</tspan></text>
<path d="M158.5 243.5V295.5M168.5 243.5V295.5M178.5 243.5V295.5M189.5 243.5V295.5M200.5 243.5V295.5M210.5 243.5V295.5M220.5 243.5V295.5M231.5 243.5V295.5M242.5 243.5V295.5M147.5 293.33H252.5M147.5 291.17H252.5M147.5 289H252.5M147.5 286.83H252.5M147.5 284.67H252.5M147.5 282.5H252.5M147.5 280.33H252.5M147.5 278.17H252.5M147.5 276H252.5M147.5 273.83H252.5M147.5 271.67H252.5M147.5 269.5H252.5M147.5 267.33H252.5M147.5 265.17H252.5M147.5 263H252.5M147.5 260.83H252.5M147.5 258.67H252.5M147.5 256.5H252.5M147.5 254.33H252.5M147.5 252.17H252.5M147.5 250H252.5M147.5 247.83H252.5M147.5 245.67H252.5" class="grid"/>
<path d="M147.5 293.33h1.2M252.5 293.33h-1.2M147.5 291.17h1.2M252.5 291.17h-1.2M147.5 289h1.2M252.5 289h-1.2M147.5 286.83h1.2M252.5 286.83h-1.2M147.5 284.67h1.2M252.5 284.67h-1.2M147.5 282.5h1.2M252.5 282.5h-1.2M147.5 280.33h1.2M252.5 280.33h-1.2M147.5 278.17h1.2M252.5 278.17h-1.2M147.5 276h1.2M252.5 276h-1.2M147.5 273.83h1.2M252.5 273.83h-1.2M147.5 271.67h1.2M252.5 271.67h-1.2M147.5 269.5h1.2M252.5 269.5h-1.2M147.5 267.33h1.2M252.5 267.33h-1.2M147.5 265.17h1.2M252.5 265.17h-1.2M147.5 263h1.2M252.5 263h-1.2M147.5 260.83h1.2M252.5 260.83h-1.2M147.5 258.67h1.2M252.5 258.67h-1.2M147.5 256.5h1.2M252.5 256.5h-1.2M147.5 254.33h1.2M252.5 254.33h-1.2M147.5 252.17h1.2M252.5 252.17h-1.2M147.5 250h1.2M252.5 250h-1.2M147.5 247.83h1.2M252.5 247.83h-1.2M147.5 245.67h1.2M252.5 245.67h-1.2M150.12 295.5v-1.2M150.12 243.5v1.2M152.75 295.5v-1.2M152.75 243.5v1.2M155.38 295.5v-1.2M155.38 243.5v1.2M158 295.5v-1.2M158 243.5v1.2M160.62 295.5v-1.2M160.62 243.5v1.2M163.25 295.5v-1.2M163.25 243.5v1.2M165.88 295.5v-1.2M165.88 243.5v1.2M168.5 295.5v-1.2M168.5 243.5v1.2M171.12 295.5v-1.2M171.12 243.5v1.2M173.75 295.5v-1.2M173.75 243.5v1.2M176.38 295.5v-1.2M176.38 243.5v1.2M179 295.5v-1.2M179 243.5v1.2M181.62 295.5v-1.2M181.62 243.5v1.2M184.25 295.5v-1.2M184.25 243.5v1.2M186.88 295.5v-1.2M186.88 243.5v1.2M189.5 295.5v-1.2M189.5 243.5v1.2M192.12 295.5v-1.2M192.12 243.5v1.2M194.75 295.5v-1.2M194.75 243.5v1.2M197.38 295.5v-1.2M197.38 243.5v1.2M200 295.5v-1.2M200 243.5v1.2M202.62 295.5v-1.2M202.62 243.5v1.2M205.25 295.5v-1.2M205.25 243.5v1.2M207.88 295.5v-1.2M207.88 243.5v1.2M210.5 295.5v-1.2M210.5 243.5v1.2M213.12 295.5v-1.2M213.12 243.5v1.2M215.75 295.5v-1.2M215.75 243.5v1.2M218.38 295.5v-1.2M218.38 243.5v1.2M221 295.5v-1.2M221 243.5v1.2M223.62 295.5v-1.2M223.62 243.5v1.2M226.25 295.5v-1.2M226.25 243.5v1.2M228.88 295.5v-1.2M228.88 243.5v1.2M231.5 295.5v-1.2M231.5 243.5v1.2M234.12 295.5v-1.2M234.12 243.5v1.2M236.75 295.5v-1.2M236.75 243.5v1.2M239.38 295.5v-1.2M239.38 243.5v1.2M242 295.5v-1.2M242 243.5v1.2M244.62 295.5v-1.2M244.62 243.5v1.2M247.25 295.5v-1.2M247.25 243.5v1.2M249.88 295.5v-1.2M249.88 243.5v1.2" stroke="#555" stroke-width="0.6" fill="none"/>
<g fill="#00f"><polygon points="156.56,283.53 163.39,281.07 171.59,278.61 179.78,276.97 187.98,275.33 190.71,274.78 191.26,285.16 187.98,286.53 179.78,287.9 168.86,288.44 156.56,287.9"/></g>
<g fill="none" stroke="#00f" stroke-width="0.6"><circle cx="170.7" cy="288.9" r="1.2"/><circle cx="158.7" cy="289" r="1.2"/><circle cx="187.3" cy="285.2" r="1.2"/><circle cx="156.3" cy="284.6" r="1.2"/><circle cx="173.8" cy="281.1" r="1.2"/><circle cx="160.3" cy="281.4" r="1.2"/><circle cx="185.8" cy="274.9" r="1.2"/><circle cx="188.6" cy="279.8" r="1.2"/><circle cx="172.5" cy="283.7" r="1.2"/><circle cx="176.8" cy="287.9" r="1.2"/><circle cx="174.5" cy="281.4" r="1.2"/><circle cx="193" cy="276.3" r="1.2"/><circle cx="190.4" cy="280.9" r="1.2"/><circle cx="188.7" cy="284.6" r="1.2"/><circle cx="183" cy="285.7" r="1.2"/><circle cx="166.4" cy="285.1" r="1.2"/><circle cx="162.6" cy="282.1" r="1.2"/><circle cx="177.7" cy="285.9" r="1.2"/><circle cx="186.6" cy="286.4" r="1.2"/><circle cx="192.6" cy="274.6" r="1.2"/><circle cx="182.7" cy="285.4" r="1.2"/><circle cx="179.8" cy="286" r="1.2"/><circle cx="174.7" cy="282.3" r="1.2"/><circle cx="190.4" cy="283.8" r="1.2"/><circle cx="180.1" cy="282.7" r="1.2"/><circle cx="173.8" cy="285.6" r="1.2"/><circle cx="171.2" cy="279.8" r="1.2"/><circle cx="171.4" cy="282.3" r="1.2"/><circle cx="168.7" cy="279.3" r="1.2"/><circle cx="171.2" cy="279" r="1.2"/><circle cx="192.4" cy="274.2" r="1.2"/><circle cx="155.3" cy="285" r="1.2"/><circle cx="170" cy="280.3" r="1.2"/><circle cx="177.6" cy="278.9" r="1.2"/><circle cx="165.7" cy="280.6" r="1.2"/><circle cx="181.7" cy="286.3" r="1.2"/><circle cx="172.9" cy="279.3" r="1.2"/><circle cx="163.7" cy="286.3" r="1.2"/><circle cx="159.1" cy="282.8" r="1.2"/><circle cx="192.9" cy="284.9" r="1.2"/><circle cx="157" cy="285.2" r="1.2"/><circle cx="157.3" cy="286.5" r="1.2"/><circle cx="180.5" cy="280.7" r="1.2"/><circle cx="177.5" cy="279.8" r="1.2"/><circle cx="164.3" cy="288.6" r="1.2"/><circle cx="183" cy="274.7" r="1.2"/><circle cx="176.9" cy="278.2" r="1.2"/><circle cx="171.7" cy="286.6" r="1.2"/><circle cx="161.7" cy="285" r="1.2"/><circle cx="167.5" cy="288.9" r="1.2"/><circle cx="191.6" cy="278.2" r="1.2"/><circle cx="170.6" cy="283.3" r="1.2"/><circle cx="179.4" cy="278.5" r="1.2"/><circle cx="166.5" cy="283.2" r="1.2"/><circle cx="189.6" cy="281.5" r="1.2"/><circle cx="164.5" cy="282.7" r="1.2"/><circle cx="165.3" cy="286.1" r="1.2"/><circle cx="171.7" cy="288.2" r="1.2"/><circle cx="167.5" cy="279.4" r="1.2"/><circle cx="184.1" cy="279.5" r="1.2"/><circle cx="173.1" cy="279.4" r="1.2"/><circle cx="171.2" cy="288.5" r="1.2"/><circle cx="164.4" cy="289.4" r="1.2"/><circle cx="175" cy="284.3" r="1.2"/><circle cx="159.9" cy="287.8" r="1.2"/><circle cx="168.6" cy="284.6" r="1.2"/><circle cx="172.5" cy="281.7" r="1.2"/><circle cx="167.7" cy="284.3" r="1.2"/><circle cx="182.2" cy="280.1" r="1.2"/><circle cx="162.9" cy="286.8" r="1.2"/><circle cx="176" cy="278.2" r="1.2"/><circle cx="185.3" cy="286.2" r="1.2"/><circle cx="181.7" cy="287.8" r="1.2"/><circle cx="164.7" cy="281.7" r="1.2"/><circle cx="186.5" cy="282.7" r="1.2"/><circle cx="192.7" cy="285.6" r="1.2"/><circle cx="192.7" cy="277" r="1.2"/><circle cx="187.5" cy="274.6" r="1.2"/><circle cx="180" cy="278.7" r="1.2"/><circle cx="189.1" cy="277.7" r="1.2"/><circle cx="179.6" cy="284.3" r="1.2"/><circle cx="156.3" cy="283.1" r="1.2"/><circle cx="171.6" cy="288.6" r="1.2"/><circle cx="179.1" cy="283.9" r="1.2"/><circle cx="188.6" cy="274.5" r="1.2"/><circle cx="174.6" cy="280.8" r="1.2"/><circle cx="176.1" cy="285.1" r="1.2"/><circle cx="189.3" cy="280.7" r="1.2"/><circle cx="156.3" cy="286.9" r="1.2"/><circle cx="160.2" cy="283" r="1.2"/><circle cx="185" cy="274.8" r="1.2"/><circle cx="166.1" cy="287.2" r="1.2"/><circle cx="181.3" cy="286.3" r="1.2"/><circle cx="180.2" cy="278.1" r="1.2"/><circle cx="169.6" cy="282.1" r="1.2"/><circle cx="176.1" cy="279.5" r="1.2"/><circle cx="185.7" cy="274.1" r="1.2"/><circle cx="167.4" cy="288.7" r="1.2"/><circle cx="184.3" cy="281.8" r="1.2"/><circle cx="185.2" cy="282.5" r="1.2"/><circle cx="158.4" cy="287.7" r="1.2"/><circle cx="167.1" cy="279.6" r="1.2"/><circle cx="182" cy="286.3" r="1.2"/><circle cx="184.2" cy="284.5" r="1.2"/><circle cx="169.1" cy="278.5" r="1.2"/><circle cx="160.6" cy="286.9" r="1.2"/><circle cx="172.5" cy="286.6" r="1.2"/><circle cx="174.6" cy="285.4" r="1.2"/><circle cx="188.9" cy="278.7" r="1.2"/><circle cx="181.6" cy="279.5" r="1.2"/><circle cx="188.1" cy="285.7" r="1.2"/><circle cx="176.2" cy="278.8" r="1.2"/><circle cx="165.3" cy="287.8" r="1.2"/><circle cx="185.7" cy="277.9" r="1.2"/><circle cx="192.1" cy="273.3" r="1.2"/><circle cx="186.1" cy="281.7" r="1.2"/><circle cx="176.1" cy="281.9" r="1.2"/><circle cx="170.6" cy="282.2" r="1.2"/><circle cx="158.1" cy="288.4" r="1.2"/><circle cx="180.7" cy="283.6" r="1.2"/><circle cx="185.9" cy="284.5" r="1.2"/><circle cx="190.8" cy="273.5" r="1.2"/><circle cx="184.9" cy="275.2" r="1.2"/><circle cx="175.3" cy="285.9" r="1.2"/><circle cx="160.7" cy="281.7" r="1.2"/><circle cx="189.6" cy="285.5" r="1.2"/><circle cx="170.1" cy="280.8" r="1.2"/><circle cx="165.4" cy="289.1" r="1.2"/><circle cx="185" cy="284.3" r="1.2"/><circle cx="166.5" cy="285.2" r="1.2"/><circle cx="196.7" cy="283.9" r="1.2"/><circle cx="195.6" cy="284.9" r="1.2"/><circle cx="198.6" cy="280" r="1.2"/><circle cx="197.5" cy="284" r="1.2"/><circle cx="192.1" cy="285.1" r="1.2"/><circle cx="198.9" cy="280.4" r="1.2"/><circle cx="200.2" cy="276.5" r="1.2"/><circle cx="195.3" cy="283" r="1.2"/><circle cx="200" cy="279.1" r="1.2"/><circle cx="201.6" cy="282.2" r="1.2"/><circle cx="192.5" cy="276.2" r="1.2"/><circle cx="192.8" cy="281.3" r="1.2"/><circle cx="195.2" cy="277.8" r="1.2"/><circle cx="196.4" cy="275.7" r="1.2"/><circle cx="200.8" cy="284.4" r="1.2"/><circle cx="197.4" cy="279.9" r="1.2"/><circle cx="195" cy="281.7" r="1.2"/><circle cx="201.2" cy="283.1" r="1.2"/><circle cx="200" cy="275.6" r="1.2"/><circle cx="193.3" cy="278.7" r="1.2"/><circle cx="193.3" cy="279.6" r="1.2"/><circle cx="201.5" cy="284.4" r="1.2"/><circle cx="201.2" cy="277.3" r="1.2"/><circle cx="197.1" cy="278.2" r="1.2"/><circle cx="198.5" cy="281.2" r="1.2"/><circle cx="197.8" cy="278.2" r="1.2"/><circle cx="199.1" cy="282.7" r="1.2"/><circle cx="198.9" cy="280.2" r="1.2"/><circle cx="196.5" cy="278.1" r="1.2"/><circle cx="192.5" cy="280.1" r="1.2"/><circle cx="198" cy="276.9" r="1.2"/><circle cx="200.3" cy="284.9" r="1.2"/><circle cx="200.2" cy="284.1" r="1.2"/><circle cx="196.7" cy="276.8" r="1.2"/><circle cx="194.7" cy="283.2" r="1.2"/><circle cx="201.5" cy="276.1" r="1.2"/><circle cx="192.1" cy="278.8" r="1.2"/><circle cx="195.4" cy="281.6" r="1.2"/><circle cx="193.2" cy="284.5" r="1.2"/><circle cx="195.3" cy="285.2" r="1.2"/><circle cx="207" cy="276.3" r="1.2"/><circle cx="204.5" cy="282.7" r="1.2"/><circle cx="211.3" cy="281.3" r="1.2"/><circle cx="202.7" cy="278.6" r="1.2"/><circle cx="213.7" cy="282.8" r="1.2"/><circle cx="217" cy="274.4" r="1.2"/><circle cx="207.8" cy="283" r="1.2"/><circle cx="210.4" cy="282.6" r="1.2"/><circle cx="205.8" cy="273.7" r="1.2"/><circle cx="217.1" cy="275.9" r="1.2"/><circle cx="210.8" cy="276.9" r="1.2"/><circle cx="211.1" cy="282.3" r="1.2"/><circle cx="217.2" cy="281.8" r="1.2"/><circle cx="205.8" cy="281.3" r="1.2"/><circle cx="201.9" cy="277.4" r="1.2"/><circle cx="217.1" cy="275.9" r="1.2"/><circle cx="207.7" cy="279" r="1.2"/><circle cx="205.5" cy="280.2" r="1.2"/><circle cx="212.3" cy="274.3" r="1.2"/><circle cx="216.7" cy="274.1" r="1.2"/><circle cx="213.1" cy="276.7" r="1.2"/><circle cx="204" cy="274.2" r="1.2"/><circle cx="218" cy="281.1" r="1.2"/><circle cx="209.2" cy="281" r="1.2"/><circle cx="217.5" cy="282.3" r="1.2"/><circle cx="210.4" cy="276" r="1.2"/><circle cx="210.1" cy="282.8" r="1.2"/><circle cx="213.6" cy="279.8" r="1.2"/><circle cx="215.5" cy="277.3" r="1.2"/><circle cx="210.8" cy="281.5" r="1.2"/><circle cx="204.9" cy="281.6" r="1.2"/><circle cx="202" cy="278.6" r="1.2"/><circle cx="211.1" cy="274.8" r="1.2"/><circle cx="216.8" cy="277.6" r="1.2"/><circle cx="204.7" cy="277.4" r="1.2"/><circle cx="211.3" cy="277.5" r="1.2"/><circle cx="201.7" cy="274.3" r="1.2"/><circle cx="213.3" cy="274.7" r="1.2"/><circle cx="205.8" cy="281.1" r="1.2"/><circle cx="215.8" cy="281.8" r="1.2"/><circle cx="204.5" cy="273.5" r="1.2"/><circle cx="214" cy="279.1" r="1.2"/><circle cx="207.6" cy="273.6" r="1.2"/><circle cx="208.7" cy="275.7" r="1.2"/><circle cx="211.3" cy="282.8" r="1.2"/><circle cx="209.9" cy="276.6" r="1.2"/><circle cx="213.2" cy="276.7" r="1.2"/><circle cx="210" cy="278.5" r="1.2"/><circle cx="215.2" cy="277.9" r="1.2"/><circle cx="210.6" cy="278.7" r="1.2"/><circle cx="209.6" cy="278.3" r="1.2"/><circle cx="213.3" cy="277.9" r="1.2"/><circle cx="213.9" cy="277.2" r="1.2"/><circle cx="209.2" cy="279.6" r="1.2"/><circle cx="211.6" cy="281.2" r="1.2"/><circle cx="209.2" cy="280.2" r="1.2"/><circle cx="213" cy="278.2" r="1.2"/><circle cx="209.3" cy="279.5" r="1.2"/><circle cx="213.6" cy="278.7" r="1.2"/><circle cx="211.7" cy="279.9" r="1.2"/><circle cx="212.6" cy="278.5" r="1.2"/><circle cx="209.7" cy="278.7" r="1.2"/><circle cx="212.2" cy="281" r="1.2"/><circle cx="237.1" cy="276" r="1.2"/><circle cx="226.1" cy="272.8" r="1.2"/><circle cx="231.1" cy="277.7" r="1.2"/><circle cx="224.8" cy="277.3" r="1.2"/><circle cx="237.1" cy="274.4" r="1.2"/><circle cx="236.2" cy="274.9" r="1.2"/><circle cx="231.5" cy="279" r="1.2"/><circle cx="224.1" cy="274" r="1.2"/><circle cx="236.9" cy="271.3" r="1.2"/><circle cx="225.8" cy="275.2" r="1.2"/><circle cx="233" cy="276.7" r="1.2"/><circle cx="236" cy="277.1" r="1.2"/><circle cx="220.8" cy="271.4" r="1.2"/><circle cx="221.4" cy="274.8" r="1.2"/><circle cx="221.2" cy="275.7" r="1.2"/><circle cx="231.1" cy="272.6" r="1.2"/><circle cx="234.8" cy="274.6" r="1.2"/><circle cx="236.5" cy="274.1" r="1.2"/><circle cx="230.9" cy="275.9" r="1.2"/><circle cx="225.1" cy="278.1" r="1.2"/><circle cx="192.1" cy="269.3" r="1.2"/><circle cx="207.1" cy="269.3" r="1.2"/><circle cx="242.6" cy="265.2" r="1.2"/><circle cx="242.6" cy="273.4" r="1.2"/><circle cx="245.4" cy="277.5" r="1.2"/><circle cx="166.1" cy="275.3" r="1.2"/><circle cx="179.8" cy="274.2" r="1.2"/><circle cx="197.5" cy="273.4" r="1.2"/><circle cx="203" cy="271.5" r="1.2"/><circle cx="229" cy="269.3" r="1.2"/><circle cx="233.1" cy="274.8" r="1.2"/></g>
<rect x="147.5" y="243.5" width="105" height="52" fill="none" stroke="#8c8c8c" stroke-width="1"/>
<text x="145.7" y="297.3" class="tl" text-anchor="end">0</text>
<text x="145.7" y="288.63" class="tl" text-anchor="end">4</text>
<text x="145.7" y="279.97" class="tl" text-anchor="end">8</text>
<text x="145.7" y="271.3" class="tl" text-anchor="end">12</text>
<text x="145.7" y="262.63" class="tl" text-anchor="end">16</text>
<text x="145.7" y="253.97" class="tl" text-anchor="end">20</text>
<text x="145.7" y="245.3" class="tl" text-anchor="end">24</text>
<text x="147.5" y="302.6" class="tl lg xt" text-anchor="middle">0</text>
<text x="158" y="302.6" class="tl xt" text-anchor="middle">50</text>
<text x="168.5" y="302.6" class="tl xt" text-anchor="middle">100</text>
<text x="179" y="302.6" class="tl xt" text-anchor="middle">150</text>
<text x="189.5" y="302.6" class="tl xt" text-anchor="middle">200</text>
<text x="200" y="302.6" class="tl xt" text-anchor="middle">250</text>
<text x="210.5" y="302.6" class="tl xt" text-anchor="middle">300</text>
<text x="221" y="302.6" class="tl xt" text-anchor="middle">350</text>
<text x="231.5" y="302.6" class="tl xt" text-anchor="middle">400</text>
<text x="242" y="302.6" class="tl xt" text-anchor="middle">450</text>
<text x="252.5" y="302.6" class="tl xt" text-anchor="middle">500</text>
<text x="200" y="312.3" class="al xl" text-anchor="middle">P<tspan class="sb" dy="0.9">MAX</tspan><tspan dy="-0.9"> (kW)</tspan></text>
<text transform="translate(135.4 269.5) rotate(-90)" class="al" text-anchor="middle">FC<tspan class="sb" dy="1.2">H</tspan><tspan dy="-1.2"> (l/100km)</tspan></text>
<path d="M286.5 243.5V295.5M297.5 243.5V295.5M308.5 243.5V295.5M318.5 243.5V295.5M328.5 243.5V295.5M339.5 243.5V295.5M350.5 243.5V295.5M360.5 243.5V295.5M370.5 243.5V295.5M276.5 293.33H381.5M276.5 291.17H381.5M276.5 289H381.5M276.5 286.83H381.5M276.5 284.67H381.5M276.5 282.5H381.5M276.5 280.33H381.5M276.5 278.17H381.5M276.5 276H381.5M276.5 273.83H381.5M276.5 271.67H381.5M276.5 269.5H381.5M276.5 267.33H381.5M276.5 265.17H381.5M276.5 263H381.5M276.5 260.83H381.5M276.5 258.67H381.5M276.5 256.5H381.5M276.5 254.33H381.5M276.5 252.17H381.5M276.5 250H381.5M276.5 247.83H381.5M276.5 245.67H381.5" class="grid"/>
<path d="M276.5 293.33h1.2M381.5 293.33h-1.2M276.5 291.17h1.2M381.5 291.17h-1.2M276.5 289h1.2M381.5 289h-1.2M276.5 286.83h1.2M381.5 286.83h-1.2M276.5 284.67h1.2M381.5 284.67h-1.2M276.5 282.5h1.2M381.5 282.5h-1.2M276.5 280.33h1.2M381.5 280.33h-1.2M276.5 278.17h1.2M381.5 278.17h-1.2M276.5 276h1.2M381.5 276h-1.2M276.5 273.83h1.2M381.5 273.83h-1.2M276.5 271.67h1.2M381.5 271.67h-1.2M276.5 269.5h1.2M381.5 269.5h-1.2M276.5 267.33h1.2M381.5 267.33h-1.2M276.5 265.17h1.2M381.5 265.17h-1.2M276.5 263h1.2M381.5 263h-1.2M276.5 260.83h1.2M381.5 260.83h-1.2M276.5 258.67h1.2M381.5 258.67h-1.2M276.5 256.5h1.2M381.5 256.5h-1.2M276.5 254.33h1.2M381.5 254.33h-1.2M276.5 252.17h1.2M381.5 252.17h-1.2M276.5 250h1.2M381.5 250h-1.2M276.5 247.83h1.2M381.5 247.83h-1.2M276.5 245.67h1.2M381.5 245.67h-1.2M279.12 295.5v-1.2M279.12 243.5v1.2M281.75 295.5v-1.2M281.75 243.5v1.2M284.38 295.5v-1.2M284.38 243.5v1.2M287 295.5v-1.2M287 243.5v1.2M289.62 295.5v-1.2M289.62 243.5v1.2M292.25 295.5v-1.2M292.25 243.5v1.2M294.88 295.5v-1.2M294.88 243.5v1.2M297.5 295.5v-1.2M297.5 243.5v1.2M300.12 295.5v-1.2M300.12 243.5v1.2M302.75 295.5v-1.2M302.75 243.5v1.2M305.38 295.5v-1.2M305.38 243.5v1.2M308 295.5v-1.2M308 243.5v1.2M310.62 295.5v-1.2M310.62 243.5v1.2M313.25 295.5v-1.2M313.25 243.5v1.2M315.88 295.5v-1.2M315.88 243.5v1.2M318.5 295.5v-1.2M318.5 243.5v1.2M321.12 295.5v-1.2M321.12 243.5v1.2M323.75 295.5v-1.2M323.75 243.5v1.2M326.38 295.5v-1.2M326.38 243.5v1.2M329 295.5v-1.2M329 243.5v1.2M331.62 295.5v-1.2M331.62 243.5v1.2M334.25 295.5v-1.2M334.25 243.5v1.2M336.88 295.5v-1.2M336.88 243.5v1.2M339.5 295.5v-1.2M339.5 243.5v1.2M342.12 295.5v-1.2M342.12 243.5v1.2M344.75 295.5v-1.2M344.75 243.5v1.2M347.38 295.5v-1.2M347.38 243.5v1.2M350 295.5v-1.2M350 243.5v1.2M352.62 295.5v-1.2M352.62 243.5v1.2M355.25 295.5v-1.2M355.25 243.5v1.2M357.88 295.5v-1.2M357.88 243.5v1.2M360.5 295.5v-1.2M360.5 243.5v1.2M363.12 295.5v-1.2M363.12 243.5v1.2M365.75 295.5v-1.2M365.75 243.5v1.2M368.38 295.5v-1.2M368.38 243.5v1.2M371 295.5v-1.2M371 243.5v1.2M373.62 295.5v-1.2M373.62 243.5v1.2M376.25 295.5v-1.2M376.25 243.5v1.2M378.88 295.5v-1.2M378.88 243.5v1.2" stroke="#555" stroke-width="0.6" fill="none"/>
<g fill="#00f"><polygon points="285.56,281.61 292.39,278.88 300.59,276.15 308.78,272.87 314.25,270.96 316.43,270.41 316.98,285.16 308.78,286.53 297.86,288.44 285.56,287.9"/></g>
<g fill="none" stroke="#00f" stroke-width="0.6"><circle cx="294.8" cy="287" r="1.2"/><circle cx="294" cy="281.1" r="1.2"/><circle cx="311.7" cy="270.3" r="1.2"/><circle cx="310.7" cy="276.4" r="1.2"/><circle cx="301.8" cy="277" r="1.2"/><circle cx="298.9" cy="289.3" r="1.2"/><circle cx="309.2" cy="283.1" r="1.2"/><circle cx="312.5" cy="282.5" r="1.2"/><circle cx="305.5" cy="274.7" r="1.2"/><circle cx="292.9" cy="287.8" r="1.2"/><circle cx="286" cy="289.1" r="1.2"/><circle cx="315" cy="285.5" r="1.2"/><circle cx="287.5" cy="283.6" r="1.2"/><circle cx="311.7" cy="285" r="1.2"/><circle cx="311.1" cy="270.6" r="1.2"/><circle cx="312.9" cy="285.9" r="1.2"/><circle cx="313.4" cy="270.6" r="1.2"/><circle cx="317.8" cy="276.9" r="1.2"/><circle cx="310.4" cy="285.3" r="1.2"/><circle cx="317.1" cy="269.7" r="1.2"/><circle cx="309.7" cy="272.8" r="1.2"/><circle cx="308" cy="279.2" r="1.2"/><circle cx="310.3" cy="275.2" r="1.2"/><circle cx="298" cy="284" r="1.2"/><circle cx="308" cy="287.1" r="1.2"/><circle cx="294.4" cy="286.3" r="1.2"/><circle cx="309.2" cy="280.3" r="1.2"/><circle cx="297.8" cy="280.2" r="1.2"/><circle cx="285.3" cy="283.4" r="1.2"/><circle cx="309" cy="281.2" r="1.2"/><circle cx="290.8" cy="283.5" r="1.2"/><circle cx="312.3" cy="281.3" r="1.2"/><circle cx="291.5" cy="280.1" r="1.2"/><circle cx="288.8" cy="286.6" r="1.2"/><circle cx="305.6" cy="288.1" r="1.2"/><circle cx="294.1" cy="279.6" r="1.2"/><circle cx="300.4" cy="287.6" r="1.2"/><circle cx="303.7" cy="281.7" r="1.2"/><circle cx="304" cy="284.9" r="1.2"/><circle cx="317.7" cy="285.1" r="1.2"/><circle cx="291.4" cy="282.2" r="1.2"/><circle cx="294.9" cy="276.9" r="1.2"/><circle cx="284.3" cy="286" r="1.2"/><circle cx="309.3" cy="278.6" r="1.2"/><circle cx="314.9" cy="277.8" r="1.2"/><circle cx="290.8" cy="285.7" r="1.2"/><circle cx="314.6" cy="270.6" r="1.2"/><circle cx="301" cy="280.1" r="1.2"/><circle cx="305.1" cy="282.5" r="1.2"/><circle cx="305.5" cy="281.3" r="1.2"/><circle cx="284.2" cy="286" r="1.2"/><circle cx="286.3" cy="284.6" r="1.2"/><circle cx="290.6" cy="286.5" r="1.2"/><circle cx="312.1" cy="285.9" r="1.2"/><circle cx="296.9" cy="288.2" r="1.2"/><circle cx="292.7" cy="280.3" r="1.2"/><circle cx="307" cy="273" r="1.2"/><circle cx="311.3" cy="271.9" r="1.2"/><circle cx="305.9" cy="281.7" r="1.2"/><circle cx="301.9" cy="286.4" r="1.2"/><circle cx="309.8" cy="272.5" r="1.2"/><circle cx="314.4" cy="282.1" r="1.2"/><circle cx="304.2" cy="279.4" r="1.2"/><circle cx="303.3" cy="280.9" r="1.2"/><circle cx="286.4" cy="284.6" r="1.2"/><circle cx="292" cy="280.7" r="1.2"/><circle cx="302" cy="275.3" r="1.2"/><circle cx="316.5" cy="276.5" r="1.2"/><circle cx="298.3" cy="279.6" r="1.2"/><circle cx="310.4" cy="279.6" r="1.2"/><circle cx="308.5" cy="281.7" r="1.2"/><circle cx="310" cy="272.6" r="1.2"/><circle cx="303.4" cy="277.4" r="1.2"/><circle cx="291.7" cy="284.8" r="1.2"/><circle cx="291.3" cy="283.3" r="1.2"/><circle cx="300.6" cy="277.2" r="1.2"/><circle cx="308.2" cy="283.6" r="1.2"/><circle cx="311.4" cy="273.6" r="1.2"/><circle cx="306.9" cy="278.6" r="1.2"/><circle cx="316.3" cy="277.6" r="1.2"/><circle cx="300" cy="279.4" r="1.2"/><circle cx="295.7" cy="278.7" r="1.2"/><circle cx="302" cy="276.3" r="1.2"/><circle cx="294.7" cy="284" r="1.2"/><circle cx="300.8" cy="285.1" r="1.2"/><circle cx="297.5" cy="276.3" r="1.2"/><circle cx="317.2" cy="277.4" r="1.2"/><circle cx="305.9" cy="280.8" r="1.2"/><circle cx="312.4" cy="275.2" r="1.2"/><circle cx="284.9" cy="288.6" r="1.2"/><circle cx="302.2" cy="280.5" r="1.2"/><circle cx="286" cy="284" r="1.2"/><circle cx="296.6" cy="281.8" r="1.2"/><circle cx="293.5" cy="287.8" r="1.2"/><circle cx="314.7" cy="272.8" r="1.2"/><circle cx="293" cy="278.5" r="1.2"/><circle cx="290.9" cy="285.1" r="1.2"/><circle cx="310.8" cy="283.3" r="1.2"/><circle cx="311.2" cy="270.5" r="1.2"/><circle cx="314.5" cy="275.7" r="1.2"/><circle cx="311.9" cy="278.1" r="1.2"/><circle cx="314.6" cy="278.3" r="1.2"/><circle cx="289.3" cy="286.8" r="1.2"/><circle cx="303.6" cy="286.6" r="1.2"/><circle cx="288.9" cy="278.3" r="1.2"/><circle cx="292.8" cy="287.8" r="1.2"/><circle cx="308.8" cy="278.9" r="1.2"/><circle cx="304.8" cy="286.5" r="1.2"/><circle cx="316.7" cy="280.8" r="1.2"/><circle cx="285.4" cy="286.8" r="1.2"/><circle cx="288.4" cy="279" r="1.2"/><circle cx="303.9" cy="277.9" r="1.2"/><circle cx="308.6" cy="279.6" r="1.2"/><circle cx="294.4" cy="285.9" r="1.2"/><circle cx="297.1" cy="277.7" r="1.2"/><circle cx="292.6" cy="284" r="1.2"/><circle cx="315" cy="270.9" r="1.2"/><circle cx="301.2" cy="288.8" r="1.2"/><circle cx="314.5" cy="277.7" r="1.2"/><circle cx="301.6" cy="284.9" r="1.2"/><circle cx="309.7" cy="277.1" r="1.2"/><circle cx="315.8" cy="272.8" r="1.2"/><circle cx="314.1" cy="272.9" r="1.2"/><circle cx="317.4" cy="275.6" r="1.2"/><circle cx="301.5" cy="279.6" r="1.2"/><circle cx="287" cy="280.5" r="1.2"/><circle cx="299.1" cy="275" r="1.2"/><circle cx="312.5" cy="282.9" r="1.2"/><circle cx="288" cy="285" r="1.2"/><circle cx="310.1" cy="278.2" r="1.2"/><circle cx="330.6" cy="277.5" r="1.2"/><circle cx="318.6" cy="269.6" r="1.2"/><circle cx="318.8" cy="277.7" r="1.2"/><circle cx="325.5" cy="282.8" r="1.2"/><circle cx="317.1" cy="265.4" r="1.2"/><circle cx="330.3" cy="270.6" r="1.2"/><circle cx="320.6" cy="283" r="1.2"/><circle cx="318.5" cy="281.5" r="1.2"/><circle cx="329.2" cy="276.7" r="1.2"/><circle cx="325.3" cy="265.3" r="1.2"/><circle cx="325.3" cy="277.8" r="1.2"/><circle cx="327.5" cy="275.8" r="1.2"/><circle cx="318.5" cy="269.8" r="1.2"/><circle cx="325.9" cy="266.9" r="1.2"/><circle cx="318.4" cy="270.4" r="1.2"/><circle cx="327.9" cy="276.4" r="1.2"/><circle cx="321.9" cy="285" r="1.2"/><circle cx="324.9" cy="270.1" r="1.2"/><circle cx="324.7" cy="282.7" r="1.2"/><circle cx="322" cy="274.1" r="1.2"/><circle cx="324.9" cy="285.4" r="1.2"/><circle cx="325.7" cy="268.9" r="1.2"/><circle cx="324.9" cy="271.8" r="1.2"/><circle cx="323.4" cy="279.8" r="1.2"/><circle cx="317.3" cy="275.6" r="1.2"/><circle cx="321.3" cy="277.5" r="1.2"/><circle cx="328.2" cy="274.8" r="1.2"/><circle cx="325.6" cy="271.1" r="1.2"/><circle cx="320.5" cy="275.7" r="1.2"/><circle cx="324.3" cy="269.8" r="1.2"/><circle cx="327.4" cy="275.5" r="1.2"/><circle cx="321.8" cy="270.4" r="1.2"/><circle cx="328.4" cy="283.7" r="1.2"/><circle cx="329.8" cy="270.3" r="1.2"/><circle cx="318" cy="278.2" r="1.2"/><circle cx="317.3" cy="282.8" r="1.2"/><circle cx="326.3" cy="272.1" r="1.2"/><circle cx="323" cy="279.2" r="1.2"/><circle cx="319.2" cy="272.7" r="1.2"/><circle cx="327.7" cy="279.2" r="1.2"/><circle cx="325" cy="267.3" r="1.2"/><circle cx="319.9" cy="270.5" r="1.2"/><circle cx="317.4" cy="278.3" r="1.2"/><circle cx="324.8" cy="284.2" r="1.2"/><circle cx="324.6" cy="284" r="1.2"/><circle cx="323.4" cy="275.8" r="1.2"/><circle cx="320.8" cy="274.7" r="1.2"/><circle cx="329.8" cy="275.2" r="1.2"/><circle cx="317" cy="272.5" r="1.2"/><circle cx="319.7" cy="278" r="1.2"/><circle cx="323.9" cy="275" r="1.2"/><circle cx="329.6" cy="280.8" r="1.2"/><circle cx="318.2" cy="265.8" r="1.2"/><circle cx="326.6" cy="277.4" r="1.2"/><circle cx="325.9" cy="275.5" r="1.2"/><circle cx="317.5" cy="274.5" r="1.2"/><circle cx="328.4" cy="277.6" r="1.2"/><circle cx="317.6" cy="267.8" r="1.2"/><circle cx="329.3" cy="276.4" r="1.2"/><circle cx="319.2" cy="279.7" r="1.2"/><circle cx="329.6" cy="282.9" r="1.2"/><circle cx="325.8" cy="281.8" r="1.2"/><circle cx="318.2" cy="274.7" r="1.2"/><circle cx="328" cy="272.2" r="1.2"/><circle cx="318.9" cy="283" r="1.2"/><circle cx="326.6" cy="265.4" r="1.2"/><circle cx="317.8" cy="276.6" r="1.2"/><circle cx="330" cy="277.9" r="1.2"/><circle cx="328.9" cy="267.4" r="1.2"/><circle cx="324.8" cy="268.9" r="1.2"/><circle cx="321.5" cy="268.3" r="1.2"/><circle cx="323.3" cy="266.2" r="1.2"/><circle cx="325.9" cy="278.5" r="1.2"/><circle cx="329.3" cy="281" r="1.2"/><circle cx="318" cy="283" r="1.2"/><circle cx="324.4" cy="284.4" r="1.2"/><circle cx="323.7" cy="266.9" r="1.2"/><circle cx="326.6" cy="268.8" r="1.2"/><circle cx="330.4" cy="276.3" r="1.2"/><circle cx="329.3" cy="275.3" r="1.2"/><circle cx="323.7" cy="280.3" r="1.2"/><circle cx="325.8" cy="277.3" r="1.2"/><circle cx="323.4" cy="276.8" r="1.2"/><circle cx="325.8" cy="274" r="1.2"/><circle cx="322.8" cy="277.7" r="1.2"/><circle cx="325.5" cy="271.7" r="1.2"/><circle cx="323.4" cy="284.8" r="1.2"/><circle cx="323.4" cy="281.9" r="1.2"/><circle cx="323.6" cy="271.9" r="1.2"/><circle cx="324.6" cy="283.3" r="1.2"/><circle cx="326.1" cy="271.4" r="1.2"/><circle cx="325.7" cy="279.7" r="1.2"/><circle cx="324.5" cy="280.3" r="1.2"/><circle cx="324.7" cy="273.3" r="1.2"/><circle cx="325.7" cy="272.6" r="1.2"/><circle cx="323.6" cy="283" r="1.2"/><circle cx="325" cy="278.1" r="1.2"/><circle cx="325.8" cy="277.8" r="1.2"/><circle cx="324" cy="278.7" r="1.2"/><circle cx="322" cy="275.8" r="1.2"/><circle cx="322.1" cy="285.1" r="1.2"/><circle cx="326.9" cy="280.2" r="1.2"/><circle cx="322.8" cy="283.1" r="1.2"/><circle cx="323.4" cy="282.3" r="1.2"/><circle cx="325.5" cy="279.4" r="1.2"/><circle cx="344.8" cy="267.2" r="1.2"/><circle cx="346.6" cy="272.1" r="1.2"/><circle cx="345.1" cy="277.4" r="1.2"/><circle cx="335.5" cy="269.8" r="1.2"/><circle cx="337.6" cy="263.9" r="1.2"/><circle cx="347.4" cy="274.7" r="1.2"/><circle cx="340" cy="272.2" r="1.2"/><circle cx="347.5" cy="263.7" r="1.2"/><circle cx="337.5" cy="274.7" r="1.2"/><circle cx="340.9" cy="271.3" r="1.2"/><circle cx="335.6" cy="266.4" r="1.2"/><circle cx="343.5" cy="268.5" r="1.2"/><circle cx="348.6" cy="278.5" r="1.2"/><circle cx="349.2" cy="267.4" r="1.2"/><circle cx="340.5" cy="264.3" r="1.2"/><circle cx="337.5" cy="263.8" r="1.2"/><circle cx="340.2" cy="279.5" r="1.2"/><circle cx="345.2" cy="269" r="1.2"/><circle cx="335.9" cy="279" r="1.2"/><circle cx="331.6" cy="277.5" r="1.2"/><circle cx="347" cy="263.7" r="1.2"/><circle cx="348.8" cy="274" r="1.2"/><circle cx="338.1" cy="270" r="1.2"/><circle cx="342.3" cy="271.8" r="1.2"/><circle cx="347.2" cy="278.4" r="1.2"/><circle cx="336.9" cy="262.6" r="1.2"/><circle cx="345.5" cy="274" r="1.2"/><circle cx="343.2" cy="263.8" r="1.2"/><circle cx="332.1" cy="278.4" r="1.2"/><circle cx="337.6" cy="270.9" r="1.2"/><circle cx="349.3" cy="266" r="1.2"/><circle cx="342.8" cy="263.6" r="1.2"/><circle cx="341.4" cy="275.6" r="1.2"/><circle cx="333.6" cy="276" r="1.2"/><circle cx="349.2" cy="277.2" r="1.2"/><circle cx="345.8" cy="279.3" r="1.2"/><circle cx="344.3" cy="272.2" r="1.2"/><circle cx="346.4" cy="276.8" r="1.2"/><circle cx="342.7" cy="274.4" r="1.2"/><circle cx="334.1" cy="268.5" r="1.2"/><circle cx="336.9" cy="277.7" r="1.2"/><circle cx="345.6" cy="267.7" r="1.2"/><circle cx="349.6" cy="263.5" r="1.2"/><circle cx="331.8" cy="268.3" r="1.2"/><circle cx="332.1" cy="279.4" r="1.2"/><circle cx="357.4" cy="267.3" r="1.2"/><circle cx="364.2" cy="269" r="1.2"/><circle cx="361.1" cy="267.9" r="1.2"/><circle cx="358.8" cy="274.3" r="1.2"/><circle cx="356.3" cy="268.9" r="1.2"/><circle cx="359" cy="264.2" r="1.2"/><circle cx="354.5" cy="268.7" r="1.2"/><circle cx="363.4" cy="267.8" r="1.2"/><circle cx="353.3" cy="274" r="1.2"/><circle cx="354.4" cy="273.4" r="1.2"/><circle cx="353.1" cy="270.5" r="1.2"/><circle cx="354.5" cy="265.7" r="1.2"/><circle cx="358.3" cy="271.8" r="1.2"/><circle cx="358.4" cy="267.6" r="1.2"/><circle cx="358" cy="268.9" r="1.2"/><circle cx="356.3" cy="274.2" r="1.2"/><circle cx="355.1" cy="264.1" r="1.2"/><circle cx="360" cy="266.8" r="1.2"/><circle cx="362.3" cy="263" r="1.2"/><circle cx="361.7" cy="267" r="1.2"/><circle cx="365.2" cy="266.2" r="1.2"/><circle cx="358.4" cy="266.4" r="1.2"/><circle cx="296.5" cy="271.5" r="1.2"/><circle cx="297.9" cy="271.5" r="1.2"/><circle cx="321.1" cy="263.3" r="1.2"/><circle cx="336.1" cy="263.3" r="1.2"/><circle cx="371.6" cy="258.4" r="1.2"/><circle cx="371.6" cy="262.5" r="1.2"/><circle cx="375.7" cy="270.7" r="1.2"/><circle cx="347" cy="263.9" r="1.2"/><circle cx="358" cy="261.7" r="1.2"/></g>
<rect x="276.5" y="243.5" width="105" height="52" fill="none" stroke="#8c8c8c" stroke-width="1"/>
<text x="274.7" y="297.3" class="tl" text-anchor="end">0</text>
<text x="274.7" y="288.63" class="tl" text-anchor="end">4</text>
<text x="274.7" y="279.97" class="tl" text-anchor="end">8</text>
<text x="274.7" y="271.3" class="tl" text-anchor="end">12</text>
<text x="274.7" y="262.63" class="tl" text-anchor="end">16</text>
<text x="274.7" y="253.97" class="tl" text-anchor="end">20</text>
<text x="274.7" y="245.3" class="tl" text-anchor="end">24</text>
<text x="276.5" y="302.6" class="tl lg xt" text-anchor="middle">0</text>
<text x="287" y="302.6" class="tl xt" text-anchor="middle">50</text>
<text x="297.5" y="302.6" class="tl xt" text-anchor="middle">100</text>
<text x="308" y="302.6" class="tl xt" text-anchor="middle">150</text>
<text x="318.5" y="302.6" class="tl xt" text-anchor="middle">200</text>
<text x="329" y="302.6" class="tl xt" text-anchor="middle">250</text>
<text x="339.5" y="302.6" class="tl xt" text-anchor="middle">300</text>
<text x="350" y="302.6" class="tl xt" text-anchor="middle">350</text>
<text x="360.5" y="302.6" class="tl xt" text-anchor="middle">400</text>
<text x="371" y="302.6" class="tl xt" text-anchor="middle">450</text>
<text x="381.5" y="302.6" class="tl xt" text-anchor="middle">500</text>
<text x="329" y="312.3" class="al xl" text-anchor="middle">P<tspan class="sb" dy="0.9">MAX</tspan><tspan dy="-0.9"> (kW)</tspan></text>
<text transform="translate(264.1 269.5) rotate(-90)" class="al" text-anchor="middle">FC<tspan class="sb" dy="1.2">M</tspan><tspan dy="-1.2"> (l/100km)</tspan></text>
<path d="M36.5 322.5V372.5M53.5 322.5V372.5M70.5 322.5V372.5M87.5 322.5V372.5M104.5 322.5V372.5M19.5 370.42H121.5M19.5 368.33H121.5M19.5 366.25H121.5M19.5 364.17H121.5M19.5 362.08H121.5M19.5 360H121.5M19.5 357.92H121.5M19.5 355.83H121.5M19.5 353.75H121.5M19.5 351.67H121.5M19.5 349.58H121.5M19.5 347.5H121.5M19.5 345.42H121.5M19.5 343.33H121.5M19.5 341.25H121.5M19.5 339.17H121.5M19.5 337.08H121.5M19.5 335H121.5M19.5 332.92H121.5M19.5 330.83H121.5M19.5 328.75H121.5M19.5 326.67H121.5M19.5 324.58H121.5" class="grid"/>
<path d="M19.5 370.42h1.2M121.5 370.42h-1.2M19.5 368.33h1.2M121.5 368.33h-1.2M19.5 366.25h1.2M121.5 366.25h-1.2M19.5 364.17h1.2M121.5 364.17h-1.2M19.5 362.08h1.2M121.5 362.08h-1.2M19.5 360h1.2M121.5 360h-1.2M19.5 357.92h1.2M121.5 357.92h-1.2M19.5 355.83h1.2M121.5 355.83h-1.2M19.5 353.75h1.2M121.5 353.75h-1.2M19.5 351.67h1.2M121.5 351.67h-1.2M19.5 349.58h1.2M121.5 349.58h-1.2M19.5 347.5h1.2M121.5 347.5h-1.2M19.5 345.42h1.2M121.5 345.42h-1.2M19.5 343.33h1.2M121.5 343.33h-1.2M19.5 341.25h1.2M121.5 341.25h-1.2M19.5 339.17h1.2M121.5 339.17h-1.2M19.5 337.08h1.2M121.5 337.08h-1.2M19.5 335h1.2M121.5 335h-1.2M19.5 332.92h1.2M121.5 332.92h-1.2M19.5 330.83h1.2M121.5 330.83h-1.2M19.5 328.75h1.2M121.5 328.75h-1.2M19.5 326.67h1.2M121.5 326.67h-1.2M19.5 324.58h1.2M121.5 324.58h-1.2M23.75 372.5v-1.2M23.75 322.5v1.2M28 372.5v-1.2M28 322.5v1.2M32.25 372.5v-1.2M32.25 322.5v1.2M36.5 372.5v-1.2M36.5 322.5v1.2M40.75 372.5v-1.2M40.75 322.5v1.2M45 372.5v-1.2M45 322.5v1.2M49.25 372.5v-1.2M49.25 322.5v1.2M53.5 372.5v-1.2M53.5 322.5v1.2M57.75 372.5v-1.2M57.75 322.5v1.2M62 372.5v-1.2M62 322.5v1.2M66.25 372.5v-1.2M66.25 322.5v1.2M70.5 372.5v-1.2M70.5 322.5v1.2M74.75 372.5v-1.2M74.75 322.5v1.2M79 372.5v-1.2M79 322.5v1.2M83.25 372.5v-1.2M83.25 322.5v1.2M87.5 372.5v-1.2M87.5 322.5v1.2M91.75 372.5v-1.2M91.75 322.5v1.2M96 372.5v-1.2M96 322.5v1.2M100.25 372.5v-1.2M100.25 322.5v1.2M104.5 372.5v-1.2M104.5 322.5v1.2M108.75 372.5v-1.2M108.75 322.5v1.2M113 372.5v-1.2M113 322.5v1.2M117.25 372.5v-1.2M117.25 322.5v1.2" stroke="#888" stroke-width="0.6" fill="none"/>
<g fill="#00f"><polygon points="27.5,352 32,349.5 36.4,347 42,343 50,341 55,343 55,363.5 45,364.5 30,364.5 27,362"/></g>
<path class="dt" d="M44.1 341.5h0M48.8 346h0M50.1 341.8h0M41.5 351.1h0M50.4 354.4h0M48.5 343.6h0M56.9 339.8h0M30.9 355.4h0M45.7 340.4h0M53.6 355.2h0M40.6 352.9h0M48.3 347h0M58.2 344.7h0M52.3 361.8h0M38.7 344.6h0M43.4 340.5h0M49.4 349.4h0M58.5 365.2h0M55.7 364.6h0M54.5 332.6h0M30.4 365.7h0M55.7 353.1h0M47.1 346.9h0M44.6 341.3h0M30.1 362h0M45.5 362.2h0M36 351.8h0M35.4 360.6h0M33.1 354.2h0M44.9 343h0M43.8 360.2h0M36.4 359.6h0M33.9 353.8h0M50.1 349h0M58 345.3h0M44.9 346.3h0M56 351.9h0M32.4 364.2h0M54.6 344.9h0M46.5 350.9h0M51 337.4h0M48.2 353h0M59.7 354.7h0M58.6 348.7h0M55.2 333.2h0M54.4 348.3h0M28.6 351.9h0M33.4 356.1h0M31.9 355.7h0M47 356.5h0M58.3 342h0M49.2 345.5h0M56.4 360.4h0M52 352.6h0M34.9 363.3h0M58.9 364.8h0M37.5 360.3h0M49.1 360.9h0M53.3 347.5h0M39.4 359.4h0M48.3 350.5h0M55.7 332.8h0M29.3 361h0M29 362.4h0M51.6 355.3h0M40 352.4h0M44.8 364.7h0M43.3 350.5h0M41.7 346h0M49.5 335.6h0M49.5 364h0M51.9 350.6h0M29.1 350.5h0M55.9 361.8h0M32.2 357.8h0M53.4 348.4h0M55.2 338.2h0M37.4 349.6h0M50.7 347.3h0M36.3 361.9h0M39.3 346.3h0M33.6 348.5h0M50 344.3h0M48.5 348.9h0M26.4 365.2h0M35.8 350.7h0M58.6 338.9h0M31.2 361.3h0M35.2 349.5h0M56.8 347.2h0M33.9 352.5h0M29.8 349.8h0M48 334.8h0M44.7 342.5h0M51.3 353.1h0M56.9 352.8h0M49.9 359.9h0M35.6 348h0M55.7 351.2h0M51.3 358.3h0M35.4 353.2h0M38.8 348.2h0M44 354.9h0M31.7 360.9h0M54.9 366h0M38.5 364.8h0M27.3 364.9h0M51.9 337.3h0M37.8 357.4h0M42.8 365.3h0M54.7 337.7h0M57.2 362.8h0M45.2 350h0M46.9 343h0M52.1 351.6h0M54.1 334.7h0M54.8 349.4h0M47.5 340h0M49.7 345.8h0M50.5 352h0M47.5 350.7h0M50.3 343.1h0M42.2 348.3h0M51.5 334.2h0M43.3 340.7h0M46 340.7h0M56.4 344.4h0M55.9 357.3h0M35.1 351h0M26.3 364.2h0M47.5 335.6h0M43.6 348.9h0M48.8 341.8h0M56.9 353.4h0M28.5 360.2h0M56.1 342.3h0M50.2 361.6h0M56 334.1h0M54.5 340.3h0M53.3 355.6h0M41.8 363.1h0M58.6 351.6h0M51 355h0M39.6 349.1h0M43.3 339.2h0M34.9 361.1h0M54.8 356h0M49.4 349.5h0M45.5 354.9h0M59 338.9h0M34.7 360.4h0M27.1 359.5h0M53.1 361.9h0M34.7 364.1h0M38.6 347.4h0M58.3 350.6h0M49.1 335.5h0M29.6 360.4h0M34.5 365h0M49.1 338.4h0M50.2 342.8h0M54.3 359.1h0M45.8 355.7h0M37.1 357.4h0M45.1 336.4h0M34.2 348.2h0M56.2 336.2h0M51.5 359.4h0M36.7 350.6h0M59.7 353.2h0M39.2 365.7h0M34.8 364.9h0M36.5 346.4h0M36.7 354.4h0M56 355.7h0M32.2 366.2h0M50.6 349.3h0M54.9 335.4h0M46.3 359h0M52.4 355.1h0M35.1 352.9h0M39.5 347.6h0M44.3 352.2h0M56.3 341.5h0M29.8 361.3h0M57.3 336.1h0M38.2 363.2h0M55.4 365.7h0M34.6 348.2h0M49.2 337.1h0M29.5 359.5h0M55.9 333.2h0M53.4 361.1h0M48.1 342.1h0M53.9 334.5h0M27.6 364.9h0M33.5 363.6h0M51.6 333.3h0M29.2 354.2h0M31 354.9h0M48.9 339.8h0M55.6 353.6h0M49.5 353.3h0M28.1 362.5h0M52.5 349.6h0M46.1 348.8h0M51.7 350.3h0M35.4 349.7h0M43.7 362h0M50.5 339h0M43.3 352h0M45.7 347.7h0M43.3 355.7h0M56 349.6h0M52.7 355.4h0M42.7 341.9h0M59.9 357.2h0M38.6 356.1h0M57.4 337.3h0M47.4 365.1h0M38.8 362.2h0M53.3 342.8h0M30.9 359.8h0M40.1 343.9h0M41.8 357h0M56.4 363.6h0M52.1 337.8h0M32 348.3h0M30.5 354.4h0M49.3 343.1h0M26.8 360.9h0M51.6 362.3h0M49.7 336.8h0M58.9 354.4h0M35.6 346.4h0M59 357.7h0M53.6 357.8h0M27.3 350.9h0M31.9 363.7h0M52.8 341.6h0M59 337.2h0M53.4 335.1h0M52.8 350.6h0M53.1 343.4h0M50.6 349.3h0M52 338.6h0M54.9 356.2h0M31.3 357h0M34.7 358.3h0M50.4 355.5h0M47.8 355.9h0M26.3 360.9h0M56.5 344.3h0M43.6 354.4h0M57.5 354.3h0M43.5 358.5h0M44.6 346.1h0M37.4 345.4h0M51.4 362.5h0M41.5 361.1h0M30.3 349.6h0M51.3 358.9h0M58.7 352.9h0M48.2 343.7h0M29.8 351.5h0M39.8 362.7h0M48.6 358h0M45.4 357.9h0M45.7 352.5h0M50 357h0M48.7 340.6h0M42.6 358.4h0M47.8 363.4h0M29 358.7h0M26.5 353.5h0M40.2 354.9h0M55.5 334.4h0M43.3 359.4h0M30 362.8h0M57.9 343.6h0M50 364.3h0M45 364.9h0M40.5 354.6h0M53.5 335.7h0M36.2 350h0M29.8 355.2h0M42.3 344.7h0M44.7 365.1h0M52.4 335.6h0M44.3 344.2h0M59.2 356.3h0M46.5 340.6h0M40.8 350h0M38.9 351.3h0M59.6 345.6h0M43.2 357.9h0M53.6 357.3h0M39 356.5h0M32.8 353.2h0M55.8 334.9h0M58.3 364.7h0M46.9 360.9h0M58 347.3h0M55.1 332.9h0M52.5 354.3h0M52.4 336.9h0M28.8 349.9h0M46.6 355.6h0M32.1 351.5h0M58.9 340.5h0M53.9 365.1h0M48.9 347h0M40.2 348h0M56.6 344.3h0M55.8 351.3h0M56.5 362.9h0M50.2 347.3h0M34.3 351.3h0M36.6 360.5h0M27.5 353.9h0M37.5 346.3h0M44.4 365.9h0M59.8 344.1h0M58.6 365h0M43.9 351.3h0M32.7 359.2h0M42.5 358.2h0M57.3 353.4h0M49.6 350.8h0M59.3 344.9h0M60.2 351.6h0M60.1 355.4h0M60.3 346.8h0M60.6 362.4h0M60.1 357.7h0M60.6 352.7h0M60.4 342.2h0M60.4 353.5h0M60.4 363.9h0M60.4 360.6h0M63.2 356.5h0M63 348.5h0M63.3 338.2h0M62.8 335.3h0M63 347.2h0M63.4 360.1h0M62.9 348.4h0M62.7 355.3h0M66 334.7h0M66.3 331.2h0M65.8 343.4h0M66.4 333.9h0M65.8 352.2h0M65.9 356h0M65.6 336.7h0M65.8 353.7h0M68.2 343.8h0M68.8 351.4h0M68.7 328.3h0M68.5 332.5h0M68.2 333.1h0M68.7 341.4h0M70.6 338.6h0M70.6 357.8h0M71.3 344.2h0M71.5 359.3h0M70.7 337.6h0M70.7 348.8h0M71.1 345.6h0M71.3 345.9h0M70.8 350.1h0M73.9 336.2h0M73.5 338.3h0M73.7 345.4h0M73.8 351.1h0M74 348.9h0M73.6 358.4h0M74.8 354.7h0M70.6 359.4h0M70.4 359.4h0M75.6 357.3h0M75.7 356.9h0M74.5 356.8h0M71.3 352.6h0M74.5 355.6h0M64.7 343.9h0M67.8 334.4h0M81.3 345.8h0M78.5 352.1h0M71.6 340.4h0M71.5 337.4h0M79.1 354.3h0M68.6 348.8h0M66.7 326.3h0M77.1 350.8h0M69.3 357.8h0M77.8 336.3h0M78.7 353h0M65.1 355.2h0M71.6 334.8h0M70.3 342.9h0M73.6 335.4h0M63.3 346.2h0M77.8 348.2h0M70.7 353.4h0M62.4 330.1h0M62.4 343.7h0M77.8 342.5h0M77.8 340.9h0M74.4 347.5h0M80.3 341.4h0M78.7 344.4h0M77.9 346.7h0M78.6 347.4h0M78.9 347.2h0M36.4 341.1h0M65.9 326.4h0M71.3 326.4h0M90 327.7h0M104.8 322.3h0M104.8 324.2h0M104.8 337.1h0M104.8 341.1h0M96.7 343.8h0M91.4 353.2h0M87.4 349.1h0M83.3 337.1h0M84.7 339.8h0M75.3 342.4h0M74 345.1h0M72 325.6h0M73.5 329h0M77 331.8h0M83.2 333.2h0M84.3 336h0M84.3 338.5h0M84.3 340.9h0M90.2 327.7h0M90.2 337.8h0M87.4 342.3h0M95.7 343.7h0M87.4 350.6h0M91.6 352.7h0"/>
<rect x="19.5" y="322.5" width="102" height="50" fill="none" stroke="#cacaca" stroke-width="1"/>
<text x="17.7" y="374.3" class="tl" text-anchor="end">0</text>
<text x="17.7" y="365.97" class="tl" text-anchor="end">4</text>
<text x="17.7" y="357.63" class="tl" text-anchor="end">8</text>
<text x="17.7" y="349.3" class="tl" text-anchor="end">12</text>
<text x="17.7" y="340.97" class="tl" text-anchor="end">16</text>
<text x="17.7" y="332.63" class="tl" text-anchor="end">20</text>
<text x="17.7" y="324.3" class="tl" text-anchor="end">24</text>
<text x="19.5" y="378.8" class="tl xt" text-anchor="middle">0</text>
<text x="36.5" y="378.8" class="tl xt" text-anchor="middle">200</text>
<text x="53.5" y="378.8" class="tl xt" text-anchor="middle">400</text>
<text x="70.5" y="378.8" class="tl xt" text-anchor="middle">600</text>
<text x="87.5" y="378.8" class="tl xt" text-anchor="middle">800</text>
<text x="104.5" y="378.8" class="tl xt" text-anchor="middle">1000</text>
<text x="121.5" y="378.8" class="tl xt" text-anchor="middle">1200</text>
<text x="70.5" y="390.3" class="al xl" text-anchor="middle">T<tspan class="sb" dy="0.9">MAX</tspan><tspan dy="-0.9"> (Nm)</tspan></text>
<text transform="translate(7.9 347.5) rotate(-90)" class="al" text-anchor="middle">FC<tspan class="sb" dy="1.2">U</tspan><tspan dy="-1.2"> (l/100km)</tspan></text>
<path d="M165.5 321.5V372.5M182.5 321.5V372.5M200.5 321.5V372.5M217.5 321.5V372.5M234.5 321.5V372.5M148.5 370.38H251.5M148.5 368.25H251.5M148.5 366.12H251.5M148.5 364H251.5M148.5 361.88H251.5M148.5 359.75H251.5M148.5 357.62H251.5M148.5 355.5H251.5M148.5 353.38H251.5M148.5 351.25H251.5M148.5 349.12H251.5M148.5 347H251.5M148.5 344.88H251.5M148.5 342.75H251.5M148.5 340.62H251.5M148.5 338.5H251.5M148.5 336.38H251.5M148.5 334.25H251.5M148.5 332.12H251.5M148.5 330H251.5M148.5 327.88H251.5M148.5 325.75H251.5M148.5 323.62H251.5" class="grid"/>
<path d="M148.5 370.38h1.2M251.5 370.38h-1.2M148.5 368.25h1.2M251.5 368.25h-1.2M148.5 366.12h1.2M251.5 366.12h-1.2M148.5 364h1.2M251.5 364h-1.2M148.5 361.88h1.2M251.5 361.88h-1.2M148.5 359.75h1.2M251.5 359.75h-1.2M148.5 357.62h1.2M251.5 357.62h-1.2M148.5 355.5h1.2M251.5 355.5h-1.2M148.5 353.38h1.2M251.5 353.38h-1.2M148.5 351.25h1.2M251.5 351.25h-1.2M148.5 349.12h1.2M251.5 349.12h-1.2M148.5 347h1.2M251.5 347h-1.2M148.5 344.88h1.2M251.5 344.88h-1.2M148.5 342.75h1.2M251.5 342.75h-1.2M148.5 340.62h1.2M251.5 340.62h-1.2M148.5 338.5h1.2M251.5 338.5h-1.2M148.5 336.38h1.2M251.5 336.38h-1.2M148.5 334.25h1.2M251.5 334.25h-1.2M148.5 332.12h1.2M251.5 332.12h-1.2M148.5 330h1.2M251.5 330h-1.2M148.5 327.88h1.2M251.5 327.88h-1.2M148.5 325.75h1.2M251.5 325.75h-1.2M148.5 323.62h1.2M251.5 323.62h-1.2M152.79 372.5v-1.2M152.79 321.5v1.2M157.08 372.5v-1.2M157.08 321.5v1.2M161.38 372.5v-1.2M161.38 321.5v1.2M165.67 372.5v-1.2M165.67 321.5v1.2M169.96 372.5v-1.2M169.96 321.5v1.2M174.25 372.5v-1.2M174.25 321.5v1.2M178.54 372.5v-1.2M178.54 321.5v1.2M182.83 372.5v-1.2M182.83 321.5v1.2M187.12 372.5v-1.2M187.12 321.5v1.2M191.42 372.5v-1.2M191.42 321.5v1.2M195.71 372.5v-1.2M195.71 321.5v1.2M200 372.5v-1.2M200 321.5v1.2M204.29 372.5v-1.2M204.29 321.5v1.2M208.58 372.5v-1.2M208.58 321.5v1.2M212.88 372.5v-1.2M212.88 321.5v1.2M217.17 372.5v-1.2M217.17 321.5v1.2M221.46 372.5v-1.2M221.46 321.5v1.2M225.75 372.5v-1.2M225.75 321.5v1.2M230.04 372.5v-1.2M230.04 321.5v1.2M234.33 372.5v-1.2M234.33 321.5v1.2M238.62 372.5v-1.2M238.62 321.5v1.2M242.92 372.5v-1.2M242.92 321.5v1.2M247.21 372.5v-1.2M247.21 321.5v1.2" stroke="#888" stroke-width="0.6" fill="none"/>
<g fill="#00f"><polygon points="156.5,360 164,358.5 172.5,357 172.5,365 156.5,365.5"/></g>
<path class="dt" d="M157.9 364.5h0M162.3 365.6h0M172.5 366.1h0M171.7 359.5h0M166.7 364h0M156.7 361.2h0M167.7 363.3h0M162.8 362h0M171.3 359.4h0M170.1 365.4h0M163.4 361.1h0M165.9 364.6h0M161.2 358.3h0M163.9 362.5h0M158.7 366.3h0M166.3 363.4h0M163.7 361.6h0M157.4 366.3h0M168.1 360.3h0M162.7 362.5h0M159.2 360.6h0M161.2 361.5h0M170.3 361h0M171.6 362.2h0M157.2 362.6h0M165.9 363.7h0M175.6 359h0M173.8 357.6h0M173.2 360.1h0M165.2 360.7h0M170.4 362.2h0M175.5 358.3h0M161.7 361.6h0M163.5 365.9h0M176.6 356.5h0M165 358.3h0M170 365.2h0M158.3 360h0M163.3 363.4h0M176.3 366.2h0M164.5 362.4h0M158.3 362h0M174.5 365.2h0M174.9 363h0M171.3 364.1h0M171.2 366.5h0M168.8 359.2h0M162.5 364.3h0M176.3 359.2h0M160.2 366.5h0M164.6 360.1h0M162.1 363.3h0M176.6 360.4h0M173.9 359.6h0M164.5 364.2h0M176.4 363.7h0M170.6 364.5h0M175.3 366h0M166.9 359.5h0M155.6 361.1h0M176.9 358.5h0M163.2 364h0M169.9 362.7h0M173.4 363.8h0M165.7 361.5h0M172.8 360.7h0M165.7 360.6h0M171.3 363.5h0M162.6 363.9h0M163.5 362.7h0M163.6 365.3h0M175.7 363.9h0M163.6 359h0M164.8 362h0M156.1 361.3h0M175.5 355.7h0M174.7 361.6h0M176.9 363.3h0M170.9 363.7h0M173.9 365.1h0M171 357.5h0M166.2 360.9h0M163.3 360.6h0M165.3 366.3h0M168.9 366.2h0M175 357h0M172.1 359.4h0M168.3 361.5h0M171.4 358.5h0M170 359.3h0M172.3 360.7h0M169.3 366.5h0M174.7 361h0M169.4 364.6h0M174.6 359.4h0M176.7 359.5h0M171.1 364.6h0M163.2 359.8h0M163.3 358.9h0M164.3 364.7h0M156.7 366.4h0M172.5 361.4h0M169.3 358.4h0M171.9 365.1h0M163.6 360.7h0M173.8 362.4h0M165.1 362.4h0M163.1 361.6h0M159.4 361.2h0M162.4 358h0M171.4 359.1h0M171.4 363.6h0M173.6 361.3h0M167.9 362.9h0M167.3 365.4h0M155.6 366.1h0M168.7 359.7h0M175 365.3h0M168.9 359.7h0M167.8 364.5h0M158.2 364.7h0M161.2 361.1h0M175.7 357h0M161.6 359.3h0M169.2 359.1h0M169.9 356.7h0M156.3 361.7h0M171 356.5h0M156.4 362.7h0M156.8 365.6h0M170.3 356.8h0M157.3 359h0M174.4 365.5h0M171.7 362.3h0M168 360.9h0M169.6 360.7h0M164 364.6h0M161.9 359.7h0M170.1 366.1h0M162.8 360h0M163.1 364.1h0M159.5 360.5h0M161.5 361.6h0M172.1 356.3h0M169.4 362.8h0M161.9 358.8h0M174.7 365.1h0M172.5 359.5h0M165.3 365.9h0M157.4 359.5h0M176.7 363.2h0M178.1 359.1h0M174.9 361.4h0M180.8 362.7h0M183.5 362h0M177.6 356.3h0M181.9 354h0M186.3 361.8h0M180.6 357.6h0M175.2 359.8h0M184.2 354.8h0M175.5 361.4h0M180.3 362.6h0M179.5 364.8h0M185.5 357.1h0M181.1 360.2h0M180 362.9h0M183.3 362.9h0M177.5 359.3h0M181.2 360.2h0M174.4 362.8h0M180 355.2h0M185.2 359.9h0M183.8 362h0M182.2 364h0M174.9 357.3h0M176.3 360.8h0M177 353.7h0M176 355.4h0M181.2 358.7h0M180.2 353.5h0M181 356.3h0M175.4 354.1h0M176.1 358h0M176.4 358.8h0M176.3 361.9h0M185.5 357.2h0M175.1 364.6h0M175.3 360.9h0M184 359h0M185.7 355.1h0M183.5 363.9h0M185.8 363.2h0M179.8 359.3h0M185.1 357.8h0M177.4 353.4h0M177.3 354.7h0M177.8 356.7h0M177.4 364.7h0M177.6 358.2h0M177.3 357.4h0M180.4 364.4h0M180.5 364.7h0M180.4 353.6h0M180.7 353.9h0M180.7 360.1h0M180.4 363h0M183.5 364.8h0M183.5 364.3h0M183.8 357.5h0M183.6 361.7h0M183.6 353.3h0M183.6 362.1h0M186.1 354.1h0M186 359.5h0M186.1 363.2h0M186.2 364.9h0M186.4 358.1h0M186.1 358.1h0M200.2 360.1h0M206.3 353.3h0M187.6 357.6h0M201.9 357.4h0M204.4 359.5h0M200.5 359.6h0M189.8 361.2h0M201.4 350.3h0M190.7 357.3h0M193.7 361.1h0M193.1 355.3h0M197.9 361.1h0M193.6 360.5h0M202.7 356.4h0M207.4 360.4h0M203.2 356.1h0M188 351.9h0M201.1 350.6h0M200.9 353.5h0M195.4 359.6h0M205.2 358.7h0M196.7 356h0M208.3 361h0M200.2 350.1h0M206.5 349.7h0M189.6 357.5h0M191.3 358.7h0M201.9 351.2h0M191.4 348.1h0M195.7 347h0M204.3 351.3h0M208.6 349.1h0M217.2 355.5h0M218.9 353.4h0M225.7 355.5h0M234.3 343.8h0M234.3 351.3h0M234.3 353.4h0M234.3 354.4h0M165.7 354.4h0M187.1 350.2h0M200 352h0M213 356h0"/>
<rect x="148.5" y="321.5" width="103" height="51" fill="none" stroke="#cacaca" stroke-width="1"/>
<text x="146.7" y="374.3" class="tl" text-anchor="end">0</text>
<text x="146.7" y="365.8" class="tl" text-anchor="end">4</text>
<text x="146.7" y="357.3" class="tl" text-anchor="end">8</text>
<text x="146.7" y="348.8" class="tl" text-anchor="end">12</text>
<text x="146.7" y="340.3" class="tl" text-anchor="end">16</text>
<text x="146.7" y="331.8" class="tl" text-anchor="end">20</text>
<text x="146.7" y="323.3" class="tl" text-anchor="end">24</text>
<text x="148.5" y="378.8" class="tl lg xt" text-anchor="middle">0</text>
<text x="165.67" y="378.8" class="tl xt" text-anchor="middle">200</text>
<text x="182.83" y="378.8" class="tl xt" text-anchor="middle">400</text>
<text x="200" y="378.8" class="tl xt" text-anchor="middle">600</text>
<text x="217.17" y="378.8" class="tl xt" text-anchor="middle">800</text>
<text x="234.33" y="378.8" class="tl xt" text-anchor="middle">1000</text>
<text x="251.5" y="378.8" class="tl xt" text-anchor="middle">1200</text>
<text x="200" y="390.3" class="al xl" text-anchor="middle">T<tspan class="sb" dy="0.9">MAX</tspan><tspan dy="-0.9"> (Nm)</tspan></text>
<text transform="translate(136.4 347) rotate(-90)" class="al" text-anchor="middle">FC<tspan class="sb" dy="1.2">H</tspan><tspan dy="-1.2"> (l/100km)</tspan></text>
<path d="M295.5 322.5V372.5M312.5 322.5V372.5M330.5 322.5V372.5M347.5 322.5V372.5M364.5 322.5V372.5M278.5 370.42H381.5M278.5 368.33H381.5M278.5 366.25H381.5M278.5 364.17H381.5M278.5 362.08H381.5M278.5 360H381.5M278.5 357.92H381.5M278.5 355.83H381.5M278.5 353.75H381.5M278.5 351.67H381.5M278.5 349.58H381.5M278.5 347.5H381.5M278.5 345.42H381.5M278.5 343.33H381.5M278.5 341.25H381.5M278.5 339.17H381.5M278.5 337.08H381.5M278.5 335H381.5M278.5 332.92H381.5M278.5 330.83H381.5M278.5 328.75H381.5M278.5 326.67H381.5M278.5 324.58H381.5" class="grid"/>
<path d="M278.5 370.42h1.2M381.5 370.42h-1.2M278.5 368.33h1.2M381.5 368.33h-1.2M278.5 366.25h1.2M381.5 366.25h-1.2M278.5 364.17h1.2M381.5 364.17h-1.2M278.5 362.08h1.2M381.5 362.08h-1.2M278.5 360h1.2M381.5 360h-1.2M278.5 357.92h1.2M381.5 357.92h-1.2M278.5 355.83h1.2M381.5 355.83h-1.2M278.5 353.75h1.2M381.5 353.75h-1.2M278.5 351.67h1.2M381.5 351.67h-1.2M278.5 349.58h1.2M381.5 349.58h-1.2M278.5 347.5h1.2M381.5 347.5h-1.2M278.5 345.42h1.2M381.5 345.42h-1.2M278.5 343.33h1.2M381.5 343.33h-1.2M278.5 341.25h1.2M381.5 341.25h-1.2M278.5 339.17h1.2M381.5 339.17h-1.2M278.5 337.08h1.2M381.5 337.08h-1.2M278.5 335h1.2M381.5 335h-1.2M278.5 332.92h1.2M381.5 332.92h-1.2M278.5 330.83h1.2M381.5 330.83h-1.2M278.5 328.75h1.2M381.5 328.75h-1.2M278.5 326.67h1.2M381.5 326.67h-1.2M278.5 324.58h1.2M381.5 324.58h-1.2M282.79 372.5v-1.2M282.79 322.5v1.2M287.08 372.5v-1.2M287.08 322.5v1.2M291.38 372.5v-1.2M291.38 322.5v1.2M295.67 372.5v-1.2M295.67 322.5v1.2M299.96 372.5v-1.2M299.96 322.5v1.2M304.25 372.5v-1.2M304.25 322.5v1.2M308.54 372.5v-1.2M308.54 322.5v1.2M312.83 372.5v-1.2M312.83 322.5v1.2M317.12 372.5v-1.2M317.12 322.5v1.2M321.42 372.5v-1.2M321.42 322.5v1.2M325.71 372.5v-1.2M325.71 322.5v1.2M330 372.5v-1.2M330 322.5v1.2M334.29 372.5v-1.2M334.29 322.5v1.2M338.58 372.5v-1.2M338.58 322.5v1.2M342.88 372.5v-1.2M342.88 322.5v1.2M347.17 372.5v-1.2M347.17 322.5v1.2M351.46 372.5v-1.2M351.46 322.5v1.2M355.75 372.5v-1.2M355.75 322.5v1.2M360.04 372.5v-1.2M360.04 322.5v1.2M364.33 372.5v-1.2M364.33 322.5v1.2M368.62 372.5v-1.2M368.62 322.5v1.2M372.92 372.5v-1.2M372.92 322.5v1.2M377.21 372.5v-1.2M377.21 322.5v1.2" stroke="#888" stroke-width="0.6" fill="none"/>
<g fill="#00f"><polygon points="286.5,358.5 295.7,355.5 302.5,352.5 302.5,364.5 286.5,364.8"/></g>
<path class="dt" d="M305 366h0M299.6 365.7h0M302.7 357h0M303.2 365h0M293.4 361h0M301.1 352.6h0M305.6 350.8h0M299 359.9h0M289.7 359.7h0M297.3 359.5h0M289.4 357.1h0M303.5 359.5h0M295.7 357.7h0M287.7 363.3h0M287.2 363.1h0M301.8 352.3h0M292.3 357.9h0M301.7 357.6h0M303.7 366h0M288.3 360.4h0M288.2 364.3h0M306.9 355.9h0M297.4 359.1h0M293.4 361.5h0M302.3 360.8h0M289.3 356.8h0M305.2 352h0M292.9 359.5h0M306.9 349.4h0M300.3 356.8h0M296.8 363.3h0M287.5 359.2h0M292.2 361.8h0M300.8 356.1h0M288.7 362h0M300.5 358.6h0M301.5 365.1h0M290.7 360.7h0M302.8 353.5h0M304.9 354.3h0M306.1 358.9h0M306.4 364h0M302.3 355.3h0M295.3 359h0M302.8 356.1h0M304.8 352.7h0M286.4 358.7h0M298.8 355.7h0M302.6 358.3h0M288.9 363.4h0M288.3 359.1h0M293.6 360.4h0M304.2 363.1h0M306.2 365.4h0M294 365.8h0M301.9 353.7h0M292.5 357.9h0M303.7 350.7h0M304.6 360.4h0M298.2 355.9h0M293.6 355.9h0M300.9 356.5h0M300.8 363.9h0M305.7 352.3h0M303 355.9h0M294.7 359.2h0M291.6 364h0M301.6 353.4h0M294.1 356.1h0M300.7 353.8h0M293.1 357.6h0M290.5 356.3h0M301.6 357.6h0M293.8 358.5h0M304.3 350.1h0M305 350.6h0M297.4 358.3h0M294.2 359.6h0M304.5 354.4h0M304.4 359.2h0M301.7 355.6h0M292.4 360.7h0M297.7 364.5h0M300.3 364.4h0M295.5 362.4h0M287.8 359.9h0M292.5 360.8h0M291.2 361.3h0M300.8 364.5h0M302.9 353.4h0M300.9 357.3h0M290.3 361.7h0M295.3 364h0M302.8 358.1h0M294.1 358.1h0M286.6 363.8h0M288.6 358.9h0M289.1 360.3h0M306.4 350.8h0M293.3 357.3h0M304.9 350.7h0M297.8 359.6h0M295 364.1h0M302.2 357.2h0M303 356.4h0M293.8 359.9h0M286.3 360h0M294.4 363.6h0M291.1 358h0M292.9 358.4h0M293.8 354.9h0M305.4 360.8h0M307 354.7h0M295.5 355.2h0M304.1 355.2h0M300.1 352h0M297.1 353.6h0M305.1 355.2h0M306 358.6h0M292.8 358.4h0M305.5 360.8h0M303.2 358.6h0M303.4 359.9h0M299.4 354.2h0M301.9 358h0M292.3 365.9h0M302.1 360.5h0M303.5 360.8h0M293.7 365.2h0M305 360.4h0M294.8 357.5h0M286.4 364.1h0M303.3 359.1h0M295.5 362.7h0M290.8 359.3h0M293 359.3h0M304.8 356h0M303.4 357h0M304.7 349.8h0M292.4 357h0M299.3 359.9h0M306.7 350.6h0M286.1 362.7h0M291.3 361.7h0M303 362.5h0M285.9 359h0M303.8 359.7h0M298.4 356.2h0M303.2 358.1h0M293 357.4h0M299.9 363.2h0M294.1 362h0M288.2 357.6h0M300.2 358.1h0M300.6 351.8h0M298.4 357.9h0M306.4 361.7h0M304.2 352.1h0M301 355.4h0M300.5 360.9h0M294.2 365.1h0M294.9 356.9h0M304.7 354.6h0M304.6 351.5h0M288.1 359h0M290.6 356.5h0M289.7 361.3h0M301.3 360.7h0M300.9 358.3h0M305.5 362.9h0M312.7 362.1h0M310.7 352.6h0M305 360h0M312.8 358.7h0M310.8 355.6h0M316.1 354.2h0M306 364.3h0M314 363.4h0M316.9 355.2h0M306.2 356.2h0M310.5 354.4h0M314.3 351.9h0M316.7 351.3h0M307.9 362.2h0M307.2 360.3h0M307.7 354.7h0M310.3 351.9h0M314.8 364.2h0M316.1 350.3h0M304.5 355.3h0M313.7 357.2h0M316.6 365h0M313 352.1h0M309.4 348.7h0M309.3 360.8h0M308.3 350.8h0M311.1 363.4h0M312.5 349.4h0M309.8 351.6h0M314.7 354.9h0M309.9 363h0M308 355.4h0M316.8 352.9h0M311.2 359h0M308.5 358.6h0M309.6 362.2h0M311.4 360.4h0M311.6 359.8h0M309.2 350.1h0M308.9 353.3h0M304.4 361.1h0M311 356h0M313.3 348.7h0M305.8 360.2h0M304.7 362.9h0M310.8 364.6h0M315.3 354.7h0M308.6 355.2h0M314.1 355.7h0M313.5 365h0M307.6 356.2h0M307.6 355.9h0M307.5 354.6h0M307.8 364.8h0M307.5 357.1h0M307.3 357.2h0M307.8 351.4h0M310.7 351.6h0M310.6 352.1h0M310.6 361h0M310.2 362.1h0M310.5 351.4h0M310.4 357h0M310.6 350.2h0M313.2 351.2h0M313.6 354.3h0M313.7 360.1h0M313.4 357.6h0M313.3 358h0M313.6 351.3h0M313.6 349.5h0M316.6 356.9h0M316.6 359h0M316.1 360.2h0M316.4 353.8h0M316.4 360.7h0M316.4 350.9h0M316.6 363.4h0M326.4 358.8h0M338.5 349.1h0M321.2 347.4h0M327.6 345.7h0M322.2 355.5h0M317.5 353.5h0M325.9 355.2h0M322.7 351.3h0M321.7 343.6h0M335.7 349.4h0M323.4 358.9h0M325.1 352.3h0M320.1 350.2h0M335.9 357.1h0M334.7 358.6h0M322.1 344.2h0M319.9 354.2h0M328.8 349.5h0M332.4 347h0M330.2 350.3h0M320.1 356.3h0M321.1 356.7h0M333.5 350.6h0M326.8 346.7h0M320.1 354.9h0M325.1 352.7h0M325 347.7h0M320.6 356h0M326.4 345.8h0M335.9 345.9h0M364.3 337.1h0M364.3 339.2h0M364.3 347.5h0M364.3 348.5h0M347.2 347.5h0M347.2 355.8h0M349.7 346.5h0M355.7 351.7h0M330 341.3h0M334.3 341.3h0M295.7 349.6h0M317.1 345.4h0M324 343h0M342 350h0"/>
<rect x="278.5" y="322.5" width="103" height="50" fill="none" stroke="#cacaca" stroke-width="1"/>
<text x="276.7" y="374.3" class="tl" text-anchor="end">0</text>
<text x="276.7" y="365.97" class="tl" text-anchor="end">4</text>
<text x="276.7" y="357.63" class="tl" text-anchor="end">8</text>
<text x="276.7" y="349.3" class="tl" text-anchor="end">12</text>
<text x="276.7" y="340.97" class="tl" text-anchor="end">16</text>
<text x="276.7" y="332.63" class="tl" text-anchor="end">20</text>
<text x="276.7" y="324.3" class="tl" text-anchor="end">24</text>
<text x="278.5" y="378.8" class="tl lg xt" text-anchor="middle">0</text>
<text x="295.67" y="378.8" class="tl xt" text-anchor="middle">200</text>
<text x="312.83" y="378.8" class="tl xt" text-anchor="middle">400</text>
<text x="330" y="378.8" class="tl xt" text-anchor="middle">600</text>
<text x="347.17" y="378.8" class="tl xt" text-anchor="middle">800</text>
<text x="364.33" y="378.8" class="tl xt" text-anchor="middle">1000</text>
<text x="381.5" y="378.8" class="tl xt" text-anchor="middle">1200</text>
<text x="330" y="390.3" class="al xl" text-anchor="middle">T<tspan class="sb" dy="0.9">MAX</tspan><tspan dy="-0.9"> (Nm)</tspan></text>
<text transform="translate(266.1 347.5) rotate(-90)" class="al" text-anchor="middle">FC<tspan class="sb" dy="1.2">M</tspan><tspan dy="-1.2"> (l/100km)</tspan></text>
<path d="M36.5 400.5V450.5M54.5 400.5V450.5M72.5 400.5V450.5M89.5 400.5V450.5M106.5 400.5V450.5M19.5 448.42H124.5M19.5 446.33H124.5M19.5 444.25H124.5M19.5 442.17H124.5M19.5 440.08H124.5M19.5 438H124.5M19.5 435.92H124.5M19.5 433.83H124.5M19.5 431.75H124.5M19.5 429.67H124.5M19.5 427.58H124.5M19.5 425.5H124.5M19.5 423.42H124.5M19.5 421.33H124.5M19.5 419.25H124.5M19.5 417.17H124.5M19.5 415.08H124.5M19.5 413H124.5M19.5 410.92H124.5M19.5 408.83H124.5M19.5 406.75H124.5M19.5 404.67H124.5M19.5 402.58H124.5" class="grid"/>
<path d="M19.5 448.42h1.2M124.5 448.42h-1.2M19.5 446.33h1.2M124.5 446.33h-1.2M19.5 444.25h1.2M124.5 444.25h-1.2M19.5 442.17h1.2M124.5 442.17h-1.2M19.5 440.08h1.2M124.5 440.08h-1.2M19.5 438h1.2M124.5 438h-1.2M19.5 435.92h1.2M124.5 435.92h-1.2M19.5 433.83h1.2M124.5 433.83h-1.2M19.5 431.75h1.2M124.5 431.75h-1.2M19.5 429.67h1.2M124.5 429.67h-1.2M19.5 427.58h1.2M124.5 427.58h-1.2M19.5 425.5h1.2M124.5 425.5h-1.2M19.5 423.42h1.2M124.5 423.42h-1.2M19.5 421.33h1.2M124.5 421.33h-1.2M19.5 419.25h1.2M124.5 419.25h-1.2M19.5 417.17h1.2M124.5 417.17h-1.2M19.5 415.08h1.2M124.5 415.08h-1.2M19.5 413h1.2M124.5 413h-1.2M19.5 410.92h1.2M124.5 410.92h-1.2M19.5 408.83h1.2M124.5 408.83h-1.2M19.5 406.75h1.2M124.5 406.75h-1.2M19.5 404.67h1.2M124.5 404.67h-1.2M19.5 402.58h1.2M124.5 402.58h-1.2M23.88 450.5v-1.2M23.88 400.5v1.2M28.25 450.5v-1.2M28.25 400.5v1.2M32.62 450.5v-1.2M32.62 400.5v1.2M37 450.5v-1.2M37 400.5v1.2M41.38 450.5v-1.2M41.38 400.5v1.2M45.75 450.5v-1.2M45.75 400.5v1.2M50.12 450.5v-1.2M50.12 400.5v1.2M54.5 450.5v-1.2M54.5 400.5v1.2M58.88 450.5v-1.2M58.88 400.5v1.2M63.25 450.5v-1.2M63.25 400.5v1.2M67.62 450.5v-1.2M67.62 400.5v1.2M72 450.5v-1.2M72 400.5v1.2M76.38 450.5v-1.2M76.38 400.5v1.2M80.75 450.5v-1.2M80.75 400.5v1.2M85.12 450.5v-1.2M85.12 400.5v1.2M89.5 450.5v-1.2M89.5 400.5v1.2M93.88 450.5v-1.2M93.88 400.5v1.2M98.25 450.5v-1.2M98.25 400.5v1.2M102.62 450.5v-1.2M102.62 400.5v1.2M107 450.5v-1.2M107 400.5v1.2M111.38 450.5v-1.2M111.38 400.5v1.2M115.75 450.5v-1.2M115.75 400.5v1.2M120.12 450.5v-1.2M120.12 400.5v1.2" stroke="#888" stroke-width="0.6" fill="none"/>
<g fill="#00f"></g>
<path class="dt" d="M40.5 434.9h0M44.3 436.6h0M37 424h0M48.6 419.1h0M49.4 436.7h0M49.9 414.5h0M37 436.7h0M34.1 417.8h0M26.5 427.1h0M40.3 416.8h0M32.7 430.3h0M30.5 435.2h0M48.7 423.4h0M29.4 428.3h0M44.4 427.9h0M33.1 417.9h0M44.8 439.3h0M35.1 428.7h0M31.7 424.9h0M41.1 419.8h0M41.7 427.3h0M36.8 414.7h0M40.2 429h0M42.3 438.3h0M41.8 434.7h0M29 437.9h0M50.2 428.9h0M47.5 427.6h0M37.3 415.1h0M38.5 432.8h0M46.7 438.6h0M39.5 440.2h0M37.1 427.3h0M46.1 417.5h0M31 437.3h0M40.7 414.3h0M39.5 434.7h0M41.5 431.6h0M41.7 439.5h0M40 421.2h0M36.3 422.7h0M48.9 419.1h0M44 428.2h0M33.4 439.2h0M32.6 419.6h0M31 432.4h0M44 421.7h0M29.1 429.1h0M34.8 427.6h0M27.2 436.2h0M48.6 412.8h0M31.8 423.6h0M47.7 419.9h0M41.6 441.1h0M44.8 439.2h0M35.1 440.6h0M49.5 418.8h0M46.1 439.4h0M31.6 422.5h0M46 428.4h0M49.9 423.9h0M37.6 415.4h0M33.1 438h0M32.8 438.7h0M46.9 428.2h0M29.1 436.5h0M33.3 440h0M37.4 421.8h0M49.6 436.2h0M43.6 419.2h0M32.8 416.1h0M40.8 420.1h0M31.6 438.1h0M26.8 427.8h0M26.7 425h0M42.1 427.3h0M31.6 436.8h0M35.6 427.4h0M36.8 435.2h0M37.7 427.4h0M26.1 422.4h0M48.8 413.1h0M39.5 429.2h0M47.8 420.5h0M41.8 440.5h0M51.3 428.1h0M34.8 430.8h0M45 431.8h0M43.6 422.3h0M44.6 421.3h0M40.4 415.4h0M33.3 419.5h0M35.7 423.3h0M51.3 426.8h0M40.3 422.8h0M40.2 436.1h0M39.6 426.4h0M35.1 415.9h0M36.8 428.3h0M29 434.2h0M37.7 430h0M37.2 435.4h0M43.7 413.9h0M40.3 418.5h0M45.4 421.9h0M32.5 439.8h0M27.3 423.1h0M37.3 431.8h0M46.3 441.2h0M33 429.8h0M49.2 413.2h0M33 438.5h0M41.3 422.8h0M31.7 429.7h0M27.5 426.1h0M33.5 423.2h0M41.9 433.5h0M43.6 423.9h0M34.8 430h0M38 439.7h0M39.8 428.7h0M43.3 425.4h0M38.8 431.2h0M41.6 442h0M33.9 425.8h0M40.4 419.7h0M30.6 423.3h0M37.1 423.8h0M32.7 425.4h0M40.9 413.3h0M43.1 432.7h0M31.1 418h0M27 425.1h0M43.6 423.2h0M41.3 429.4h0M39.2 439.6h0M44.4 424.3h0M42.8 434.5h0M36.2 412.7h0M33.2 432.6h0M46 422.8h0M49.1 422.5h0M49.1 432.6h0M36.3 425.4h0M39.8 418.4h0M26.8 428.3h0M50.3 433h0M48.3 438h0M43.3 411.8h0M34.1 428.6h0M36.8 416.9h0M27.8 437.7h0M43.3 419.6h0M38.2 437.9h0M29.7 430.1h0M32.1 439h0M46.8 440.3h0M36 426.2h0M34.4 421.2h0M38.7 431.1h0M49.6 423.8h0M49.9 435.5h0M33.4 421.5h0M44 415.3h0M32.7 416.2h0M39.1 433.9h0M43.9 424.1h0M39.5 414.1h0M32.3 421h0M35.3 431.1h0M32.3 417.6h0M48.7 435h0M50.2 434.9h0M31.1 425.6h0M47.7 435.8h0M31.9 425.4h0M41.3 410.4h0M32.3 433.7h0M43.3 424.3h0M40.8 426.9h0M35 412.7h0M45.3 434.7h0M37.3 434.6h0M47.5 432.1h0M47 440.9h0M37.8 434.9h0M45.2 413.2h0M41.2 412.9h0M45 420.8h0M35.8 418.7h0M47.1 430.5h0M33.8 433.7h0M30.8 435.7h0M41.7 434.5h0M42 441.5h0M44.1 424.8h0M41.4 428.1h0M33.4 419.8h0M46.8 436.2h0M51.1 432h0M39.1 422.6h0M44.3 430.8h0M50.5 433.9h0M36 418.9h0M27.2 435h0M37.1 422.6h0M27.4 425.8h0M49.4 418.9h0M45.3 434.3h0M43.2 429.1h0M34.7 432.8h0M39.8 425.8h0M47.2 431.7h0M36.5 432.3h0M46.8 428.2h0M45.2 422.7h0M38.9 423.2h0M45.2 431.1h0M37.5 426.5h0M34 422.6h0M43.1 424.9h0M32 426.5h0M37.3 426.9h0M48.5 433.9h0M38.7 426.8h0M39 432.1h0M32 428.5h0M33.3 431.2h0M36.5 432.6h0M44.9 426.9h0M34 431.7h0M45.3 421h0M36.9 429.9h0M42.8 425.2h0M37 433.9h0M39.2 427.6h0M40.7 420.6h0M38.9 424.5h0M33.2 429.5h0M43.3 429.6h0M39.5 432.7h0M40.8 433.3h0M37.3 426.8h0M36.5 423.3h0M45 437h0M35.3 430.4h0M43.9 429.7h0M48.8 438h0M47.2 423.8h0M32.1 435.8h0M32.1 433.1h0M33.3 433.5h0M46.5 429.3h0M44.9 423h0M43.4 426.5h0M38.8 424.9h0M34.3 424.7h0M46.6 426.3h0M40.7 435.8h0M42.9 421.4h0M45.9 425.2h0M45.8 432.1h0M30.6 426.3h0M43.3 430h0M48 435.4h0M36.5 438h0M31.7 429h0M42.1 435.3h0M34.2 423.4h0M44.6 429.6h0M30.4 424.7h0M35.5 427.9h0M46.8 435.8h0M37.3 432.7h0M37.1 431.9h0M46.2 422.1h0M31.5 424.3h0M41 432.4h0M35.4 429.3h0M36.3 430.8h0M32.1 431.7h0M34 430.2h0M33.6 427.8h0M35 432.1h0M44.8 436.6h0M40.4 425.7h0M35.5 429.2h0M44.2 425.1h0M41.4 423.8h0M43.7 428.9h0M35.9 427.9h0M37.6 432.7h0M33.9 439.2h0M38.2 430.9h0M41.5 420h0M39.6 434.5h0M45 434.2h0M42.9 420.8h0M37.8 429.2h0M31.9 430.4h0M32.4 403.3h0M48.9 409.7h0M43.6 409.5h0M39.5 413.2h0M27.5 406.3h0M31.3 409.4h0M31.6 404.8h0M48 411.1h0M36.3 406.2h0M43.6 403.1h0M43.3 404.2h0M26.6 403.2h0M33 412.2h0M39.9 404.5h0M42.5 406.8h0M29.4 412.9h0M43.2 404.4h0M36.2 410.6h0M34.9 404.6h0M28.3 404.5h0M41.4 402.9h0M31 402.9h0M27.7 431.8h0M28 412.4h0M27.9 422.4h0M27.4 428.9h0M27.6 431.3h0M27.5 428.9h0M27.7 417h0M27.5 416.1h0M27.9 418.2h0M28 417.6h0M27.9 405.1h0M27.8 419.6h0M27.9 411.4h0M27.7 426.2h0M32.3 405.5h0M32.6 406.6h0M32.4 404.1h0M21.7 420.5h0M58.6 410.9h0M54.5 421.9h0M55.9 426h0M57.2 430.1h0M60 427.3h0M62.7 432.8h0M64.1 441h0M66.8 442.3h0M70.9 435.5h0M70.9 437.7h0M53.1 427.3h0M54 432.8h0M28 401.4h0M28 403.3h0M43.6 404.1h0M47.7 405.5h0M102.6 431.7h0M87.9 431.1h0M85.1 440.4h0M103.5 443h0M100.1 426.5h0M93.1 443.6h0M81.3 430.2h0M85.4 426.7h0M89 435.9h0M83.2 441h0M93.3 426.8h0M84.1 434h0M91 433.5h0M84.3 430.5h0M95.4 424.9h0M95.3 440.4h0M97.7 425.9h0M98.9 424.9h0M85.2 423.4h0M96.1 426.9h0M89.1 425.7h0M106.2 426.2h0M100.1 439.7h0M93.8 435.2h0M90.6 440h0M100.4 424.8h0M100.9 426.1h0M94.7 427h0M94.8 436.6h0M101.7 429.9h0M82.8 432.4h0M106.8 434.5h0M98.5 438.9h0M99.1 442.7h0M107.9 438.4h0M103.8 426.1h0M88.7 437.8h0M97.5 440.9h0M102.9 430h0M86.1 436.7h0M84.4 433.4h0M89 431.4h0M99.5 436.2h0M98.5 424.5h0M106.2 437.7h0M106.6 435.8h0M99.3 441.4h0M102.1 436.2h0M82.4 423.7h0M101.3 440.6h0M92.1 427.5h0M93.6 440.5h0M102.3 425.9h0M86.9 427.5h0M102.1 428.4h0M106.1 431.7h0M86.7 431.7h0M85.2 441.2h0M81.9 431.8h0M91.8 424h0M87.5 443.5h0M105.2 431.8h0M105.6 441.8h0M105.2 438.1h0M97.1 433.7h0M101.3 435.5h0M108.4 426.9h0M106.3 438.7h0M93.6 440.6h0M89.3 431.2h0M96.2 442.7h0M88.2 441h0M98.2 442h0M89.6 438.3h0M103.7 441.5h0M99.2 440.8h0M97.6 436.7h0M87 436.2h0M105.9 442.4h0M83.4 433.1h0M88.1 440.9h0M86.8 439.8h0M87.1 433.6h0M105.8 430.5h0M96.4 432.7h0M100.6 429.7h0M98.7 432.4h0M105.4 433.4h0M98.5 429.1h0M105 437.9h0M104.4 439.5h0M83.8 439.5h0M91.5 431.6h0M103.8 438.3h0M90.8 429.7h0M98 429.5h0M88.1 429.4h0M86.5 439.5h0M88.8 443h0M89.1 440.3h0M100.1 438h0M96.9 430.7h0M102.3 442h0M95.1 431.4h0M84.4 432.4h0M105.7 433.3h0M89.1 436.3h0M83.2 440.1h0M101.1 433.1h0M83.1 441.7h0M101.8 439.7h0M87.4 442.5h0M97.8 429.1h0M106 438.8h0M86.8 441.6h0M96.7 437.9h0M83.1 431.8h0M101.4 428.9h0M87 429.7h0M96.4 430.7h0M101.2 435.2h0M101.2 441.9h0M105.7 431.5h0M91.1 440.2h0M90.4 442.3h0M90.5 437.8h0M88.5 439.2h0M89.2 434.8h0M99.8 440.7h0M85.8 431.2h0M87.5 439.8h0M98.6 439.1h0M101.8 432.1h0M94.3 428.8h0M90.8 437.4h0M88.6 440.2h0M87.5 435.1h0M98.8 431.9h0M98.3 434.5h0M83.5 430.2h0M98.1 440.6h0M98.7 441.2h0M98.4 440h0M102.5 437.3h0M95.2 431h0M88.1 429.9h0M85.1 434.4h0M89.4 436.8h0M102.3 432.6h0M103.9 440.8h0M87 437.2h0M87.1 429.6h0M87.7 431.6h0M82.6 429.1h0M101.8 441.2h0M103.1 429.7h0M82.9 441.1h0M91.4 433.7h0M99.2 436.4h0M90.3 430.9h0M85.1 439h0M104.2 429.2h0M87.7 436.3h0M88.8 435.8h0M94.4 432.5h0M85.2 434.8h0M101.9 430.7h0M95.3 440.4h0M96.1 433.7h0M104.7 440h0M106.3 433h0M94 435.2h0M102.6 437.7h0M95.6 436.1h0M103.8 433.8h0M85.5 431.2h0M88.2 430.1h0M105.9 436.7h0M101.6 435.3h0M94.9 431.9h0M88.7 419.7h0M94.1 419.1h0M101 420.5h0M103.7 421.9h0M80.5 426h0M80.5 428.7h0M79.9 431.4h0M113.3 436.9h0M113.3 439.6h0M113.3 441h0M118.7 435.5h0M118.7 437.7h0M118.7 439.6h0"/>
<rect x="19.5" y="400.5" width="105" height="50" fill="none" stroke="#cacaca" stroke-width="1"/>
<text x="17.7" y="452.3" class="tl" text-anchor="end">0</text>
<text x="17.7" y="443.97" class="tl" text-anchor="end">4</text>
<text x="17.7" y="435.63" class="tl" text-anchor="end">8</text>
<text x="17.7" y="427.3" class="tl" text-anchor="end">12</text>
<text x="17.7" y="418.97" class="tl" text-anchor="end">16</text>
<text x="17.7" y="410.63" class="tl" text-anchor="end">20</text>
<text x="17.7" y="402.3" class="tl" text-anchor="end">24</text>
<text x="19.5" y="457.1" class="tl xt" text-anchor="middle">8</text>
<text x="37" y="457.1" class="tl xt" text-anchor="middle">10</text>
<text x="54.5" y="457.1" class="tl xt" text-anchor="middle">12</text>
<text x="72" y="457.1" class="tl xt" text-anchor="middle">14</text>
<text x="89.5" y="457.1" class="tl xt" text-anchor="middle">16</text>
<text x="107" y="457.1" class="tl xt" text-anchor="middle">18</text>
<text x="124.5" y="457.1" class="tl xt" text-anchor="middle">20</text>
<text x="72" y="468.6" class="al xl" text-anchor="middle">C<tspan class="sb" dy="0.9">R</tspan></text>
<text transform="translate(7.9 425.5) rotate(-90)" class="al" text-anchor="middle">FC<tspan class="sb" dy="1.2">U</tspan><tspan dy="-1.2"> (l/100km)</tspan></text>
<path d="M166.5 400.5V450.5M183.5 400.5V450.5M201.5 400.5V450.5M219.5 400.5V450.5M236.5 400.5V450.5M148.5 448.42H254.5M148.5 446.33H254.5M148.5 444.25H254.5M148.5 442.17H254.5M148.5 440.08H254.5M148.5 438H254.5M148.5 435.92H254.5M148.5 433.83H254.5M148.5 431.75H254.5M148.5 429.67H254.5M148.5 427.58H254.5M148.5 425.5H254.5M148.5 423.42H254.5M148.5 421.33H254.5M148.5 419.25H254.5M148.5 417.17H254.5M148.5 415.08H254.5M148.5 413H254.5M148.5 410.92H254.5M148.5 408.83H254.5M148.5 406.75H254.5M148.5 404.67H254.5M148.5 402.58H254.5" class="grid"/>
<path d="M148.5 448.42h1.2M254.5 448.42h-1.2M148.5 446.33h1.2M254.5 446.33h-1.2M148.5 444.25h1.2M254.5 444.25h-1.2M148.5 442.17h1.2M254.5 442.17h-1.2M148.5 440.08h1.2M254.5 440.08h-1.2M148.5 438h1.2M254.5 438h-1.2M148.5 435.92h1.2M254.5 435.92h-1.2M148.5 433.83h1.2M254.5 433.83h-1.2M148.5 431.75h1.2M254.5 431.75h-1.2M148.5 429.67h1.2M254.5 429.67h-1.2M148.5 427.58h1.2M254.5 427.58h-1.2M148.5 425.5h1.2M254.5 425.5h-1.2M148.5 423.42h1.2M254.5 423.42h-1.2M148.5 421.33h1.2M254.5 421.33h-1.2M148.5 419.25h1.2M254.5 419.25h-1.2M148.5 417.17h1.2M254.5 417.17h-1.2M148.5 415.08h1.2M254.5 415.08h-1.2M148.5 413h1.2M254.5 413h-1.2M148.5 410.92h1.2M254.5 410.92h-1.2M148.5 408.83h1.2M254.5 408.83h-1.2M148.5 406.75h1.2M254.5 406.75h-1.2M148.5 404.67h1.2M254.5 404.67h-1.2M148.5 402.58h1.2M254.5 402.58h-1.2M152.92 450.5v-1.2M152.92 400.5v1.2M157.33 450.5v-1.2M157.33 400.5v1.2M161.75 450.5v-1.2M161.75 400.5v1.2M166.17 450.5v-1.2M166.17 400.5v1.2M170.58 450.5v-1.2M170.58 400.5v1.2M175 450.5v-1.2M175 400.5v1.2M179.42 450.5v-1.2M179.42 400.5v1.2M183.83 450.5v-1.2M183.83 400.5v1.2M188.25 450.5v-1.2M188.25 400.5v1.2M192.67 450.5v-1.2M192.67 400.5v1.2M197.08 450.5v-1.2M197.08 400.5v1.2M201.5 450.5v-1.2M201.5 400.5v1.2M205.92 450.5v-1.2M205.92 400.5v1.2M210.33 450.5v-1.2M210.33 400.5v1.2M214.75 450.5v-1.2M214.75 400.5v1.2M219.17 450.5v-1.2M219.17 400.5v1.2M223.58 450.5v-1.2M223.58 400.5v1.2M228 450.5v-1.2M228 400.5v1.2M232.42 450.5v-1.2M232.42 400.5v1.2M236.83 450.5v-1.2M236.83 400.5v1.2M241.25 450.5v-1.2M241.25 400.5v1.2M245.67 450.5v-1.2M245.67 400.5v1.2M250.08 450.5v-1.2M250.08 400.5v1.2" stroke="#888" stroke-width="0.6" fill="none"/>
<g fill="#00f"></g>
<path class="dt" d="M179.3 429.4h0M166.4 432h0M178.7 434.1h0M168.4 429.4h0M177.5 429.4h0M161 429.9h0M163.8 428.1h0M176.1 428.8h0M172.2 428.4h0M158.7 432.4h0M176.2 431.7h0M171.8 427.4h0M168.9 432.8h0M176.4 430.8h0M172.4 427.4h0M157.1 432.9h0M156.1 428h0M166.2 431.7h0M174.1 433.1h0M180.3 428.2h0M162.2 427h0M164.4 426.8h0M181.1 430.7h0M168.7 426.4h0M179.8 428h0M176 427.6h0M162.8 427.1h0M169.8 428.3h0M170.8 431.8h0M161.6 427h0M169.3 429.2h0M167.5 429h0M160 427h0M174.9 431.2h0M173.9 431.2h0M169.3 427.6h0M179.9 430.3h0M167.8 428.1h0M165.6 434h0M166.4 432.5h0M158.7 439.1h0M162.3 434.9h0M163.1 436.8h0M171.5 436.9h0M176.8 434h0M176.7 437.2h0M175.1 436.8h0M162 442.5h0M171.3 440.5h0M168.5 440.4h0M179.2 440.7h0M179.5 436.2h0M163 442.4h0M176.2 442.4h0M166.4 437h0M178.9 434.6h0M159.7 434.2h0M163.1 437h0M165.1 437.5h0M156.5 436.2h0M168.1 432.9h0M167.5 442.6h0M171.7 443.1h0M176.8 437.9h0M156.2 432.9h0M169.8 441.9h0M163.8 433.7h0M174.3 438.4h0M167.2 433.7h0M169.3 438.8h0M173.1 442.6h0M157.5 441.8h0M163.6 437h0M164.1 441.5h0M166.5 433.1h0M167.3 433.9h0M156 432.8h0M165 437.4h0M155.7 433.8h0M177.8 438.5h0M179.7 438.5h0M179.1 440.2h0M165.2 432.8h0M159.3 441.3h0M171.9 435.6h0M159.7 439.6h0M178.5 435.1h0M180.2 438.4h0M160.8 434.3h0M173.1 442.9h0M160.6 435h0M159.2 434.6h0M161.2 437h0M161.5 439.8h0M161.5 435.3h0M165.9 434.2h0M156.9 433.3h0M155.8 440h0M156.9 437.7h0M177.5 439.3h0M163.2 436.9h0M166.2 435.9h0M157 434h0M159.2 434.6h0M163.8 433.4h0M170.8 434.5h0M168.2 440.2h0M167.9 440.7h0M174.8 437.4h0M160.9 432.7h0M172.7 436.5h0M162.8 433.2h0M160.1 442.5h0M167.3 442h0M176.4 435.1h0M161.2 442.4h0M161.5 439.1h0M178.7 437.6h0M166.1 443.2h0M176.9 442.9h0M173 434.8h0M156.8 432.5h0M178.3 438.5h0M177.4 443.2h0M161.5 443.4h0M162.4 434.3h0M162.3 443.7h0M178.8 436.3h0M167.5 441.7h0M175.4 442.5h0M164.6 434.9h0M168.3 443h0M170.7 442.2h0M160.5 438.1h0M178.2 438.8h0M175.2 441.5h0M166.5 440.1h0M172.7 437.3h0M168.4 441.5h0M177.3 443.6h0M164.7 440h0M169.2 442h0M161.6 437.6h0M161.9 441.5h0M173.1 432.3h0M158.3 433.9h0M170.2 441.1h0M164.1 433.1h0M170 439.3h0M166.2 435.3h0M164.2 434.9h0M175.6 436.6h0M173.2 438.5h0M161.3 435.4h0M172.1 442.1h0M178.2 434h0M162 433.4h0M160.3 436.7h0M173.3 442.7h0M170.2 433.9h0M164.9 433.9h0M162.5 438.8h0M168 434.2h0M162.4 442.5h0M171.2 439.1h0M163.6 435.7h0M174.4 432.4h0M171.7 443.2h0M171.3 432.8h0M156.5 441.2h0M160.2 437.1h0M171.7 440h0M162.7 440.1h0M178.1 437.6h0M165.4 440.1h0M177.1 440.1h0M178.5 441.2h0M179.2 435.1h0M172.2 434.6h0M158.5 436.2h0M178.9 435.6h0M163.2 442.9h0M179.8 440.9h0M164.3 441.7h0M157.3 432.4h0M157.2 436.1h0M161.6 442.1h0M166.6 442h0M167.6 436.5h0M164 432.8h0M166.8 443.2h0M179.5 442.9h0M158.1 437.3h0M176.2 434h0M157.3 434.6h0M157.7 440.7h0M173.2 443.6h0M156.9 440.3h0M175.2 434.3h0M157.6 443.5h0M175.1 433h0M160.3 439.8h0M159.9 437.2h0M159.3 433.3h0M167.6 438.5h0M176.5 432.3h0M164.4 433.1h0M169.2 434.1h0M163.8 443.4h0M171.6 439.9h0M170 436.5h0M171.6 442.4h0M159.4 441.4h0M164.6 436.5h0M171 441.5h0M161 436.5h0M167.8 436.5h0M167.9 442.5h0M158.1 438.2h0M161.7 436.2h0M169.6 442.2h0M167.2 439.2h0M171.9 441.5h0M177.4 437.5h0M161.2 442h0M170 441.7h0M160.6 441h0M160 436h0M160 437.7h0M166.1 440h0M176.8 438.3h0M169.4 438.1h0M165.4 437h0M157.7 436.9h0M172.4 441.1h0M171.6 438.3h0M166 436.4h0M162.5 442.6h0M169.6 438.1h0M168.5 438.7h0M163.6 438.2h0M166.4 441.8h0M175.8 437.2h0M166.9 436.7h0M177.1 436h0M167.4 435.1h0M167 438.5h0M157.9 436.1h0M167.8 438.6h0M163.8 435.4h0M164.2 437.6h0M159.7 439.6h0M162.1 439h0M172.1 435.1h0M167.8 439.8h0M175.9 440.2h0M174.7 440h0M162.2 441.2h0M173 438.7h0M176.5 435.3h0M176.2 437.7h0M168.7 441.1h0M161 438.8h0M157.9 435.2h0M177.2 436.6h0M166.3 435.9h0M176.7 438.8h0M175.1 437.1h0M167.1 436.9h0M169.6 440.4h0M169.3 439.4h0M163.9 442.3h0M158 436.2h0M171.2 442.4h0M174.9 436.9h0M176.9 438.5h0M169.3 439.9h0M170.2 441.7h0M176 437.4h0M175.8 437.4h0M171.6 436.2h0M170.6 437.3h0M177.9 440.1h0M165.5 442.3h0M159.9 440.7h0M170.8 435.1h0M167 435.9h0M178 435.7h0M170.6 439.1h0M160.1 442.1h0M157.6 421.3h0M157.6 427.3h0M165.8 426h0M172.6 426h0M150.7 433.3h0M152.1 433.3h0M187.6 430.1h0M187.6 432.8h0M187.6 435.5h0M193.1 442.3h0M195.8 443.7h0M201.3 438.2h0M201.3 441h0M182.1 431.4h0M183.5 438.2h0M225.9 438.8h0M217 432.2h0M218.8 430.5h0M215.2 437.1h0M220.7 440.9h0M213.5 433h0M224.5 439.8h0M218.5 433h0M213.1 435.2h0M220.3 441.4h0M216.4 434.9h0M230.8 433h0M210.6 443.9h0M235.7 434.5h0M217.6 436.6h0M215.5 441.2h0M234.9 440.2h0M220.9 442h0M236.3 432.7h0M228.6 432.5h0M237.8 441.4h0M221.2 440.6h0M217.9 431h0M224.2 431.1h0M222.6 442.2h0M226 433.8h0M215.6 438h0M224.1 442.9h0M214.4 436.7h0M222.3 435.4h0M214.8 435.5h0M225 432.8h0M218.7 437.5h0M236.4 436.9h0M219.4 430.5h0M224.3 434.9h0M212.8 436.8h0M227.1 435h0M230.6 439h0M211.3 430.8h0M224.5 438.6h0M225.4 433.3h0M219.3 440.2h0M220.9 437.6h0M216 439h0M223.2 430.1h0M231.1 441.5h0M237.8 443.4h0M229.6 436.7h0M217.1 440h0M221.5 434.6h0M212.8 438.7h0M229.9 441h0M213.8 433h0M227.7 431.9h0M234.9 443.2h0M227.6 433.8h0M225.6 440.9h0M219.4 439.3h0M226.7 443h0M230.9 441.3h0M224.7 442.9h0M226.3 441.4h0M218.5 437.1h0M225.1 438h0M236 438h0M234 438.8h0M215.4 440.6h0M218.8 443.7h0M226.7 437.1h0M218.5 437.2h0M223.4 440.2h0M218.7 441.3h0M222.1 442.4h0M228.3 438.2h0M232.3 436.6h0M216.5 436.5h0M235.5 440.3h0M232.6 443.6h0M212.7 443h0M210.8 441.5h0M231.3 439.2h0M233.9 442h0M223.5 438.4h0M214.5 436.9h0M224.6 440.2h0M215.3 440.2h0M212.4 438.6h0M228 437.5h0M224.1 437.3h0M233.7 437.9h0M235 443.1h0M235.9 438.4h0M228.4 436.9h0M236 441.4h0M211.3 437.4h0M213.1 438.9h0M235.1 442.2h0M218.9 442.3h0M210.6 440.4h0M220.6 436.9h0M234.7 441.2h0M236.7 441.1h0M226.7 437.3h0M222.9 442.9h0M225.1 441h0M222.5 439h0M210.6 437.9h0M215.2 437h0M211.7 441.9h0M236.7 441.5h0M232.3 437.9h0M232.8 439.1h0M232.9 438.1h0M218.2 440.2h0M216.2 438.2h0M229.5 442.2h0M236.3 441.2h0M219.6 439.8h0M225.8 440.7h0M234.6 440.5h0M235.8 439.9h0M222.1 436.5h0M218.9 439.9h0M210.6 439.6h0M213.4 438.3h0M233.7 443.1h0M213.3 440.7h0M223.2 436.7h0M218.2 440.3h0M221.6 440.5h0M212 440.9h0M226.5 437.7h0M225.3 443.2h0M233.9 440.9h0M224.1 441.9h0M222.3 441.5h0M220.2 440.4h0M229.7 440.7h0M226.3 439.2h0M219.6 441.2h0M222.1 439.6h0M220.3 438.5h0M226.9 442.8h0M215.5 441.1h0M224.4 441h0M227.9 439.3h0M210.6 439h0M224.1 441h0M234.8 441.2h0M242.3 441h0M249.1 441h0M249.1 442.6h0M249.1 443.7h0M213.6 429.5h0M230 429.5h0"/>
<rect x="148.5" y="400.5" width="106" height="50" fill="none" stroke="#cacaca" stroke-width="1"/>
<text x="146.7" y="452.3" class="tl" text-anchor="end">0</text>
<text x="146.7" y="443.97" class="tl" text-anchor="end">4</text>
<text x="146.7" y="435.63" class="tl" text-anchor="end">8</text>
<text x="146.7" y="427.3" class="tl" text-anchor="end">12</text>
<text x="146.7" y="418.97" class="tl" text-anchor="end">16</text>
<text x="146.7" y="410.63" class="tl" text-anchor="end">20</text>
<text x="146.7" y="402.3" class="tl" text-anchor="end">24</text>
<text x="148.5" y="457.1" class="tl xt" text-anchor="middle">8</text>
<text x="166.17" y="457.1" class="tl xt" text-anchor="middle">10</text>
<text x="183.83" y="457.1" class="tl xt" text-anchor="middle">12</text>
<text x="201.5" y="457.1" class="tl xt" text-anchor="middle">14</text>
<text x="219.17" y="457.1" class="tl xt" text-anchor="middle">16</text>
<text x="236.83" y="457.1" class="tl xt" text-anchor="middle">18</text>
<text x="254.5" y="457.1" class="tl xt" text-anchor="middle">20</text>
<text x="201.5" y="468.6" class="al xl" text-anchor="middle">C<tspan class="sb" dy="0.9">R</tspan></text>
<text transform="translate(136.4 425.5) rotate(-90)" class="al" text-anchor="middle">FC<tspan class="sb" dy="1.2">H</tspan><tspan dy="-1.2"> (l/100km)</tspan></text>
<path d="M296.5 400.5V450.5M313.5 400.5V450.5M330.5 400.5V450.5M348.5 400.5V450.5M366.5 400.5V450.5M278.5 448.42H383.5M278.5 446.33H383.5M278.5 444.25H383.5M278.5 442.17H383.5M278.5 440.08H383.5M278.5 438H383.5M278.5 435.92H383.5M278.5 433.83H383.5M278.5 431.75H383.5M278.5 429.67H383.5M278.5 427.58H383.5M278.5 425.5H383.5M278.5 423.42H383.5M278.5 421.33H383.5M278.5 419.25H383.5M278.5 417.17H383.5M278.5 415.08H383.5M278.5 413H383.5M278.5 410.92H383.5M278.5 408.83H383.5M278.5 406.75H383.5M278.5 404.67H383.5M278.5 402.58H383.5" class="grid"/>
<path d="M278.5 448.42h1.2M383.5 448.42h-1.2M278.5 446.33h1.2M383.5 446.33h-1.2M278.5 444.25h1.2M383.5 444.25h-1.2M278.5 442.17h1.2M383.5 442.17h-1.2M278.5 440.08h1.2M383.5 440.08h-1.2M278.5 438h1.2M383.5 438h-1.2M278.5 435.92h1.2M383.5 435.92h-1.2M278.5 433.83h1.2M383.5 433.83h-1.2M278.5 431.75h1.2M383.5 431.75h-1.2M278.5 429.67h1.2M383.5 429.67h-1.2M278.5 427.58h1.2M383.5 427.58h-1.2M278.5 425.5h1.2M383.5 425.5h-1.2M278.5 423.42h1.2M383.5 423.42h-1.2M278.5 421.33h1.2M383.5 421.33h-1.2M278.5 419.25h1.2M383.5 419.25h-1.2M278.5 417.17h1.2M383.5 417.17h-1.2M278.5 415.08h1.2M383.5 415.08h-1.2M278.5 413h1.2M383.5 413h-1.2M278.5 410.92h1.2M383.5 410.92h-1.2M278.5 408.83h1.2M383.5 408.83h-1.2M278.5 406.75h1.2M383.5 406.75h-1.2M278.5 404.67h1.2M383.5 404.67h-1.2M278.5 402.58h1.2M383.5 402.58h-1.2M282.88 450.5v-1.2M282.88 400.5v1.2M287.25 450.5v-1.2M287.25 400.5v1.2M291.62 450.5v-1.2M291.62 400.5v1.2M296 450.5v-1.2M296 400.5v1.2M300.38 450.5v-1.2M300.38 400.5v1.2M304.75 450.5v-1.2M304.75 400.5v1.2M309.12 450.5v-1.2M309.12 400.5v1.2M313.5 450.5v-1.2M313.5 400.5v1.2M317.88 450.5v-1.2M317.88 400.5v1.2M322.25 450.5v-1.2M322.25 400.5v1.2M326.62 450.5v-1.2M326.62 400.5v1.2M331 450.5v-1.2M331 400.5v1.2M335.38 450.5v-1.2M335.38 400.5v1.2M339.75 450.5v-1.2M339.75 400.5v1.2M344.12 450.5v-1.2M344.12 400.5v1.2M348.5 450.5v-1.2M348.5 400.5v1.2M352.88 450.5v-1.2M352.88 400.5v1.2M357.25 450.5v-1.2M357.25 400.5v1.2M361.62 450.5v-1.2M361.62 400.5v1.2M366 450.5v-1.2M366 400.5v1.2M370.38 450.5v-1.2M370.38 400.5v1.2M374.75 450.5v-1.2M374.75 400.5v1.2M379.12 450.5v-1.2M379.12 400.5v1.2" stroke="#888" stroke-width="0.6" fill="none"/>
<g fill="#00f"></g>
<path class="dt" d="M302.7 419.7h0M306.5 417.6h0M309 421.1h0M297.2 423h0M299.7 425.9h0M288.1 417h0M301.1 418.6h0M291 425.9h0M299.3 419.2h0M294.8 418.5h0M291.7 417.7h0M311.5 423.4h0M294.7 417.4h0M311.5 424.9h0M287.4 424.7h0M299.9 425.8h0M296.9 420.6h0M285.1 421.9h0M291.4 424.8h0M290.9 424.8h0M293.9 424.1h0M304.3 425.3h0M300.5 419.8h0M292 418.6h0M287.6 419.3h0M293.5 424.3h0M285 421.2h0M298.7 417.9h0M303.8 418.4h0M305.1 418h0M308.8 419.4h0M287.4 417.8h0M290.4 417.7h0M293.4 425.7h0M295.1 420.2h0M287.2 424.7h0M293.8 418.1h0M289.8 423.5h0M304.3 420.8h0M290.4 419.4h0M287.4 423.6h0M287.8 419.9h0M287.5 434.8h0M287.2 440.1h0M287.6 432.9h0M287.3 422.5h0M287.8 440.4h0M291.3 436.7h0M291.4 419.5h0M291.7 420h0M291.9 437.4h0M291.5 421.1h0M291.7 435.2h0M291.3 434.1h0M295.5 426.5h0M295.5 419.6h0M295.8 424.7h0M296 438.7h0M295.9 429.6h0M295.9 425.5h0M295.7 430.5h0M299.8 428.1h0M300.1 440.7h0M300 437.7h0M299.7 419.5h0M299.7 429.4h0M300 434.8h0M300.1 435.8h0M303.8 419h0M303.9 425.4h0M304.2 438.8h0M304 435.7h0M304.1 429.8h0M303.9 439.9h0M304.2 431h0M307 421.2h0M306.9 430.5h0M306.6 420.7h0M306.7 437.9h0M306.5 438.6h0M307 422.3h0M306.7 429h0M293.9 426.8h0M292.2 441.8h0M306.3 442h0M297.9 433.7h0M287.2 432.4h0M299.9 442.8h0M287.2 436.6h0M286.8 442.4h0M290.6 437.3h0M301.2 428.4h0M297 432.3h0M290 431.8h0M287.2 437.5h0M309.5 434.5h0M295.5 434h0M289.2 438.1h0M302.6 426.5h0M294.9 426.8h0M302.9 424.9h0M307.1 425.8h0M306.2 428.1h0M298.7 437.6h0M308.7 440.6h0M289.4 437.7h0M296.2 427.7h0M297 441.8h0M286.1 437.4h0M299 440.7h0M297.3 429.1h0M306.6 426.6h0M302.6 430h0M287 427.7h0M306.6 427.5h0M308.2 427.3h0M308.5 425.5h0M301.9 434.4h0M300.3 441.5h0M291.2 442.8h0M299.7 439.4h0M291.8 442.8h0M303.4 433.2h0M291 440.7h0M299.4 442.7h0M307.4 438.3h0M303.4 427.7h0M306.1 437.7h0M288.1 425.9h0M288.1 428.6h0M304.4 438.6h0M302.7 431.3h0M308.7 427.4h0M291.2 432.7h0M292.1 438.1h0M306.2 438.2h0M293.6 435.2h0M293.4 434.6h0M298.7 427.4h0M306.4 439.5h0M304.8 426.3h0M291.4 438.3h0M305.5 435.9h0M308.6 432.4h0M291.2 433.3h0M293.1 431.6h0M304.9 430.5h0M303.2 435.4h0M286.2 433.9h0M307 436.4h0M306.6 436.3h0M296.1 428.2h0M304.3 430h0M302 436.6h0M286.1 435.8h0M293.7 429.2h0M301.5 436.2h0M290.9 437.6h0M287.5 425.6h0M307.5 441.6h0M308.9 442.8h0M303.9 435h0M298.7 434.4h0M308.8 442.3h0M296.4 428.3h0M298.9 432.3h0M305.5 441.5h0M300.9 426.1h0M298.8 426.9h0M298.8 439.6h0M302.2 433.1h0M289.5 441.6h0M307.1 433.5h0M286.9 437h0M295.5 431.9h0M295 429.6h0M289.1 436.5h0M298.4 432.5h0M304.1 433.8h0M289.6 429.5h0M299.4 436.8h0M301.2 438.2h0M294.4 438.6h0M300 429.2h0M288.7 436h0M306.5 442h0M305.7 439.6h0M300.2 429.1h0M292.9 440.4h0M292.4 433.4h0M299.2 424.9h0M288.4 428.2h0M305.2 439h0M287.8 427.6h0M305.3 435.3h0M307.1 438.1h0M288 438.7h0M303.2 425.4h0M308.8 429.9h0M297.1 434.2h0M299.3 435h0M287.3 440.2h0M298.5 426.4h0M298 428.1h0M296.3 437.8h0M304.2 427.5h0M292.7 442.3h0M301.1 428h0M300.6 429.1h0M287.5 436.6h0M288.4 427.2h0M302.3 442.3h0M287.3 438.3h0M289.2 425.7h0M286.1 425h0M303.6 441.2h0M286 427.3h0M286.8 432h0M293.6 428.1h0M305.7 426.5h0M301.2 427.2h0M301.7 427h0M290.5 442.7h0M292.2 432.8h0M301.9 442.9h0M299.2 426.7h0M302.1 437.1h0M300 431.6h0M305.8 425.7h0M299.1 434.5h0M308.2 438.9h0M291.5 431.6h0M300.3 431.5h0M287.2 442.8h0M296.8 427.2h0M289.4 424.9h0M308 427.1h0M299.5 441.9h0M304.5 435.4h0M292.6 436.9h0M305.5 428.4h0M291.3 432.1h0M300.4 440.9h0M300.2 429.5h0M303.5 427.3h0M288.3 424.8h0M299.8 435.2h0M297.1 434.7h0M290.3 428.4h0M300 432h0M297.9 441.3h0M297.1 438.2h0M287.1 433.6h0M287 428.2h0M290.3 431.6h0M289.6 441.7h0M293 430.2h0M287.4 431.3h0M304.9 434.6h0M307.6 435.9h0M301.5 432.4h0M306.2 432.8h0M290.3 431.6h0M303.5 429.4h0M291.2 436.7h0M301.2 434.7h0M300.6 434.1h0M299.3 429.2h0M295.8 441.2h0M299 433.1h0M300 441.2h0M296.8 434h0M303.9 439.6h0M292.1 437.3h0M293.5 433.2h0M303.6 433.3h0M305.8 434.9h0M304.9 430.3h0M295.6 429.1h0M304.7 440.1h0M297.3 434.7h0M306.9 433.6h0M293.7 430.5h0M305.9 439h0M298.1 438.1h0M304.2 437.3h0M289.7 437h0M304.9 434.8h0M296.1 437h0M291.4 431.6h0M301.1 441.4h0M289.8 437.2h0M297.6 429.2h0M290.8 432.6h0M301.4 430.4h0M295 436.7h0M302.6 441.5h0M304.3 431.1h0M298.7 436.5h0M298.6 436.4h0M295.2 431.7h0M300.9 439.9h0M301.2 437.1h0M306.7 431.9h0M299 439.3h0M300.6 428.7h0M297.8 439.2h0M291.6 433.7h0M307.2 434.5h0M298.4 436.4h0M304.5 434.5h0M305.5 437.7h0M295.6 436.6h0M293.6 429.4h0M297.2 429.3h0M293.5 439.5h0M306.9 431.2h0M290.9 433.2h0M296.5 430.5h0M303.7 430.7h0M298.3 432.2h0M300.5 430.2h0M297.4 439.6h0M287.9 431.2h0M289 439.4h0M300.9 431.8h0M305.5 430.9h0M297.3 438.1h0M299.5 429.5h0M288.5 431.1h0M306.4 440.2h0M293.6 429.3h0M300.2 431.2h0M305.4 440.5h0M303.2 438.7h0M303.1 439.4h0M295.1 438h0M287.8 437.6h0M296.4 441.3h0M303.2 434.5h0M301.7 436.2h0M299.9 428.8h0M287.6 415.6h0M287.6 419.1h0M280.7 428.7h0M282.1 428.7h0M317.6 423.2h0M314.9 427.3h0M314.9 431.4h0M314.9 435.5h0M321.7 441h0M323.1 443.7h0M329.9 436.9h0M329.9 438.8h0M329.9 440.4h0M310.8 424.6h0M344.9 430.5h0M359.2 442.2h0M357 439.4h0M357.2 428.5h0M345.8 436.3h0M360.8 433.4h0M359 431.9h0M347.6 429h0M350.5 436.2h0M341.4 442.5h0M338.4 438.9h0M348.5 442.6h0M346.7 426.4h0M358.9 432.7h0M362.7 437.8h0M351.4 437.7h0M358.6 431.8h0M344 437.6h0M355.2 426.8h0M343 433.6h0M340.8 435.3h0M350 431.2h0M360.7 439.1h0M340.1 436.6h0M367.9 436.7h0M367.7 430.1h0M344.7 431.8h0M345.2 428.8h0M345.8 434.9h0M362.5 439.7h0M339.3 439.6h0M357.3 430.7h0M338.3 441.2h0M342.1 430.5h0M347.2 440.1h0M366.5 442.2h0M363.6 441h0M352.3 426.9h0M345.2 428.4h0M341.6 428.3h0M347.7 426.8h0M347 441.1h0M345.4 435h0M363.7 426.2h0M360 435.6h0M339 441.8h0M362 427.8h0M367 436.2h0M357.2 429.7h0M339 438.5h0M359.5 429.2h0M339.1 436.2h0M347.4 432.1h0M364.2 436h0M341.6 438.4h0M359.8 436h0M366.8 434.4h0M357.6 426.9h0M347.1 431.3h0M351 435h0M342.6 440h0M341 435.4h0M355.5 433h0M348.5 441.2h0M359.5 436.7h0M344 440.6h0M363.2 433.6h0M350.9 438.5h0M358.4 434.9h0M361.9 439.1h0M361.3 442.6h0M358.1 439.7h0M347.6 435.6h0M349.7 441.2h0M355.7 435.7h0M364.1 438.1h0M366.2 439.6h0M359.5 436.4h0M366.6 437.8h0M357.9 437h0M353.8 434.6h0M349.5 437.1h0M359.8 434.4h0M344.9 439.5h0M352.4 441.9h0M340 437.4h0M362.2 440.6h0M349.1 438.1h0M350.3 432.8h0M341.7 435.2h0M363.3 434.8h0M347.3 438.6h0M358.5 439.5h0M347.9 436.3h0M339.8 441h0M349.8 435.8h0M345.1 437.9h0M343.6 436.2h0M342.3 434.8h0M353.9 436.2h0M342.4 441.8h0M341.1 437.1h0M347.5 433.4h0M347.6 437.4h0M358.3 435.5h0M349.8 442.1h0M356.8 437.4h0M345.3 440.9h0M364.9 435.3h0M362.7 436.7h0M352.5 433.1h0M346.1 435.3h0M345 441.4h0M365.4 436.1h0M361.4 435.9h0M355.3 434.8h0M364.3 438.1h0M355.6 441h0M353.8 437.9h0M358.9 437.7h0M355.2 435.9h0M343.6 435.1h0M366 438.9h0M340 434.7h0M355.4 438.1h0M366.5 442.2h0M341.4 441.2h0M366.3 440.5h0M365.5 436.7h0M356.7 439.9h0M361.2 440.2h0M361.9 436.3h0M361.2 439h0M365.7 436.1h0M356.4 441.7h0M360.2 440h0M343.5 434.4h0M348.2 439.6h0M340.4 439.6h0M342.7 434.8h0M347.1 438.5h0M359.1 442.6h0M345.7 433.7h0M362.9 438.9h0M364.6 440.2h0M343 436.5h0M345.5 437.5h0M347.3 441.7h0M363.9 434.7h0M366.8 442.8h0M350 441.9h0M365.3 440.4h0M349.4 439.3h0M360.4 436.3h0M352.5 433.7h0M372.3 441h0M379.1 439.6h0M379.1 441.5h0M379.1 443.7h0M346.3 426h0M351.8 426h0M360 426.8h0"/>
<rect x="278.5" y="400.5" width="105" height="50" fill="none" stroke="#cacaca" stroke-width="1"/>
<text x="276.7" y="452.3" class="tl" text-anchor="end">0</text>
<text x="276.7" y="443.97" class="tl" text-anchor="end">4</text>
<text x="276.7" y="435.63" class="tl" text-anchor="end">8</text>
<text x="276.7" y="427.3" class="tl" text-anchor="end">12</text>
<text x="276.7" y="418.97" class="tl" text-anchor="end">16</text>
<text x="276.7" y="410.63" class="tl" text-anchor="end">20</text>
<text x="276.7" y="402.3" class="tl" text-anchor="end">24</text>
<text x="278.5" y="457.1" class="tl xt" text-anchor="middle">8</text>
<text x="296" y="457.1" class="tl xt" text-anchor="middle">10</text>
<text x="313.5" y="457.1" class="tl xt" text-anchor="middle">12</text>
<text x="331" y="457.1" class="tl xt" text-anchor="middle">14</text>
<text x="348.5" y="457.1" class="tl xt" text-anchor="middle">16</text>
<text x="366" y="457.1" class="tl xt" text-anchor="middle">18</text>
<text x="383.5" y="457.1" class="tl xt" text-anchor="middle">20</text>
<text x="331" y="468.6" class="al xl" text-anchor="middle">C<tspan class="sb" dy="0.9">R</tspan></text>
<text transform="translate(266.1 425.5) rotate(-90)" class="al" text-anchor="middle">FC<tspan class="sb" dy="1.2">M</tspan><tspan dy="-1.2"> (l/100km)</tspan></text>
<path d="M36.5 479.5V529.5M53.5 479.5V529.5M70.5 479.5V529.5M87.5 479.5V529.5M104.5 479.5V529.5M19.5 527.42H121.5M19.5 525.33H121.5M19.5 523.25H121.5M19.5 521.17H121.5M19.5 519.08H121.5M19.5 517H121.5M19.5 514.92H121.5M19.5 512.83H121.5M19.5 510.75H121.5M19.5 508.67H121.5M19.5 506.58H121.5M19.5 504.5H121.5M19.5 502.42H121.5M19.5 500.33H121.5M19.5 498.25H121.5M19.5 496.17H121.5M19.5 494.08H121.5M19.5 492H121.5M19.5 489.92H121.5M19.5 487.83H121.5M19.5 485.75H121.5M19.5 483.67H121.5M19.5 481.58H121.5" class="grid"/>
<path d="M19.5 527.42h1.2M121.5 527.42h-1.2M19.5 525.33h1.2M121.5 525.33h-1.2M19.5 523.25h1.2M121.5 523.25h-1.2M19.5 521.17h1.2M121.5 521.17h-1.2M19.5 519.08h1.2M121.5 519.08h-1.2M19.5 517h1.2M121.5 517h-1.2M19.5 514.92h1.2M121.5 514.92h-1.2M19.5 512.83h1.2M121.5 512.83h-1.2M19.5 510.75h1.2M121.5 510.75h-1.2M19.5 508.67h1.2M121.5 508.67h-1.2M19.5 506.58h1.2M121.5 506.58h-1.2M19.5 504.5h1.2M121.5 504.5h-1.2M19.5 502.42h1.2M121.5 502.42h-1.2M19.5 500.33h1.2M121.5 500.33h-1.2M19.5 498.25h1.2M121.5 498.25h-1.2M19.5 496.17h1.2M121.5 496.17h-1.2M19.5 494.08h1.2M121.5 494.08h-1.2M19.5 492h1.2M121.5 492h-1.2M19.5 489.92h1.2M121.5 489.92h-1.2M19.5 487.83h1.2M121.5 487.83h-1.2M19.5 485.75h1.2M121.5 485.75h-1.2M19.5 483.67h1.2M121.5 483.67h-1.2M19.5 481.58h1.2M121.5 481.58h-1.2M23.75 529.5v-1.2M23.75 479.5v1.2M28 529.5v-1.2M28 479.5v1.2M32.25 529.5v-1.2M32.25 479.5v1.2M36.5 529.5v-1.2M36.5 479.5v1.2M40.75 529.5v-1.2M40.75 479.5v1.2M45 529.5v-1.2M45 479.5v1.2M49.25 529.5v-1.2M49.25 479.5v1.2M53.5 529.5v-1.2M53.5 479.5v1.2M57.75 529.5v-1.2M57.75 479.5v1.2M62 529.5v-1.2M62 479.5v1.2M66.25 529.5v-1.2M66.25 479.5v1.2M70.5 529.5v-1.2M70.5 479.5v1.2M74.75 529.5v-1.2M74.75 479.5v1.2M79 529.5v-1.2M79 479.5v1.2M83.25 529.5v-1.2M83.25 479.5v1.2M87.5 529.5v-1.2M87.5 479.5v1.2M91.75 529.5v-1.2M91.75 479.5v1.2M96 529.5v-1.2M96 479.5v1.2M100.25 529.5v-1.2M100.25 479.5v1.2M104.5 529.5v-1.2M104.5 479.5v1.2M108.75 529.5v-1.2M108.75 479.5v1.2M113 529.5v-1.2M113 479.5v1.2M117.25 529.5v-1.2M117.25 479.5v1.2" stroke="#888" stroke-width="0.6" fill="none"/>
<g fill="#00f"><polygon points="38,518 42,514.5 48,511 55,508 60,504 66.6,500 72.4,496 76,494.5 81,499 82.5,506 81.5,513 76,516.5 65,518.5 55,519.8 45,520 38,520.5"/></g>
<path class="dt" d="M42.4 516.2h0M50.3 513.1h0M56.5 513.4h0M68.8 498.4h0M60 519.4h0M70.3 504.3h0M57.1 509.8h0M36 515.1h0M45.6 517.3h0M71.4 515.6h0M74.3 494.5h0M56.9 507.8h0M47.3 511.4h0M35.3 521.6h0M53.6 518.1h0M69 513.7h0M76.8 518.9h0M75.1 495.8h0M69.2 497.2h0M77.7 517.8h0M58.5 513.9h0M67.8 510.3h0M52.8 512.5h0M68.8 504h0M45 521.3h0M49.3 507.8h0M80.4 499.8h0M83 495.8h0M52.7 514h0M83.8 499.7h0M55.2 514.4h0M50.1 517.9h0M63.1 502.9h0M84.6 514h0M76.9 502.6h0M52.3 520.4h0M59.9 503.3h0M66.4 509.6h0M47.8 519h0M57.6 515.6h0M60.9 509.4h0M74.2 497.5h0M36.6 516.8h0M70.2 514.7h0M75.7 496.5h0M79.7 511.1h0M83.1 508.3h0M79 491.8h0M68.8 502.7h0M38 519.2h0M38 519.3h0M46.3 513.3h0M65 497.7h0M62.4 499.2h0M47.8 521.3h0M53.4 514.2h0M66.6 499.4h0M62.5 512h0M35.7 519.1h0M45.6 512.2h0M55.3 509.1h0M55.4 506.7h0M38.8 522.4h0M78.1 499.6h0M75.2 503.9h0M58.7 516.6h0M68.9 499.9h0M44.2 514.9h0M81.7 507.2h0M56.8 520.4h0M70.6 513h0M41.5 520.6h0M76.9 508h0M70.6 494h0M67.6 501.6h0M38.5 516.7h0M84 500.5h0M72.9 502.2h0M78.8 500.7h0M61.3 508.9h0M61.3 504.6h0M59.2 512.1h0M37.6 516.2h0M70.6 495h0M82 503.5h0M71.2 492.7h0M67.5 504.7h0M79.4 517.1h0M66.6 503.3h0M58.7 510.9h0M70.4 513.3h0M65 510.5h0M64 512.6h0M40.7 517.8h0M66.3 516.8h0M39.4 516.6h0M36.5 515.2h0M53.1 522.2h0M54.3 512.1h0M75.4 501.6h0M57.1 503.5h0M54 510h0M35.5 520.1h0M41.8 515.4h0M79.3 508h0M83.1 497.4h0M81.9 514.8h0M68.1 515.6h0M83.5 505h0M71.5 517.3h0M58.1 502.4h0M74.4 511.1h0M83.6 506h0M79.2 511.1h0M63.4 518.2h0M59.5 517h0M43.9 515.7h0M58.3 513.6h0M61.3 518h0M70.1 502.6h0M61.2 502.8h0M79.4 500h0M47.2 516.7h0M69.8 498h0M56 519.5h0M84 497.3h0M76.7 508.8h0M66 499.9h0M45.3 518.7h0M55.3 505.5h0M79.4 514.6h0M76.2 516.1h0M72.1 518.7h0M62.2 519.3h0M76.7 516.2h0M45.8 508.7h0M57 514.3h0M73.7 512.9h0M53 513.5h0M51.2 506.7h0M38.8 519.2h0M73.6 514.4h0M81.2 503.2h0M54.9 515.3h0M62.9 511.4h0M83 500.5h0M62 505h0M81.2 506h0M73 497.7h0M84.9 502.5h0M69.8 496.7h0M51.5 516.3h0M59.2 507.8h0M82.3 504.7h0M40.9 520.3h0M70.1 504.6h0M44.1 511.7h0M84.3 509.7h0M60.8 510.4h0M68.1 509.8h0M65.6 520.7h0M79.4 506.1h0M49.6 509.3h0M59.1 510.1h0M75.3 490.9h0M54 513.4h0M38 515.1h0M60.7 507.7h0M69.6 515.1h0M74.5 505.2h0M83 500h0M80.4 517.4h0M60 518h0M71.5 506.5h0M65.5 505.3h0M66.5 518.4h0M59.4 506.3h0M70.3 496.6h0M65 506.5h0M43.5 511.2h0M39.3 517.2h0M35.2 516.6h0M49.8 521.5h0M68.9 498h0M76.3 505.7h0M48.1 509.5h0M65 508.1h0M69.6 510.2h0M58.6 518.2h0M34.9 520h0M79.8 503.4h0M77.9 508.5h0M55.8 521.5h0M58.5 501.9h0M82.1 503.8h0M82.8 514.2h0M72.7 491.8h0M67.8 512.7h0M75.3 503.7h0M50.7 509.7h0M71.3 504.1h0M71.3 508.9h0M76.2 514h0M77.2 495.3h0M82.1 501.2h0M42.2 513h0M57 510.9h0M61.1 511.9h0M66.4 504h0M60 501.4h0M77.4 508h0M70.3 517h0M70.3 519.3h0M57.8 513h0M80.1 506h0M76.7 499.1h0M42.5 518.1h0M65.2 498.4h0M40.6 519.6h0M61.6 513.7h0M74.7 512.2h0M51.1 520.4h0M59.9 515.3h0M73.4 512.5h0M70.6 512.8h0M35.7 518.2h0M49.9 506.4h0M75.8 490.9h0M44.7 519.5h0M55.3 521.2h0M50.2 507.1h0M61.6 503.3h0M85.5 503.2h0M75.5 506.7h0M52.4 517.9h0M65.3 514.9h0M60.5 503.3h0M71.5 495.1h0M79 515.9h0M54.8 515.9h0M62.3 511.6h0M46.7 515.5h0M74.6 498.5h0M73.9 518h0M42.9 514h0M52.5 515.7h0M67.3 502.6h0M69.6 516.8h0M44.4 518.5h0M61.2 510.9h0M78.8 497h0M58.5 513.4h0M62.3 504.8h0M60.4 517.6h0M40.2 513.7h0M57.2 509.9h0M78.1 502.2h0M66.5 501.9h0M71.9 500.2h0M76.5 492h0M56 507.5h0M84.2 512.2h0M67.7 520.1h0M64.4 514.4h0M58.7 516.2h0M73.4 504.2h0M41.4 517.8h0M47.1 519.7h0M54.1 508.4h0M57.3 515.1h0M52.6 506.9h0M48.7 512.7h0M84.6 511.1h0M38.7 518.5h0M73.5 510.1h0M84 507.6h0M62.9 517.5h0M82.7 515.7h0M52.1 509.5h0M63.4 514h0M63.9 500.3h0M83.2 509.7h0M62.4 513.1h0M79 515.1h0M36.9 522.6h0M35.1 515.4h0M58.6 520.6h0M83.3 514.6h0M74.5 499.6h0M64.2 518.5h0M67.2 517h0M82.5 498h0M81.7 500.6h0M46 518.5h0M39.7 518.4h0M45.8 515.4h0M64 508.4h0M70.9 518.1h0M75.5 504.1h0M47.8 515.5h0M73.8 517.2h0M41.2 515.6h0M58.8 507h0M78.2 499.3h0M84.5 499.7h0M53.3 509.7h0M37.7 519.8h0M74.5 514.6h0M69.8 518.2h0M44.6 520.5h0M58.7 517.4h0M47.3 509.8h0M72.9 501.2h0M66.8 503.5h0M45.3 517.9h0M82.8 500.8h0M75.5 510.7h0M62.9 519.8h0M69 511.3h0M82.7 505h0M71.7 505.5h0M44.4 512.7h0M73.5 517.5h0M62.5 514.9h0M75.5 514h0M50.7 508.9h0M76.9 498.1h0M40.3 519.3h0M51.3 521.6h0M72.5 509.4h0M59.3 511.4h0M76.2 496.2h0M53.5 519.2h0M61.5 506.2h0M63.9 509.9h0M34.5 521.8h0M50.8 515.4h0M78.3 510.7h0M77.9 497.4h0M60.5 509h0M75.8 497.8h0M66.9 513.9h0M63.3 501.7h0M60.8 512h0M56.9 514.3h0M73 514.8h0M76.8 492h0M52.7 514.6h0M77.4 502.9h0M63.4 500.8h0M44.3 512.7h0M66.1 502.8h0M75.1 502.8h0M74.6 510.4h0M65.3 498h0M51.1 511.7h0M67.9 512.9h0M77.5 493.6h0M70.6 511.3h0M52.1 516.5h0M77.7 516.1h0M64.6 503.7h0M63.1 506.5h0M63.7 500.5h0M76.4 507.1h0M46.5 509.3h0M74.5 506.4h0M51.1 507.9h0M70 495.9h0M80.1 503.5h0M55.9 507.1h0M73.6 495.6h0M53.2 519.6h0M65.9 499.2h0M67.3 506.8h0M70.6 516.6h0M60.9 502.5h0M57.3 517h0M56.9 507.9h0M73.5 518.7h0M64.5 507.4h0M44.2 515.5h0M69 494.4h0M64.3 518.8h0M78.2 502.4h0M53.2 507.5h0M55.9 522.2h0M83.2 501.9h0M47.8 509.8h0M76.9 516.5h0M57.8 503.3h0M41.5 516.3h0M73.5 497.1h0M68.9 519.4h0M72.8 510.5h0M51 513.2h0M74.1 501.4h0M69.7 510h0M81.2 502.2h0M60.7 504.9h0M78.5 500.8h0M76.9 514.5h0M44 516.9h0M75.1 512.8h0M66.2 497.6h0M34.3 518.6h0M51.4 517.1h0M78.5 518.3h0M72.2 513.9h0M50.9 520.4h0M79.1 508h0M83.6 500.9h0M80 516.7h0M56.4 511.5h0M36.2 520.9h0M59.5 505.7h0M59.5 513.7h0M43.8 516.2h0M80.7 514.4h0M72 516.2h0M83.1 498.4h0M84.3 515h0M80.1 510.1h0M83.7 518.2h0M86.5 517.4h0M83 502.2h0M81 493.9h0M81.8 494h0M85.5 505.8h0M86.8 511.8h0M89.6 504.4h0M85.4 504.5h0M83.7 498.2h0M81.7 498h0M84.1 501.7h0M84.6 509.1h0M89.8 506.2h0M89.9 497.4h0M85.3 506.2h0M83.4 502.2h0M80.8 519.4h0M78.9 513.6h0M83.8 498.4h0M81.7 518.2h0M82 506.1h0M83 508.8h0M84.7 504.6h0M79.3 487.9h0M85.8 487.1h0M84.2 496.2h0M86.9 497.7h0M78.6 492.2h0M82 508.3h0M86.5 514.5h0M89.5 505.4h0M78.6 509h0M82.3 507h0M80.1 500.1h0M80.9 509.4h0M89.4 499.1h0M84 508h0M87.2 498.8h0M81.2 508.6h0M81.7 503.4h0M85.6 505.3h0M87.4 497.2h0M85 490.2h0M87.8 508.4h0M95.1 490h0M97 495.4h0M97.1 492.8h0M90.3 494.1h0M97.1 507.9h0M92.5 501.1h0M88.7 502.6h0M99.3 498.7h0M91.4 502.6h0M90.1 512.8h0M87.4 499.6h0M95.1 507.4h0M88.9 488.7h0M95 488.8h0M92.1 511.7h0M96.5 505.2h0M94.8 506h0M113.7 492.2h0M95 508.2h0M108.8 512.2h0M83.6 511.3h0M96.6 506.1h0M90 497.5h0M107.5 503.5h0M105.7 482.3h0M112.8 481.2h0M109.7 498.3h0M103.3 486.8h0M108.7 504.8h0M91.3 510.5h0M96.7 508.2h0M90.8 491.9h0M90.1 480.5h0M87.9 484.5h0M100 495.5h0M86.7 510.1h0M103.8 496.7h0M92.1 493.3h0M112.6 493.5h0M99.5 510.2h0M96.2 507.9h0M85.5 503.1h0M87.2 488.5h0M86.1 508.9h0M112.1 505.9h0M99.4 483.1h0M100.1 509.5h0M106.5 479.4h0M115.1 511.1h0M102.2 480.1h0M106.3 500.3h0M83.5 494.2h0M83.9 481.4h0M105.2 505h0M93.8 484.6h0M87.4 480.1h0M83.3 483.9h0M99.4 483.9h0M107.5 482h0M111.5 483.4h0M108.8 488.7h0M96.7 490.1h0M104.8 494.1h0M114.2 498.1h0M111.5 504.8h0M107.5 506.1h0M99.4 511.5h0M87.4 519.5h0M34.3 518.2h0M34.3 520.1h0M34.3 522h0"/>
<rect x="19.5" y="479.5" width="102" height="50" fill="none" stroke="#cacaca" stroke-width="1"/>
<text x="17.7" y="531.3" class="tl" text-anchor="end">0</text>
<text x="17.7" y="522.97" class="tl" text-anchor="end">4</text>
<text x="17.7" y="514.63" class="tl" text-anchor="end">8</text>
<text x="17.7" y="506.3" class="tl" text-anchor="end">12</text>
<text x="17.7" y="497.97" class="tl" text-anchor="end">16</text>
<text x="17.7" y="489.63" class="tl" text-anchor="end">20</text>
<text x="17.7" y="481.3" class="tl" text-anchor="end">24</text>
<text x="19.5" y="535.6" class="tl xt" text-anchor="middle">400</text>
<text x="36.5" y="535.6" class="tl xt" text-anchor="middle">800</text>
<text x="53.5" y="535.6" class="tl xt" text-anchor="middle">1200</text>
<text x="70.5" y="535.6" class="tl xt" text-anchor="middle">1600</text>
<text x="87.5" y="535.6" class="tl xt" text-anchor="middle">2000</text>
<text x="104.5" y="535.6" class="tl xt" text-anchor="middle">2400</text>
<text x="121.5" y="535.6" class="tl xt" text-anchor="middle">2800</text>
<text x="70.5" y="547.6" class="al xl" text-anchor="middle">W<tspan class="sb" dy="0.9">V</tspan><tspan dy="-0.9"> (kg)</tspan></text>
<text transform="translate(7.9 504.5) rotate(-90)" class="al" text-anchor="middle">FC<tspan class="sb" dy="1.2">U</tspan><tspan dy="-1.2"> (l/100km)</tspan></text>
<path d="M165.5 479.5V529.5M182.5 479.5V529.5M200.5 479.5V529.5M217.5 479.5V529.5M234.5 479.5V529.5M148.5 527.42H251.5M148.5 525.33H251.5M148.5 523.25H251.5M148.5 521.17H251.5M148.5 519.08H251.5M148.5 517H251.5M148.5 514.92H251.5M148.5 512.83H251.5M148.5 510.75H251.5M148.5 508.67H251.5M148.5 506.58H251.5M148.5 504.5H251.5M148.5 502.42H251.5M148.5 500.33H251.5M148.5 498.25H251.5M148.5 496.17H251.5M148.5 494.08H251.5M148.5 492H251.5M148.5 489.92H251.5M148.5 487.83H251.5M148.5 485.75H251.5M148.5 483.67H251.5M148.5 481.58H251.5" class="grid"/>
<path d="M148.5 527.42h1.2M251.5 527.42h-1.2M148.5 525.33h1.2M251.5 525.33h-1.2M148.5 523.25h1.2M251.5 523.25h-1.2M148.5 521.17h1.2M251.5 521.17h-1.2M148.5 519.08h1.2M251.5 519.08h-1.2M148.5 517h1.2M251.5 517h-1.2M148.5 514.92h1.2M251.5 514.92h-1.2M148.5 512.83h1.2M251.5 512.83h-1.2M148.5 510.75h1.2M251.5 510.75h-1.2M148.5 508.67h1.2M251.5 508.67h-1.2M148.5 506.58h1.2M251.5 506.58h-1.2M148.5 504.5h1.2M251.5 504.5h-1.2M148.5 502.42h1.2M251.5 502.42h-1.2M148.5 500.33h1.2M251.5 500.33h-1.2M148.5 498.25h1.2M251.5 498.25h-1.2M148.5 496.17h1.2M251.5 496.17h-1.2M148.5 494.08h1.2M251.5 494.08h-1.2M148.5 492h1.2M251.5 492h-1.2M148.5 489.92h1.2M251.5 489.92h-1.2M148.5 487.83h1.2M251.5 487.83h-1.2M148.5 485.75h1.2M251.5 485.75h-1.2M148.5 483.67h1.2M251.5 483.67h-1.2M148.5 481.58h1.2M251.5 481.58h-1.2M152.79 529.5v-1.2M152.79 479.5v1.2M157.08 529.5v-1.2M157.08 479.5v1.2M161.38 529.5v-1.2M161.38 479.5v1.2M165.67 529.5v-1.2M165.67 479.5v1.2M169.96 529.5v-1.2M169.96 479.5v1.2M174.25 529.5v-1.2M174.25 479.5v1.2M178.54 529.5v-1.2M178.54 479.5v1.2M182.83 529.5v-1.2M182.83 479.5v1.2M187.12 529.5v-1.2M187.12 479.5v1.2M191.42 529.5v-1.2M191.42 479.5v1.2M195.71 529.5v-1.2M195.71 479.5v1.2M200 529.5v-1.2M200 479.5v1.2M204.29 529.5v-1.2M204.29 479.5v1.2M208.58 529.5v-1.2M208.58 479.5v1.2M212.88 529.5v-1.2M212.88 479.5v1.2M217.17 529.5v-1.2M217.17 479.5v1.2M221.46 529.5v-1.2M221.46 479.5v1.2M225.75 529.5v-1.2M225.75 479.5v1.2M230.04 529.5v-1.2M230.04 479.5v1.2M234.33 529.5v-1.2M234.33 479.5v1.2M238.62 529.5v-1.2M238.62 479.5v1.2M242.92 529.5v-1.2M242.92 479.5v1.2M247.21 529.5v-1.2M247.21 479.5v1.2" stroke="#888" stroke-width="0.6" fill="none"/>
<g fill="#00f"><polygon points="164.62,520.35 169.44,518.74 174.8,516.87 182.85,514.19 190.89,512.85 201.61,511.51 209.65,510.16 213.67,509.09 213.67,517.67 201.61,519.55 188.21,521.42 174.8,522.23 164.62,522.23"/></g>
<path class="dt" d="M194.8 511.2h0M176 517.1h0M208.8 510.7h0M199.6 517.9h0M176.6 522h0M172.8 522.6h0M164.5 520.6h0M214.4 511.2h0M199.3 511.7h0M189.7 517.5h0M200.4 517.5h0M211.5 516.5h0M171.3 521.6h0M196.5 521.2h0M200.6 512.3h0M203.7 511.2h0M191.8 517.1h0M207.5 510.8h0M206.2 515.7h0M199.1 519.8h0M184.9 513.9h0M198.7 516h0M202.3 512.5h0M175.6 518.4h0M177.6 520.5h0M189 515.8h0M216.1 507.3h0M188.1 512.9h0M198.6 511.8h0M176.9 521.9h0M199.8 515h0M189.2 519.9h0M205.4 511.4h0M180.7 513.5h0M169.4 517.7h0M176 521.4h0M189 515.8h0M181.1 522.5h0M208 516.3h0M174.1 517.5h0M215.6 512.1h0M180.1 518.6h0M205.4 513.9h0M175.9 517.6h0M192.2 516.1h0M186.7 516.1h0M195 512h0M199.1 520.3h0M175.9 516.5h0M179 515.2h0M174.1 516.3h0M201.8 517.3h0M217.5 512.3h0M207.5 517h0M180.5 513.8h0M210.2 508.5h0M193.1 513.2h0M178.1 514.3h0M178.8 522.4h0M205.5 509.4h0M205.6 519.6h0M215.9 515.3h0M209.7 516.7h0M184.8 512.8h0M184.5 522h0M208.5 518.2h0M179.5 518.1h0M171.2 520.1h0M212.2 515.9h0M191.2 514.5h0M163.8 520.7h0M195.3 519.7h0M171.2 523.2h0M213.3 511h0M203.4 514.3h0M190.9 516.2h0M186.1 516.5h0M186.6 515h0M190.7 520.7h0M214.3 516.4h0M206.4 511.7h0M170.8 519.4h0M207.2 516.2h0M171.1 523.2h0M193.7 517.3h0M190.1 522.2h0M201 520.2h0M210.7 508.7h0M200.7 513.5h0M209.4 512.1h0M219.8 508.7h0M191.7 520.7h0M210.1 517.7h0M207 515.9h0M182.3 521.1h0M187.8 522.1h0M204.6 511.1h0M210.7 510.4h0M206.8 512.7h0M172.8 520.1h0M196.8 513.1h0M192.6 521.7h0M190.5 516.1h0M195.5 510.9h0M202.2 517.1h0M219.7 508.6h0M216.2 513.3h0M174.7 515.4h0M209.3 514.2h0M211.3 508.4h0M211.5 514.1h0M188.1 513.1h0M203.3 510.6h0M192.3 514.5h0M165 521.9h0M181.5 520.6h0M206.7 518.8h0M209.8 512.9h0M204.3 518.2h0M195.4 516.9h0M189.5 513.8h0M190.1 516.8h0M211.5 512.3h0M194.8 513.2h0M172.6 518.4h0M163.1 521.3h0M205.7 513.9h0M180 514.8h0M183.5 522.4h0M208.6 513.3h0M202 510.2h0M178.2 522.3h0M194.6 518.5h0M183.6 513.3h0M216.9 509.2h0M186.5 521.9h0M213.8 511.1h0M186.3 517.8h0M216.6 511.8h0M182 513.6h0M177.4 520.7h0M208.4 517.7h0M200.1 511.6h0M178.7 519.3h0M168.1 523.2h0M171.7 522.3h0M200.1 517.1h0M212.4 517.9h0M211 514.9h0M198.1 515.7h0M187.1 515h0M196.9 519.2h0M207.3 511.3h0M205.3 510.5h0M180.2 520.8h0M174 520.7h0M189.8 515.7h0M190.7 514.5h0M215.8 513.1h0M214.4 511.5h0M205.7 509.3h0M196.4 519.1h0M205.6 509.2h0M218.4 511.7h0M211.9 509.4h0M175.5 521.9h0M208.3 518.7h0M199.4 520.8h0M205.2 518.5h0M179.5 515.6h0M201.3 516.6h0M213.6 510.3h0M173.9 517.2h0M178.6 517.4h0M219.5 509.2h0M196 514h0M204.7 516.5h0M184.7 522.1h0M199.2 515.2h0M184.6 513.9h0M182.6 520.8h0M177.2 520.6h0M192.5 512.5h0M181.3 517.5h0M200 514h0M193.2 514.3h0M186.3 516.2h0M186.7 519.7h0M176.1 522.1h0M176.3 518.9h0M194.5 517.8h0M198.5 520.2h0M184.1 517.5h0M179.8 516.6h0M197.6 519.9h0M208.1 513.8h0M171.9 522.8h0M195.1 514h0M217.7 507.4h0M211.5 515.8h0M224.1 511.6h0M225.8 513.7h0M228 514.9h0M220.5 515h0M219.4 506h0M224.2 505.3h0M226.9 515.3h0M226 507.6h0M222.7 505.4h0M221.7 513.6h0M218.7 506.5h0M220.6 508.6h0M220.4 508.3h0M217.2 511.7h0M222.3 511.4h0M220.3 514.5h0M225.7 510.8h0M221 513.9h0M221.6 509.3h0M223.2 505.4h0M222.3 505.7h0M227.4 513.3h0M230.2 505.4h0M238.2 508.6h0M234.4 507.3h0M231.7 507.3h0M229.2 504.1h0M231.9 503.7h0M231.9 505.3h0M233.6 509h0M243 510.1h0M240.5 508.7h0M239.6 509.4h0M228.5 506.9h0M230.3 509.9h0M233.8 507.5h0M237.8 500.8h0M236.5 504.8h0M241.8 509.6h0M243.2 511.5h0M233.8 508h0"/>
<rect x="148.5" y="479.5" width="103" height="50" fill="none" stroke="#cacaca" stroke-width="1"/>
<text x="146.7" y="531.3" class="tl" text-anchor="end">0</text>
<text x="146.7" y="522.97" class="tl" text-anchor="end">4</text>
<text x="146.7" y="514.63" class="tl" text-anchor="end">8</text>
<text x="146.7" y="506.3" class="tl" text-anchor="end">12</text>
<text x="146.7" y="497.97" class="tl" text-anchor="end">16</text>
<text x="146.7" y="489.63" class="tl" text-anchor="end">20</text>
<text x="146.7" y="481.3" class="tl" text-anchor="end">24</text>
<text x="148.5" y="535.6" class="tl xt" text-anchor="middle">400</text>
<text x="165.67" y="535.6" class="tl xt" text-anchor="middle">800</text>
<text x="182.83" y="535.6" class="tl xt" text-anchor="middle">1200</text>
<text x="200" y="535.6" class="tl xt" text-anchor="middle">1600</text>
<text x="217.17" y="535.6" class="tl xt" text-anchor="middle">2000</text>
<text x="234.33" y="535.6" class="tl xt" text-anchor="middle">2400</text>
<text x="251.5" y="535.6" class="tl xt" text-anchor="middle">2800</text>
<text x="200" y="547.6" class="al xl" text-anchor="middle">W<tspan class="sb" dy="0.9">V</tspan><tspan dy="-0.9"> (kg)</tspan></text>
<text transform="translate(136.4 504.5) rotate(-90)" class="al" text-anchor="middle">FC<tspan class="sb" dy="1.2">H</tspan><tspan dy="-1.2"> (l/100km)</tspan></text>
<path d="M295.5 479.5V529.5M312.5 479.5V529.5M329.5 479.5V529.5M346.5 479.5V529.5M363.5 479.5V529.5M278.5 527.42H380.5M278.5 525.33H380.5M278.5 523.25H380.5M278.5 521.17H380.5M278.5 519.08H380.5M278.5 517H380.5M278.5 514.92H380.5M278.5 512.83H380.5M278.5 510.75H380.5M278.5 508.67H380.5M278.5 506.58H380.5M278.5 504.5H380.5M278.5 502.42H380.5M278.5 500.33H380.5M278.5 498.25H380.5M278.5 496.17H380.5M278.5 494.08H380.5M278.5 492H380.5M278.5 489.92H380.5M278.5 487.83H380.5M278.5 485.75H380.5M278.5 483.67H380.5M278.5 481.58H380.5" class="grid"/>
<path d="M278.5 527.42h1.2M380.5 527.42h-1.2M278.5 525.33h1.2M380.5 525.33h-1.2M278.5 523.25h1.2M380.5 523.25h-1.2M278.5 521.17h1.2M380.5 521.17h-1.2M278.5 519.08h1.2M380.5 519.08h-1.2M278.5 517h1.2M380.5 517h-1.2M278.5 514.92h1.2M380.5 514.92h-1.2M278.5 512.83h1.2M380.5 512.83h-1.2M278.5 510.75h1.2M380.5 510.75h-1.2M278.5 508.67h1.2M380.5 508.67h-1.2M278.5 506.58h1.2M380.5 506.58h-1.2M278.5 504.5h1.2M380.5 504.5h-1.2M278.5 502.42h1.2M380.5 502.42h-1.2M278.5 500.33h1.2M380.5 500.33h-1.2M278.5 498.25h1.2M380.5 498.25h-1.2M278.5 496.17h1.2M380.5 496.17h-1.2M278.5 494.08h1.2M380.5 494.08h-1.2M278.5 492h1.2M380.5 492h-1.2M278.5 489.92h1.2M380.5 489.92h-1.2M278.5 487.83h1.2M380.5 487.83h-1.2M278.5 485.75h1.2M380.5 485.75h-1.2M278.5 483.67h1.2M380.5 483.67h-1.2M278.5 481.58h1.2M380.5 481.58h-1.2M282.75 529.5v-1.2M282.75 479.5v1.2M287 529.5v-1.2M287 479.5v1.2M291.25 529.5v-1.2M291.25 479.5v1.2M295.5 529.5v-1.2M295.5 479.5v1.2M299.75 529.5v-1.2M299.75 479.5v1.2M304 529.5v-1.2M304 479.5v1.2M308.25 529.5v-1.2M308.25 479.5v1.2M312.5 529.5v-1.2M312.5 479.5v1.2M316.75 529.5v-1.2M316.75 479.5v1.2M321 529.5v-1.2M321 479.5v1.2M325.25 529.5v-1.2M325.25 479.5v1.2M329.5 529.5v-1.2M329.5 479.5v1.2M333.75 529.5v-1.2M333.75 479.5v1.2M338 529.5v-1.2M338 479.5v1.2M342.25 529.5v-1.2M342.25 479.5v1.2M346.5 529.5v-1.2M346.5 479.5v1.2M350.75 529.5v-1.2M350.75 479.5v1.2M355 529.5v-1.2M355 479.5v1.2M359.25 529.5v-1.2M359.25 479.5v1.2M363.5 529.5v-1.2M363.5 479.5v1.2M367.75 529.5v-1.2M367.75 479.5v1.2M372 529.5v-1.2M372 479.5v1.2M376.25 529.5v-1.2M376.25 479.5v1.2" stroke="#888" stroke-width="0.6" fill="none"/>
<g fill="#00f"><polygon points="294.62,519.55 299.44,516.87 307.48,514.19 318.21,510.16 326.25,507.48 332.95,505.34 334.29,517.67 331.61,519.81 318.21,520.62 304.8,521.42 294.62,521.96"/></g>
<path class="dt" d="M300.2 522.6h0M301.9 516.7h0M338.5 504.2h0M319.1 518.2h0M331 516.7h0M296.4 518.8h0M323.7 509.2h0M320 512.4h0M338.9 505.2h0M313.8 514.5h0M325.8 518.4h0M308.6 517.9h0M310.1 518.5h0M317.2 514h0M335.9 505.4h0M316.8 509.1h0M295.7 518.5h0M299.3 518.5h0M326.7 508.7h0M316.3 509.3h0M306.6 522.4h0M308.2 516.8h0M322.6 511.7h0M322.7 516.7h0M320.5 518.7h0M314.9 518.7h0M315.1 521h0M306.5 513.4h0M329.6 508.7h0M340.2 502.2h0M315.5 518.7h0M319.8 514.3h0M328.9 508.8h0M293.7 522.6h0M322.2 509h0M301.3 521.9h0M329.5 514.1h0M315.5 511.8h0M332.4 508.2h0M337.8 506.2h0M296.3 520.1h0M340.2 514h0M328.9 516.3h0M308.5 521h0M306.8 516.7h0M322 507.8h0M327.8 516.9h0M334.5 516.6h0M297.1 518.6h0M334.5 512.3h0M334.1 514.9h0M300.3 522.5h0M303.1 516.6h0M326.7 519.6h0M334.5 507.4h0M317.2 520.3h0M307.1 520.7h0M324.7 519.2h0M338.2 509.3h0M311.6 518.1h0M331.2 518.7h0M305.6 520.3h0M329.6 514.5h0M308.9 517.3h0M296.1 517.6h0M312.9 518.1h0M321.1 509.4h0M308 512.5h0M337.1 513.1h0M323.6 510.5h0M300.9 515.8h0M339.7 511.2h0M327.6 520.2h0M334.7 513.7h0M334.9 509.3h0M332.6 511h0M303.1 519.5h0M331 515.4h0M333.4 516h0M325.1 519.4h0M294 518.8h0M333.9 504.6h0M295 520.4h0M337.6 505.8h0M313.8 518.8h0M300 519.1h0M331.8 517.4h0M324.7 519.7h0M316.5 516.5h0M314.7 514.2h0M334.8 513.6h0M309 512.8h0M335.4 508.2h0M318.5 515.6h0M314.7 515.8h0M311.2 517.6h0M333.2 507h0M308.2 514.1h0M332.7 505.8h0M331.4 515.9h0M330.1 516.3h0M336 510.1h0M303.2 518.4h0M309.1 520.3h0M306.1 520.1h0M309.8 514.4h0M307.9 515.1h0M309.8 514.4h0M331.4 512.3h0M338.7 504.9h0M328.1 510.2h0M310.8 512.2h0M316.4 518.8h0M331 510.3h0M329.8 514.5h0M294.4 519.6h0M335.4 515.5h0M317.2 521.3h0M340 514.2h0M325.6 513h0M339.7 508.9h0M314.4 514.1h0M303.3 522h0M311.4 512.5h0M305.2 515.8h0M337.4 503h0M308.9 512.7h0M295.8 520.7h0M323.9 512.4h0M308.3 516.3h0M309.2 519.8h0M333.6 506.7h0M317.7 509.5h0M340.2 506.7h0M338.2 515h0M328.1 512.2h0M326.8 510.9h0M318.1 515.7h0M323.5 519.5h0M336.8 503h0M336.4 503.8h0M312.3 519.1h0M301.4 520.8h0M317.3 520.4h0M316.3 509.4h0M339.8 502.4h0M317.3 510h0M335.3 513.4h0M309.1 512.4h0M330.2 510.5h0M334.9 504.2h0M330.8 505.2h0M319.9 512.6h0M328.2 513h0M306.6 522.2h0M319 512.7h0M316.7 517.2h0M310.1 515.6h0M305.2 517.4h0M331.1 513.2h0M337.1 510.5h0M310.9 518.2h0M330 510.9h0M314.2 514.8h0M333.6 504.3h0M322.2 509.8h0M312.8 521.9h0M305.5 521.3h0M322.5 513.7h0M296.9 518.9h0M339.8 506.6h0M333.4 506.7h0M300.9 520.5h0M325.3 511.2h0M304.4 522.3h0M309.3 517.6h0M323.6 510h0M339.7 510.6h0M337.6 517.4h0M331.5 519.4h0M305.4 519.2h0M315.8 516.2h0M325.4 518.9h0M324.7 506.8h0M334 514.3h0M325.9 516.5h0M333.8 519.3h0M305 517.8h0M309.7 517.9h0M319.6 514.1h0M320.4 516.7h0M296.9 522.7h0M327.6 508.7h0M323.6 513.7h0M315.9 512.8h0M332 510.4h0M329.7 514.4h0M335.4 503.9h0M335.7 513.8h0M312.9 513.9h0M313.7 512.3h0M296.3 522.9h0M321 517.3h0M336.2 503.8h0M311.7 519.6h0M321.3 517.2h0M316.8 521.7h0M335.2 504.4h0M332.3 513.6h0M296.1 518.5h0M317.1 509.6h0M327 508.5h0M336.9 506.6h0M302.5 521.8h0M318.1 517.8h0M313.1 521.2h0M335.9 505.5h0M337.4 518.9h0M309.9 513.2h0M303.4 521.9h0M304.3 515.7h0M304.3 521.8h0M335.9 512.7h0M338.3 517.3h0M336 512.9h0M312.9 520.9h0M336.5 508.4h0M329.4 518.5h0M325 506.6h0M306.2 516.1h0M341.5 516.1h0M351 507.3h0M341.7 511.2h0M351.3 514.5h0M340.4 502.4h0M337.8 517h0M341.5 506h0M349.3 504h0M348.6 498.4h0M343.5 498.6h0M350.2 503.8h0M350.1 513.3h0M338.8 504.1h0M349.7 511.9h0M343.7 500.8h0M339.7 505.1h0M344.9 511.2h0M350.9 512h0M345.9 508.7h0M346.8 499.1h0M337.7 509h0M343.9 515.5h0M340.7 505.1h0M341 511.2h0M349.9 500.1h0M343.2 511.8h0M348.8 513.6h0M339.6 512.6h0M344.2 515.9h0M340.1 515h0M351.7 510.3h0M339.7 505.1h0M342.9 515.8h0M339.7 506.4h0M342.9 508.8h0M348.7 498.7h0M340.7 499.8h0M344.9 511.1h0M349.6 512.7h0M339.6 518.1h0M337.2 502h0M347.1 511.1h0M343.2 511.8h0M344.2 504.4h0M342 506.7h0M338.7 512.5h0M339.7 509.8h0M351.9 514.5h0M350.1 501.8h0M349.9 498.4h0M340.6 503.6h0M347.9 517.8h0M340.4 508.1h0M341.6 512.7h0M337.1 516.3h0M357.6 496.6h0M370.3 508.4h0M369.4 511.6h0M361.3 502h0M369.5 503.3h0M356.3 505.9h0M360.9 509.1h0M371.4 509.7h0M352 504.6h0M361.1 493.7h0M357.3 492.9h0M367.4 497.3h0M354.7 511.3h0M356.9 507.5h0M366.4 506.3h0M352.2 497.4h0M370.2 501.1h0M357.6 503.4h0M351.2 508h0M369 513.5h0M358 507.5h0M373 511.2h0M361.5 513.2h0M363.5 504.8h0M364.3 496.7h0M359.8 503.5h0M369.4 504.8h0M358.7 513.6h0M352.3 496.5h0M358.8 513.7h0M366.5 493.5h0M371.8 498.1h0M358.4 499.4h0M346.4 498.1h0M363.8 504.8h0M370.5 506.1h0M349 519.5h0M369.1 496.8h0"/>
<rect x="278.5" y="479.5" width="102" height="50" fill="none" stroke="#cacaca" stroke-width="1"/>
<text x="276.7" y="531.3" class="tl" text-anchor="end">0</text>
<text x="276.7" y="522.97" class="tl" text-anchor="end">4</text>
<text x="276.7" y="514.63" class="tl" text-anchor="end">8</text>
<text x="276.7" y="506.3" class="tl" text-anchor="end">12</text>
<text x="276.7" y="497.97" class="tl" text-anchor="end">16</text>
<text x="276.7" y="489.63" class="tl" text-anchor="end">20</text>
<text x="276.7" y="481.3" class="tl" text-anchor="end">24</text>
<text x="278.5" y="535.6" class="tl xt" text-anchor="middle">400</text>
<text x="295.5" y="535.6" class="tl xt" text-anchor="middle">800</text>
<text x="312.5" y="535.6" class="tl xt" text-anchor="middle">1200</text>
<text x="329.5" y="535.6" class="tl xt" text-anchor="middle">1600</text>
<text x="346.5" y="535.6" class="tl xt" text-anchor="middle">2000</text>
<text x="363.5" y="535.6" class="tl xt" text-anchor="middle">2400</text>
<text x="380.5" y="535.6" class="tl xt" text-anchor="middle">2800</text>
<text x="329.5" y="547.6" class="al xl" text-anchor="middle">W<tspan class="sb" dy="0.9">V</tspan><tspan dy="-0.9"> (kg)</tspan></text>
<text transform="translate(266.1 504.5) rotate(-90)" class="al" text-anchor="middle">FC<tspan class="sb" dy="1.2">M</tspan><tspan dy="-1.2"> (l/100km)</tspan></text>
</svg></body></html>
